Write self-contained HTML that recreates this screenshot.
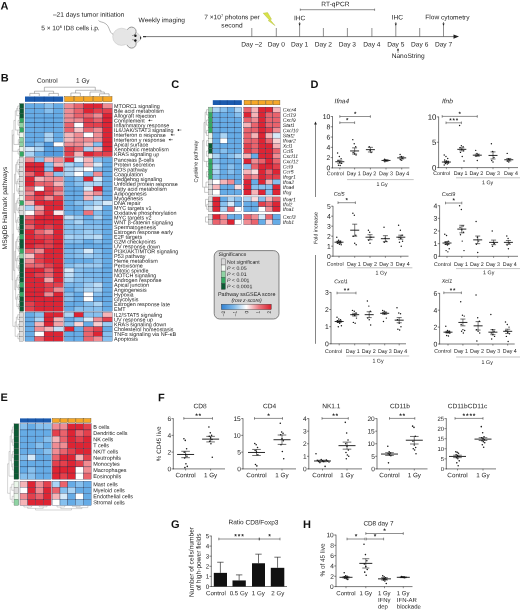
<!DOCTYPE html>
<html lang="en"><head><meta charset="utf-8"><title>Figure</title>
<style>
html,body{margin:0;padding:0;background:#fff;}
body{width:520px;height:611px;overflow:hidden;}
svg{display:block;font-family:"Liberation Sans", sans-serif;text-rendering:geometricPrecision;}
</style></head><body>
<svg width="520" height="611" viewBox="0 0 520 611">
<rect x="0" y="0" width="520" height="611" fill="#ffffff"/>
<text x="0.6" y="9.6" font-size="11" text-anchor="start" font-weight="bold" font-style="normal" fill="#111" transform="rotate(0.1 0.6 9.6)">A</text>
<text x="0.8" y="81.5" font-size="11" text-anchor="start" font-weight="bold" font-style="normal" fill="#111" transform="rotate(0.1 0.8 81.5)">B</text>
<text x="171.2" y="88.0" font-size="11" text-anchor="start" font-weight="bold" font-style="normal" fill="#111" transform="rotate(0.1 171.2 88.0)">C</text>
<text x="310.6" y="88.0" font-size="11" text-anchor="start" font-weight="bold" font-style="normal" fill="#111" transform="rotate(0.1 310.6 88.0)">D</text>
<text x="0.6" y="401" font-size="11" text-anchor="start" font-weight="bold" font-style="normal" fill="#111" transform="rotate(0.1 0.6 401)">E</text>
<text x="158" y="401.2" font-size="11" text-anchor="start" font-weight="bold" font-style="normal" fill="#111" transform="rotate(0.1 158 401.2)">F</text>
<text x="171" y="528.1" font-size="11" text-anchor="start" font-weight="bold" font-style="normal" fill="#111" transform="rotate(0.1 171 528.1)">G</text>
<text x="302.9" y="528.1" font-size="11" text-anchor="start" font-weight="bold" font-style="normal" fill="#111" transform="rotate(0.1 302.9 528.1)">H</text>
<text x="88.7" y="16.7" font-size="6.6" text-anchor="middle" font-weight="normal" font-style="normal" fill="#222" transform="rotate(0.1 88.7 16.7)">–21 days tumor initiation</text>
<text x="70.4" y="30.2" font-size="6.6" text-anchor="middle" fill="#222" transform="rotate(0.1 70.4 30.2)">5 × 10<tspan font-size="4" dy="-2.2">6</tspan><tspan dy="2.2"> ID8 cells i.p.</tspan></text>
<text x="161.8" y="22.2" font-size="6.6" text-anchor="middle" font-weight="normal" font-style="normal" fill="#222" transform="rotate(0.1 161.8 22.2)">Weekly imaging</text>
<text x="232" y="19.3" font-size="6.6" text-anchor="middle" fill="#222" transform="rotate(0.1 232 19.3)">7 ×10<tspan font-size="4" dy="-2.2">7</tspan><tspan dy="2.2"> photons per</tspan></text>
<text x="232" y="27.5" font-size="6.6" text-anchor="middle" font-weight="normal" font-style="normal" fill="#222" transform="rotate(0.1 232 27.5)">second</text>
<path d="M113.5 34.5 C109 33 110 27 106 24 C103 21.5 100 22.5 98.5 20.5" fill="none" stroke="#666" stroke-width="0.5"/>
<ellipse cx="121.6" cy="36.8" rx="8.9" ry="8.6" fill="#e5e5e5" stroke="#b5b5b5" stroke-width="0.4"/>
<path d="M127 29.8 Q137.5 30.2 141.6 37.9 Q137.5 45.4 127 45.6 Z" fill="#e5e5e5" stroke="#b0b0b0" stroke-width="0.4"/>
<ellipse cx="131.6" cy="31.4" rx="4.5" ry="4.3" fill="#e9e9e9" stroke="#8a8a8a" stroke-width="0.9"/>
<ellipse cx="131.6" cy="43.8" rx="4.5" ry="4.3" fill="#e9e9e9" stroke="#8a8a8a" stroke-width="0.9"/>
<ellipse cx="127.5" cy="37.4" rx="5" ry="7.6" fill="#e5e5e5"/>
<circle cx="135.40" cy="35.70" r="1.2" fill="#111"/>
<circle cx="135.40" cy="40.50" r="1.2" fill="#111"/>
<path d="M140.0 36.1 Q142.4 37.9 140.0 39.7 Z" fill="#333"/>
<line x1="143.00" y1="36.60" x2="146.00" y2="36.60" stroke="#222" stroke-width="1.2"/>
<line x1="143.00" y1="36.60" x2="455.00" y2="36.60" stroke="#444" stroke-width="0.7"/>
<path d="M453.5 34.5 L459 36.6 L453.5 38.7 Z" fill="#222"/>
<line x1="251.80" y1="36.60" x2="251.80" y2="28.00" stroke="#444" stroke-width="0.6"/>
<text x="251.8" y="46.6" font-size="6.6" text-anchor="middle" font-weight="normal" font-style="normal" fill="#222" transform="rotate(0.1 251.8 46.6)">Day –2</text>
<line x1="276.30" y1="36.60" x2="276.30" y2="28.00" stroke="#444" stroke-width="0.6"/>
<text x="276.3" y="46.6" font-size="6.6" text-anchor="middle" font-weight="normal" font-style="normal" fill="#222" transform="rotate(0.1 276.3 46.6)">Day 0</text>
<line x1="299.60" y1="36.60" x2="299.60" y2="22.00" stroke="#444" stroke-width="0.6"/>
<text x="299.6" y="46.6" font-size="6.6" text-anchor="middle" font-weight="normal" font-style="normal" fill="#222" transform="rotate(0.1 299.6 46.6)">Day 1</text>
<path d="M298.5 23.6 L300.70000000000005 23.6 L299.6 25.8 Z" fill="#222"/>
<line x1="323.40" y1="36.60" x2="323.40" y2="28.00" stroke="#444" stroke-width="0.6"/>
<text x="323.4" y="46.6" font-size="6.6" text-anchor="middle" font-weight="normal" font-style="normal" fill="#222" transform="rotate(0.1 323.4 46.6)">Day 2</text>
<line x1="347.40" y1="36.60" x2="347.40" y2="28.00" stroke="#444" stroke-width="0.6"/>
<text x="347.4" y="46.6" font-size="6.6" text-anchor="middle" font-weight="normal" font-style="normal" fill="#222" transform="rotate(0.1 347.4 46.6)">Day 3</text>
<line x1="371.90" y1="36.60" x2="371.90" y2="28.00" stroke="#444" stroke-width="0.6"/>
<text x="371.9" y="46.6" font-size="6.6" text-anchor="middle" font-weight="normal" font-style="normal" fill="#222" transform="rotate(0.1 371.9 46.6)">Day 4</text>
<line x1="395.80" y1="36.60" x2="395.80" y2="22.00" stroke="#444" stroke-width="0.6"/>
<text x="395.8" y="46.6" font-size="6.6" text-anchor="middle" font-weight="normal" font-style="normal" fill="#222" transform="rotate(0.1 395.8 46.6)">Day 5</text>
<path d="M394.7 23.6 L396.90000000000003 23.6 L395.8 25.8 Z" fill="#222"/>
<line x1="419.70" y1="36.60" x2="419.70" y2="28.00" stroke="#444" stroke-width="0.6"/>
<text x="419.7" y="46.6" font-size="6.6" text-anchor="middle" font-weight="normal" font-style="normal" fill="#222" transform="rotate(0.1 419.7 46.6)">Day 6</text>
<line x1="443.50" y1="36.60" x2="443.50" y2="22.00" stroke="#444" stroke-width="0.6"/>
<text x="443.5" y="46.6" font-size="6.6" text-anchor="middle" font-weight="normal" font-style="normal" fill="#222" transform="rotate(0.1 443.5 46.6)">Day 7</text>
<path d="M442.4 23.6 L444.6 23.6 L443.5 25.8 Z" fill="#222"/>
<text x="299.6" y="20.2" font-size="6.6" text-anchor="middle" font-weight="normal" font-style="normal" fill="#222" transform="rotate(0.1 299.6 20.2)">IHC</text>
<text x="397.3" y="19.4" font-size="6.6" text-anchor="middle" font-weight="normal" font-style="normal" fill="#222" transform="rotate(0.1 397.3 19.4)">IHC</text>
<text x="447.4" y="19.4" font-size="6.6" text-anchor="middle" font-weight="normal" font-style="normal" fill="#222" transform="rotate(0.1 447.4 19.4)">Flow cytometry</text>
<text x="335.4" y="6.2" font-size="6.6" text-anchor="middle" font-weight="normal" font-style="normal" fill="#222" transform="rotate(0.1 335.4 6.2)">RT-qPCR</text>
<line x1="300.30" y1="9.70" x2="374.60" y2="9.70" stroke="#444" stroke-width="0.6"/>
<line x1="300.30" y1="8.60" x2="300.30" y2="10.80" stroke="#444" stroke-width="0.6"/>
<line x1="374.60" y1="8.60" x2="374.60" y2="10.80" stroke="#444" stroke-width="0.6"/>
<line x1="398.00" y1="53.00" x2="398.00" y2="49.00" stroke="#333" stroke-width="0.5"/>
<path d="M396.9 50.4 L399.1 50.4 L398 48.2 Z" fill="#222"/>
<text x="408.2" y="58" font-size="6.6" text-anchor="middle" font-weight="normal" font-style="normal" fill="#222" transform="rotate(0.1 408.2 58)">NanoString</text>
<path d="M263.2 13.2 L267.6 12.6 L271.5 19.2 L270 19.6 L275 25.6 L268.2 20.6 L269.6 20.2 Z" fill="#d9e24a" stroke="#a9b52a" stroke-width="0.4"/>
<rect x="25.00" y="96.50" width="38.20" height="5.30" fill="#1b5aae"/>
<line x1="34.55" y1="96.50" x2="34.55" y2="101.80" stroke="#0e3a7a" stroke-width="0.4"/>
<line x1="44.10" y1="96.50" x2="44.10" y2="101.80" stroke="#0e3a7a" stroke-width="0.4"/>
<line x1="53.65" y1="96.50" x2="53.65" y2="101.80" stroke="#0e3a7a" stroke-width="0.4"/>
<rect x="64.75" y="96.70" width="9.05" height="4.90" fill="#f6a828" stroke="#7a5410" stroke-width="0.45"/>
<rect x="74.30" y="96.70" width="9.05" height="4.90" fill="#f6a828" stroke="#7a5410" stroke-width="0.45"/>
<rect x="83.85" y="96.70" width="9.05" height="4.90" fill="#f6a828" stroke="#7a5410" stroke-width="0.45"/>
<rect x="93.40" y="96.70" width="9.05" height="4.90" fill="#f6a828" stroke="#7a5410" stroke-width="0.45"/>
<rect x="102.95" y="96.70" width="9.05" height="4.90" fill="#f6a828" stroke="#7a5410" stroke-width="0.45"/>
<rect x="19.70" y="103.60" width="4.10" height="4.81" fill="#0c5a34" stroke="#444" stroke-width="0.26"/>
<rect x="25.00" y="103.60" width="9.55" height="4.81" fill="#66ace6" stroke="#0d1a3a" stroke-width="0.26"/>
<rect x="34.55" y="103.60" width="9.55" height="4.81" fill="#66ace6" stroke="#0d1a3a" stroke-width="0.26"/>
<rect x="44.10" y="103.60" width="9.55" height="4.81" fill="#86c0ee" stroke="#0d1a3a" stroke-width="0.26"/>
<rect x="53.65" y="103.60" width="9.55" height="4.81" fill="#66ace6" stroke="#0d1a3a" stroke-width="0.26"/>
<rect x="64.50" y="103.60" width="9.55" height="4.81" fill="#f08c92" stroke="#0d1a3a" stroke-width="0.26"/>
<rect x="74.05" y="103.60" width="9.55" height="4.81" fill="#ea636c" stroke="#0d1a3a" stroke-width="0.26"/>
<rect x="83.60" y="103.60" width="9.55" height="4.81" fill="#de2433" stroke="#0d1a3a" stroke-width="0.26"/>
<rect x="93.15" y="103.60" width="9.55" height="4.81" fill="#de2433" stroke="#0d1a3a" stroke-width="0.26"/>
<rect x="102.70" y="103.60" width="9.55" height="4.81" fill="#f08c92" stroke="#0d1a3a" stroke-width="0.26"/>
<text x="114" y="107.967" font-size="5.45" text-anchor="start" font-weight="normal" font-style="normal" fill="#222" transform="rotate(0.1 114 107.967)">MTORC1 signaling</text>
<rect x="19.70" y="108.41" width="4.10" height="4.81" fill="#0c5a34" stroke="#444" stroke-width="0.26"/>
<rect x="25.00" y="108.41" width="9.55" height="4.81" fill="#66ace6" stroke="#0d1a3a" stroke-width="0.26"/>
<rect x="34.55" y="108.41" width="9.55" height="4.81" fill="#66ace6" stroke="#0d1a3a" stroke-width="0.26"/>
<rect x="44.10" y="108.41" width="9.55" height="4.81" fill="#86c0ee" stroke="#0d1a3a" stroke-width="0.26"/>
<rect x="53.65" y="108.41" width="9.55" height="4.81" fill="#66ace6" stroke="#0d1a3a" stroke-width="0.26"/>
<rect x="64.50" y="108.41" width="9.55" height="4.81" fill="#f08c92" stroke="#0d1a3a" stroke-width="0.26"/>
<rect x="74.05" y="108.41" width="9.55" height="4.81" fill="#ea636c" stroke="#0d1a3a" stroke-width="0.26"/>
<rect x="83.60" y="108.41" width="9.55" height="4.81" fill="#de2433" stroke="#0d1a3a" stroke-width="0.26"/>
<rect x="93.15" y="108.41" width="9.55" height="4.81" fill="#e4404c" stroke="#0d1a3a" stroke-width="0.26"/>
<rect x="102.70" y="108.41" width="9.55" height="4.81" fill="#e4404c" stroke="#0d1a3a" stroke-width="0.26"/>
<text x="114" y="112.777" font-size="5.45" text-anchor="start" font-weight="normal" font-style="normal" fill="#222" transform="rotate(0.1 114 112.777)">Bile acid metabolism</text>
<rect x="19.70" y="113.22" width="4.10" height="4.81" fill="#0c5a34" stroke="#444" stroke-width="0.26"/>
<rect x="25.00" y="113.22" width="9.55" height="4.81" fill="#66ace6" stroke="#0d1a3a" stroke-width="0.26"/>
<rect x="34.55" y="113.22" width="9.55" height="4.81" fill="#66ace6" stroke="#0d1a3a" stroke-width="0.26"/>
<rect x="44.10" y="113.22" width="9.55" height="4.81" fill="#66ace6" stroke="#0d1a3a" stroke-width="0.26"/>
<rect x="53.65" y="113.22" width="9.55" height="4.81" fill="#66ace6" stroke="#0d1a3a" stroke-width="0.26"/>
<rect x="64.50" y="113.22" width="9.55" height="4.81" fill="#f08c92" stroke="#0d1a3a" stroke-width="0.26"/>
<rect x="74.05" y="113.22" width="9.55" height="4.81" fill="#ea636c" stroke="#0d1a3a" stroke-width="0.26"/>
<rect x="83.60" y="113.22" width="9.55" height="4.81" fill="#ea636c" stroke="#0d1a3a" stroke-width="0.26"/>
<rect x="93.15" y="113.22" width="9.55" height="4.81" fill="#f08c92" stroke="#0d1a3a" stroke-width="0.26"/>
<rect x="102.70" y="113.22" width="9.55" height="4.81" fill="#de2433" stroke="#0d1a3a" stroke-width="0.26"/>
<text x="114" y="117.587" font-size="5.45" text-anchor="start" font-weight="normal" font-style="normal" fill="#222" transform="rotate(0.1 114 117.587)">Allograft rejection</text>
<rect x="19.70" y="118.03" width="4.10" height="4.81" fill="#35a862" stroke="#444" stroke-width="0.26"/>
<rect x="25.00" y="118.03" width="9.55" height="4.81" fill="#66ace6" stroke="#0d1a3a" stroke-width="0.26"/>
<rect x="34.55" y="118.03" width="9.55" height="4.81" fill="#66ace6" stroke="#0d1a3a" stroke-width="0.26"/>
<rect x="44.10" y="118.03" width="9.55" height="4.81" fill="#66ace6" stroke="#0d1a3a" stroke-width="0.26"/>
<rect x="53.65" y="118.03" width="9.55" height="4.81" fill="#66ace6" stroke="#0d1a3a" stroke-width="0.26"/>
<rect x="64.50" y="118.03" width="9.55" height="4.81" fill="#f08c92" stroke="#0d1a3a" stroke-width="0.26"/>
<rect x="74.05" y="118.03" width="9.55" height="4.81" fill="#f08c92" stroke="#0d1a3a" stroke-width="0.26"/>
<rect x="83.60" y="118.03" width="9.55" height="4.81" fill="#e4404c" stroke="#0d1a3a" stroke-width="0.26"/>
<rect x="93.15" y="118.03" width="9.55" height="4.81" fill="#ea636c" stroke="#0d1a3a" stroke-width="0.26"/>
<rect x="102.70" y="118.03" width="9.55" height="4.81" fill="#de2433" stroke="#0d1a3a" stroke-width="0.26"/>
<text x="114" y="122.397" font-size="5.45" text-anchor="start" font-weight="normal" font-style="normal" fill="#222" transform="rotate(0.1 114 122.397)">Complement</text>
<rect x="19.70" y="122.84" width="4.10" height="4.81" fill="#8fd3a3" stroke="#444" stroke-width="0.26"/>
<rect x="25.00" y="122.84" width="9.55" height="4.81" fill="#66ace6" stroke="#0d1a3a" stroke-width="0.26"/>
<rect x="34.55" y="122.84" width="9.55" height="4.81" fill="#66ace6" stroke="#0d1a3a" stroke-width="0.26"/>
<rect x="44.10" y="122.84" width="9.55" height="4.81" fill="#66ace6" stroke="#0d1a3a" stroke-width="0.26"/>
<rect x="53.65" y="122.84" width="9.55" height="4.81" fill="#66ace6" stroke="#0d1a3a" stroke-width="0.26"/>
<rect x="64.50" y="122.84" width="9.55" height="4.81" fill="#ea636c" stroke="#0d1a3a" stroke-width="0.26"/>
<rect x="74.05" y="122.84" width="9.55" height="4.81" fill="#ffffff" stroke="#0d1a3a" stroke-width="0.26"/>
<rect x="83.60" y="122.84" width="9.55" height="4.81" fill="#e4404c" stroke="#0d1a3a" stroke-width="0.26"/>
<rect x="93.15" y="122.84" width="9.55" height="4.81" fill="#e4404c" stroke="#0d1a3a" stroke-width="0.26"/>
<rect x="102.70" y="122.84" width="9.55" height="4.81" fill="#de2433" stroke="#0d1a3a" stroke-width="0.26"/>
<text x="114" y="127.207" font-size="5.45" text-anchor="start" font-weight="normal" font-style="normal" fill="#222" transform="rotate(0.1 114 127.207)">Inflammatory response</text>
<rect x="19.70" y="127.65" width="4.10" height="4.81" fill="#35a862" stroke="#444" stroke-width="0.26"/>
<rect x="25.00" y="127.65" width="9.55" height="4.81" fill="#66ace6" stroke="#0d1a3a" stroke-width="0.26"/>
<rect x="34.55" y="127.65" width="9.55" height="4.81" fill="#66ace6" stroke="#0d1a3a" stroke-width="0.26"/>
<rect x="44.10" y="127.65" width="9.55" height="4.81" fill="#66ace6" stroke="#0d1a3a" stroke-width="0.26"/>
<rect x="53.65" y="127.65" width="9.55" height="4.81" fill="#66ace6" stroke="#0d1a3a" stroke-width="0.26"/>
<rect x="64.50" y="127.65" width="9.55" height="4.81" fill="#ea636c" stroke="#0d1a3a" stroke-width="0.26"/>
<rect x="74.05" y="127.65" width="9.55" height="4.81" fill="#f8c4c6" stroke="#0d1a3a" stroke-width="0.26"/>
<rect x="83.60" y="127.65" width="9.55" height="4.81" fill="#ea636c" stroke="#0d1a3a" stroke-width="0.26"/>
<rect x="93.15" y="127.65" width="9.55" height="4.81" fill="#f08c92" stroke="#0d1a3a" stroke-width="0.26"/>
<rect x="102.70" y="127.65" width="9.55" height="4.81" fill="#de2433" stroke="#0d1a3a" stroke-width="0.26"/>
<text x="114" y="132.01699999999997" font-size="5.45" text-anchor="start" font-weight="normal" font-style="normal" fill="#222" transform="rotate(0.1 114 132.01699999999997)">IL6/JAK/STAT3 signaling</text>
<rect x="19.70" y="132.46" width="4.10" height="4.81" fill="#eaf6ea" stroke="#444" stroke-width="0.26"/>
<rect x="25.00" y="132.46" width="9.55" height="4.81" fill="#66ace6" stroke="#0d1a3a" stroke-width="0.26"/>
<rect x="34.55" y="132.46" width="9.55" height="4.81" fill="#66ace6" stroke="#0d1a3a" stroke-width="0.26"/>
<rect x="44.10" y="132.46" width="9.55" height="4.81" fill="#aad4f4" stroke="#0d1a3a" stroke-width="0.26"/>
<rect x="53.65" y="132.46" width="9.55" height="4.81" fill="#66ace6" stroke="#0d1a3a" stroke-width="0.26"/>
<rect x="64.50" y="132.46" width="9.55" height="4.81" fill="#f6b4b7" stroke="#0d1a3a" stroke-width="0.26"/>
<rect x="74.05" y="132.46" width="9.55" height="4.81" fill="#f08c92" stroke="#0d1a3a" stroke-width="0.26"/>
<rect x="83.60" y="132.46" width="9.55" height="4.81" fill="#ffffff" stroke="#0d1a3a" stroke-width="0.26"/>
<rect x="93.15" y="132.46" width="9.55" height="4.81" fill="#f08c92" stroke="#0d1a3a" stroke-width="0.26"/>
<rect x="102.70" y="132.46" width="9.55" height="4.81" fill="#de2433" stroke="#0d1a3a" stroke-width="0.26"/>
<text x="114" y="136.82699999999997" font-size="5.45" text-anchor="start" font-weight="normal" font-style="normal" fill="#222" transform="rotate(0.1 114 136.82699999999997)">Interferon α response</text>
<rect x="19.70" y="137.27" width="4.10" height="4.81" fill="#8fd3a3" stroke="#444" stroke-width="0.26"/>
<rect x="25.00" y="137.27" width="9.55" height="4.81" fill="#66ace6" stroke="#0d1a3a" stroke-width="0.26"/>
<rect x="34.55" y="137.27" width="9.55" height="4.81" fill="#66ace6" stroke="#0d1a3a" stroke-width="0.26"/>
<rect x="44.10" y="137.27" width="9.55" height="4.81" fill="#aad4f4" stroke="#0d1a3a" stroke-width="0.26"/>
<rect x="53.65" y="137.27" width="9.55" height="4.81" fill="#66ace6" stroke="#0d1a3a" stroke-width="0.26"/>
<rect x="64.50" y="137.27" width="9.55" height="4.81" fill="#f6b4b7" stroke="#0d1a3a" stroke-width="0.26"/>
<rect x="74.05" y="137.27" width="9.55" height="4.81" fill="#f08c92" stroke="#0d1a3a" stroke-width="0.26"/>
<rect x="83.60" y="137.27" width="9.55" height="4.81" fill="#f08c92" stroke="#0d1a3a" stroke-width="0.26"/>
<rect x="93.15" y="137.27" width="9.55" height="4.81" fill="#f08c92" stroke="#0d1a3a" stroke-width="0.26"/>
<rect x="102.70" y="137.27" width="9.55" height="4.81" fill="#de2433" stroke="#0d1a3a" stroke-width="0.26"/>
<text x="114" y="141.63699999999997" font-size="5.45" text-anchor="start" font-weight="normal" font-style="normal" fill="#222" transform="rotate(0.1 114 141.63699999999997)">Interferon γ response</text>
<rect x="19.70" y="142.08" width="4.10" height="4.81" fill="#8fd3a3" stroke="#444" stroke-width="0.26"/>
<rect x="25.00" y="142.08" width="9.55" height="4.81" fill="#66ace6" stroke="#0d1a3a" stroke-width="0.26"/>
<rect x="34.55" y="142.08" width="9.55" height="4.81" fill="#86c0ee" stroke="#0d1a3a" stroke-width="0.26"/>
<rect x="44.10" y="142.08" width="9.55" height="4.81" fill="#519bde" stroke="#0d1a3a" stroke-width="0.26"/>
<rect x="53.65" y="142.08" width="9.55" height="4.81" fill="#ffffff" stroke="#0d1a3a" stroke-width="0.26"/>
<rect x="64.50" y="142.08" width="9.55" height="4.81" fill="#f08c92" stroke="#0d1a3a" stroke-width="0.26"/>
<rect x="74.05" y="142.08" width="9.55" height="4.81" fill="#f08c92" stroke="#0d1a3a" stroke-width="0.26"/>
<rect x="83.60" y="142.08" width="9.55" height="4.81" fill="#f6b4b7" stroke="#0d1a3a" stroke-width="0.26"/>
<rect x="93.15" y="142.08" width="9.55" height="4.81" fill="#86c0ee" stroke="#0d1a3a" stroke-width="0.26"/>
<rect x="102.70" y="142.08" width="9.55" height="4.81" fill="#de2433" stroke="#0d1a3a" stroke-width="0.26"/>
<text x="114" y="146.44699999999997" font-size="5.45" text-anchor="start" font-weight="normal" font-style="normal" fill="#222" transform="rotate(0.1 114 146.44699999999997)">Apical surface</text>
<rect x="19.70" y="146.89" width="4.10" height="4.81" fill="#eaf6ea" stroke="#444" stroke-width="0.26"/>
<rect x="25.00" y="146.89" width="9.55" height="4.81" fill="#d6eaf9" stroke="#0d1a3a" stroke-width="0.26"/>
<rect x="34.55" y="146.89" width="9.55" height="4.81" fill="#aad4f4" stroke="#0d1a3a" stroke-width="0.26"/>
<rect x="44.10" y="146.89" width="9.55" height="4.81" fill="#59a2e1" stroke="#0d1a3a" stroke-width="0.26"/>
<rect x="53.65" y="146.89" width="9.55" height="4.81" fill="#59a2e1" stroke="#0d1a3a" stroke-width="0.26"/>
<rect x="64.50" y="146.89" width="9.55" height="4.81" fill="#e4404c" stroke="#0d1a3a" stroke-width="0.26"/>
<rect x="74.05" y="146.89" width="9.55" height="4.81" fill="#ea636c" stroke="#0d1a3a" stroke-width="0.26"/>
<rect x="83.60" y="146.89" width="9.55" height="4.81" fill="#aad4f4" stroke="#0d1a3a" stroke-width="0.26"/>
<rect x="93.15" y="146.89" width="9.55" height="4.81" fill="#f6b4b7" stroke="#0d1a3a" stroke-width="0.26"/>
<rect x="102.70" y="146.89" width="9.55" height="4.81" fill="#de2433" stroke="#0d1a3a" stroke-width="0.26"/>
<text x="114" y="151.25699999999998" font-size="5.45" text-anchor="start" font-weight="normal" font-style="normal" fill="#222" transform="rotate(0.1 114 151.25699999999998)">Xenobiotic metabolism</text>
<rect x="19.70" y="151.70" width="4.10" height="4.81" fill="#35a862" stroke="#444" stroke-width="0.26"/>
<rect x="25.00" y="151.70" width="9.55" height="4.81" fill="#aad4f4" stroke="#0d1a3a" stroke-width="0.26"/>
<rect x="34.55" y="151.70" width="9.55" height="4.81" fill="#66ace6" stroke="#0d1a3a" stroke-width="0.26"/>
<rect x="44.10" y="151.70" width="9.55" height="4.81" fill="#519bde" stroke="#0d1a3a" stroke-width="0.26"/>
<rect x="53.65" y="151.70" width="9.55" height="4.81" fill="#519bde" stroke="#0d1a3a" stroke-width="0.26"/>
<rect x="64.50" y="151.70" width="9.55" height="4.81" fill="#e4404c" stroke="#0d1a3a" stroke-width="0.26"/>
<rect x="74.05" y="151.70" width="9.55" height="4.81" fill="#f6b4b7" stroke="#0d1a3a" stroke-width="0.26"/>
<rect x="83.60" y="151.70" width="9.55" height="4.81" fill="#de2433" stroke="#0d1a3a" stroke-width="0.26"/>
<rect x="93.15" y="151.70" width="9.55" height="4.81" fill="#e4404c" stroke="#0d1a3a" stroke-width="0.26"/>
<rect x="102.70" y="151.70" width="9.55" height="4.81" fill="#e4404c" stroke="#0d1a3a" stroke-width="0.26"/>
<text x="114" y="156.06699999999998" font-size="5.45" text-anchor="start" font-weight="normal" font-style="normal" fill="#222" transform="rotate(0.1 114 156.06699999999998)">KRAS signaling up</text>
<rect x="19.70" y="157.40" width="4.10" height="4.81" fill="#dcdcdc" stroke="#444" stroke-width="0.26"/>
<rect x="25.00" y="157.40" width="9.55" height="4.81" fill="#f08c92" stroke="#0d1a3a" stroke-width="0.26"/>
<rect x="34.55" y="157.40" width="9.55" height="4.81" fill="#86c0ee" stroke="#0d1a3a" stroke-width="0.26"/>
<rect x="44.10" y="157.40" width="9.55" height="4.81" fill="#f6b4b7" stroke="#0d1a3a" stroke-width="0.26"/>
<rect x="53.65" y="157.40" width="9.55" height="4.81" fill="#f08c92" stroke="#0d1a3a" stroke-width="0.26"/>
<rect x="64.50" y="157.40" width="9.55" height="4.81" fill="#de2433" stroke="#0d1a3a" stroke-width="0.26"/>
<rect x="74.05" y="157.40" width="9.55" height="4.81" fill="#e6f2fb" stroke="#0d1a3a" stroke-width="0.26"/>
<rect x="83.60" y="157.40" width="9.55" height="4.81" fill="#f6b4b7" stroke="#0d1a3a" stroke-width="0.26"/>
<rect x="93.15" y="157.40" width="9.55" height="4.81" fill="#86c0ee" stroke="#0d1a3a" stroke-width="0.26"/>
<rect x="102.70" y="157.40" width="9.55" height="4.81" fill="#66ace6" stroke="#0d1a3a" stroke-width="0.26"/>
<text x="114" y="161.767" font-size="5.45" text-anchor="start" font-weight="normal" font-style="normal" fill="#222" transform="rotate(0.1 114 161.767)">Pancreas β-cells</text>
<rect x="19.70" y="162.21" width="4.10" height="4.81" fill="#dcdcdc" stroke="#444" stroke-width="0.26"/>
<rect x="25.00" y="162.21" width="9.55" height="4.81" fill="#de2433" stroke="#0d1a3a" stroke-width="0.26"/>
<rect x="34.55" y="162.21" width="9.55" height="4.81" fill="#de2433" stroke="#0d1a3a" stroke-width="0.26"/>
<rect x="44.10" y="162.21" width="9.55" height="4.81" fill="#86c0ee" stroke="#0d1a3a" stroke-width="0.26"/>
<rect x="53.65" y="162.21" width="9.55" height="4.81" fill="#f6b4b7" stroke="#0d1a3a" stroke-width="0.26"/>
<rect x="64.50" y="162.21" width="9.55" height="4.81" fill="#aad4f4" stroke="#0d1a3a" stroke-width="0.26"/>
<rect x="74.05" y="162.21" width="9.55" height="4.81" fill="#86c0ee" stroke="#0d1a3a" stroke-width="0.26"/>
<rect x="83.60" y="162.21" width="9.55" height="4.81" fill="#f6b4b7" stroke="#0d1a3a" stroke-width="0.26"/>
<rect x="93.15" y="162.21" width="9.55" height="4.81" fill="#d6eaf9" stroke="#0d1a3a" stroke-width="0.26"/>
<rect x="102.70" y="162.21" width="9.55" height="4.81" fill="#66ace6" stroke="#0d1a3a" stroke-width="0.26"/>
<text x="114" y="166.577" font-size="5.45" text-anchor="start" font-weight="normal" font-style="normal" fill="#222" transform="rotate(0.1 114 166.577)">Protein secretion</text>
<rect x="19.70" y="167.02" width="4.10" height="4.81" fill="#dcdcdc" stroke="#444" stroke-width="0.26"/>
<rect x="25.00" y="167.02" width="9.55" height="4.81" fill="#de2433" stroke="#0d1a3a" stroke-width="0.26"/>
<rect x="34.55" y="167.02" width="9.55" height="4.81" fill="#de2433" stroke="#0d1a3a" stroke-width="0.26"/>
<rect x="44.10" y="167.02" width="9.55" height="4.81" fill="#86c0ee" stroke="#0d1a3a" stroke-width="0.26"/>
<rect x="53.65" y="167.02" width="9.55" height="4.81" fill="#de2433" stroke="#0d1a3a" stroke-width="0.26"/>
<rect x="64.50" y="167.02" width="9.55" height="4.81" fill="#aad4f4" stroke="#0d1a3a" stroke-width="0.26"/>
<rect x="74.05" y="167.02" width="9.55" height="4.81" fill="#d6eaf9" stroke="#0d1a3a" stroke-width="0.26"/>
<rect x="83.60" y="167.02" width="9.55" height="4.81" fill="#ffffff" stroke="#0d1a3a" stroke-width="0.26"/>
<rect x="93.15" y="167.02" width="9.55" height="4.81" fill="#86c0ee" stroke="#0d1a3a" stroke-width="0.26"/>
<rect x="102.70" y="167.02" width="9.55" height="4.81" fill="#66ace6" stroke="#0d1a3a" stroke-width="0.26"/>
<text x="114" y="171.387" font-size="5.45" text-anchor="start" font-weight="normal" font-style="normal" fill="#222" transform="rotate(0.1 114 171.387)">ROS pathway</text>
<rect x="19.70" y="171.83" width="4.10" height="4.81" fill="#dcdcdc" stroke="#444" stroke-width="0.26"/>
<rect x="25.00" y="171.83" width="9.55" height="4.81" fill="#ea636c" stroke="#0d1a3a" stroke-width="0.26"/>
<rect x="34.55" y="171.83" width="9.55" height="4.81" fill="#de2433" stroke="#0d1a3a" stroke-width="0.26"/>
<rect x="44.10" y="171.83" width="9.55" height="4.81" fill="#f08c92" stroke="#0d1a3a" stroke-width="0.26"/>
<rect x="53.65" y="171.83" width="9.55" height="4.81" fill="#86c0ee" stroke="#0d1a3a" stroke-width="0.26"/>
<rect x="64.50" y="171.83" width="9.55" height="4.81" fill="#aad4f4" stroke="#0d1a3a" stroke-width="0.26"/>
<rect x="74.05" y="171.83" width="9.55" height="4.81" fill="#ffffff" stroke="#0d1a3a" stroke-width="0.26"/>
<rect x="83.60" y="171.83" width="9.55" height="4.81" fill="#86c0ee" stroke="#0d1a3a" stroke-width="0.26"/>
<rect x="93.15" y="171.83" width="9.55" height="4.81" fill="#f08c92" stroke="#0d1a3a" stroke-width="0.26"/>
<rect x="102.70" y="171.83" width="9.55" height="4.81" fill="#66ace6" stroke="#0d1a3a" stroke-width="0.26"/>
<text x="114" y="176.197" font-size="5.45" text-anchor="start" font-weight="normal" font-style="normal" fill="#222" transform="rotate(0.1 114 176.197)">Coagulation</text>
<rect x="19.70" y="176.64" width="4.10" height="4.81" fill="#dcdcdc" stroke="#444" stroke-width="0.26"/>
<rect x="25.00" y="176.64" width="9.55" height="4.81" fill="#de2433" stroke="#0d1a3a" stroke-width="0.26"/>
<rect x="34.55" y="176.64" width="9.55" height="4.81" fill="#f6b4b7" stroke="#0d1a3a" stroke-width="0.26"/>
<rect x="44.10" y="176.64" width="9.55" height="4.81" fill="#f08c92" stroke="#0d1a3a" stroke-width="0.26"/>
<rect x="53.65" y="176.64" width="9.55" height="4.81" fill="#f08c92" stroke="#0d1a3a" stroke-width="0.26"/>
<rect x="64.50" y="176.64" width="9.55" height="4.81" fill="#66ace6" stroke="#0d1a3a" stroke-width="0.26"/>
<rect x="74.05" y="176.64" width="9.55" height="4.81" fill="#86c0ee" stroke="#0d1a3a" stroke-width="0.26"/>
<rect x="83.60" y="176.64" width="9.55" height="4.81" fill="#de2433" stroke="#0d1a3a" stroke-width="0.26"/>
<rect x="93.15" y="176.64" width="9.55" height="4.81" fill="#d6eaf9" stroke="#0d1a3a" stroke-width="0.26"/>
<rect x="102.70" y="176.64" width="9.55" height="4.81" fill="#66ace6" stroke="#0d1a3a" stroke-width="0.26"/>
<text x="114" y="181.007" font-size="5.45" text-anchor="start" font-weight="normal" font-style="normal" fill="#222" transform="rotate(0.1 114 181.007)">Hedgehog signaling</text>
<rect x="19.70" y="181.45" width="4.10" height="4.81" fill="#dcdcdc" stroke="#444" stroke-width="0.26"/>
<rect x="25.00" y="181.45" width="9.55" height="4.81" fill="#de2433" stroke="#0d1a3a" stroke-width="0.26"/>
<rect x="34.55" y="181.45" width="9.55" height="4.81" fill="#ea636c" stroke="#0d1a3a" stroke-width="0.26"/>
<rect x="44.10" y="181.45" width="9.55" height="4.81" fill="#ea636c" stroke="#0d1a3a" stroke-width="0.26"/>
<rect x="53.65" y="181.45" width="9.55" height="4.81" fill="#f6b4b7" stroke="#0d1a3a" stroke-width="0.26"/>
<rect x="64.50" y="181.45" width="9.55" height="4.81" fill="#66ace6" stroke="#0d1a3a" stroke-width="0.26"/>
<rect x="74.05" y="181.45" width="9.55" height="4.81" fill="#86c0ee" stroke="#0d1a3a" stroke-width="0.26"/>
<rect x="83.60" y="181.45" width="9.55" height="4.81" fill="#aad4f4" stroke="#0d1a3a" stroke-width="0.26"/>
<rect x="93.15" y="181.45" width="9.55" height="4.81" fill="#aad4f4" stroke="#0d1a3a" stroke-width="0.26"/>
<rect x="102.70" y="181.45" width="9.55" height="4.81" fill="#66ace6" stroke="#0d1a3a" stroke-width="0.26"/>
<text x="114" y="185.81699999999998" font-size="5.45" text-anchor="start" font-weight="normal" font-style="normal" fill="#222" transform="rotate(0.1 114 185.81699999999998)">Unfolded protein response</text>
<rect x="19.70" y="186.26" width="4.10" height="4.81" fill="#eaf6ea" stroke="#444" stroke-width="0.26"/>
<rect x="25.00" y="186.26" width="9.55" height="4.81" fill="#ea636c" stroke="#0d1a3a" stroke-width="0.26"/>
<rect x="34.55" y="186.26" width="9.55" height="4.81" fill="#ffffff" stroke="#0d1a3a" stroke-width="0.26"/>
<rect x="44.10" y="186.26" width="9.55" height="4.81" fill="#e4404c" stroke="#0d1a3a" stroke-width="0.26"/>
<rect x="53.65" y="186.26" width="9.55" height="4.81" fill="#ea636c" stroke="#0d1a3a" stroke-width="0.26"/>
<rect x="64.50" y="186.26" width="9.55" height="4.81" fill="#66ace6" stroke="#0d1a3a" stroke-width="0.26"/>
<rect x="74.05" y="186.26" width="9.55" height="4.81" fill="#66ace6" stroke="#0d1a3a" stroke-width="0.26"/>
<rect x="83.60" y="186.26" width="9.55" height="4.81" fill="#d6eaf9" stroke="#0d1a3a" stroke-width="0.26"/>
<rect x="93.15" y="186.26" width="9.55" height="4.81" fill="#de2433" stroke="#0d1a3a" stroke-width="0.26"/>
<rect x="102.70" y="186.26" width="9.55" height="4.81" fill="#66ace6" stroke="#0d1a3a" stroke-width="0.26"/>
<text x="114" y="190.62699999999998" font-size="5.45" text-anchor="start" font-weight="normal" font-style="normal" fill="#222" transform="rotate(0.1 114 190.62699999999998)">Fatty acid metabolism</text>
<rect x="19.70" y="191.07" width="4.10" height="4.81" fill="#dcdcdc" stroke="#444" stroke-width="0.26"/>
<rect x="25.00" y="191.07" width="9.55" height="4.81" fill="#f08c92" stroke="#0d1a3a" stroke-width="0.26"/>
<rect x="34.55" y="191.07" width="9.55" height="4.81" fill="#de2433" stroke="#0d1a3a" stroke-width="0.26"/>
<rect x="44.10" y="191.07" width="9.55" height="4.81" fill="#e4404c" stroke="#0d1a3a" stroke-width="0.26"/>
<rect x="53.65" y="191.07" width="9.55" height="4.81" fill="#f08c92" stroke="#0d1a3a" stroke-width="0.26"/>
<rect x="64.50" y="191.07" width="9.55" height="4.81" fill="#66ace6" stroke="#0d1a3a" stroke-width="0.26"/>
<rect x="74.05" y="191.07" width="9.55" height="4.81" fill="#66ace6" stroke="#0d1a3a" stroke-width="0.26"/>
<rect x="83.60" y="191.07" width="9.55" height="4.81" fill="#f6b4b7" stroke="#0d1a3a" stroke-width="0.26"/>
<rect x="93.15" y="191.07" width="9.55" height="4.81" fill="#f08c92" stroke="#0d1a3a" stroke-width="0.26"/>
<rect x="102.70" y="191.07" width="9.55" height="4.81" fill="#66ace6" stroke="#0d1a3a" stroke-width="0.26"/>
<text x="114" y="195.43699999999998" font-size="5.45" text-anchor="start" font-weight="normal" font-style="normal" fill="#222" transform="rotate(0.1 114 195.43699999999998)">Adipogenesis</text>
<rect x="19.70" y="195.88" width="4.10" height="4.81" fill="#eaf6ea" stroke="#444" stroke-width="0.26"/>
<rect x="25.00" y="195.88" width="9.55" height="4.81" fill="#ea636c" stroke="#0d1a3a" stroke-width="0.26"/>
<rect x="34.55" y="195.88" width="9.55" height="4.81" fill="#e4404c" stroke="#0d1a3a" stroke-width="0.26"/>
<rect x="44.10" y="195.88" width="9.55" height="4.81" fill="#f08c92" stroke="#0d1a3a" stroke-width="0.26"/>
<rect x="53.65" y="195.88" width="9.55" height="4.81" fill="#e4404c" stroke="#0d1a3a" stroke-width="0.26"/>
<rect x="64.50" y="195.88" width="9.55" height="4.81" fill="#66ace6" stroke="#0d1a3a" stroke-width="0.26"/>
<rect x="74.05" y="195.88" width="9.55" height="4.81" fill="#66ace6" stroke="#0d1a3a" stroke-width="0.26"/>
<rect x="83.60" y="195.88" width="9.55" height="4.81" fill="#f6b4b7" stroke="#0d1a3a" stroke-width="0.26"/>
<rect x="93.15" y="195.88" width="9.55" height="4.81" fill="#aad4f4" stroke="#0d1a3a" stroke-width="0.26"/>
<rect x="102.70" y="195.88" width="9.55" height="4.81" fill="#66ace6" stroke="#0d1a3a" stroke-width="0.26"/>
<text x="114" y="200.24699999999999" font-size="5.45" text-anchor="start" font-weight="normal" font-style="normal" fill="#222" transform="rotate(0.1 114 200.24699999999999)">Myogenesis</text>
<rect x="19.70" y="200.69" width="4.10" height="4.81" fill="#35a862" stroke="#444" stroke-width="0.26"/>
<rect x="25.00" y="200.69" width="9.55" height="4.81" fill="#f6b4b7" stroke="#0d1a3a" stroke-width="0.26"/>
<rect x="34.55" y="200.69" width="9.55" height="4.81" fill="#de2433" stroke="#0d1a3a" stroke-width="0.26"/>
<rect x="44.10" y="200.69" width="9.55" height="4.81" fill="#de2433" stroke="#0d1a3a" stroke-width="0.26"/>
<rect x="53.65" y="200.69" width="9.55" height="4.81" fill="#de2433" stroke="#0d1a3a" stroke-width="0.26"/>
<rect x="64.50" y="200.69" width="9.55" height="4.81" fill="#66ace6" stroke="#0d1a3a" stroke-width="0.26"/>
<rect x="74.05" y="200.69" width="9.55" height="4.81" fill="#86c0ee" stroke="#0d1a3a" stroke-width="0.26"/>
<rect x="83.60" y="200.69" width="9.55" height="4.81" fill="#86c0ee" stroke="#0d1a3a" stroke-width="0.26"/>
<rect x="93.15" y="200.69" width="9.55" height="4.81" fill="#aad4f4" stroke="#0d1a3a" stroke-width="0.26"/>
<rect x="102.70" y="200.69" width="9.55" height="4.81" fill="#d6eaf9" stroke="#0d1a3a" stroke-width="0.26"/>
<text x="114" y="205.057" font-size="5.45" text-anchor="start" font-weight="normal" font-style="normal" fill="#222" transform="rotate(0.1 114 205.057)">DNA repair</text>
<rect x="19.70" y="205.50" width="4.10" height="4.81" fill="#dcdcdc" stroke="#444" stroke-width="0.26"/>
<rect x="25.00" y="205.50" width="9.55" height="4.81" fill="#aad4f4" stroke="#0d1a3a" stroke-width="0.26"/>
<rect x="34.55" y="205.50" width="9.55" height="4.81" fill="#f4a4a8" stroke="#0d1a3a" stroke-width="0.26"/>
<rect x="44.10" y="205.50" width="9.55" height="4.81" fill="#de2433" stroke="#0d1a3a" stroke-width="0.26"/>
<rect x="53.65" y="205.50" width="9.55" height="4.81" fill="#de2433" stroke="#0d1a3a" stroke-width="0.26"/>
<rect x="64.50" y="205.50" width="9.55" height="4.81" fill="#66ace6" stroke="#0d1a3a" stroke-width="0.26"/>
<rect x="74.05" y="205.50" width="9.55" height="4.81" fill="#66ace6" stroke="#0d1a3a" stroke-width="0.26"/>
<rect x="83.60" y="205.50" width="9.55" height="4.81" fill="#aad4f4" stroke="#0d1a3a" stroke-width="0.26"/>
<rect x="93.15" y="205.50" width="9.55" height="4.81" fill="#d6eaf9" stroke="#0d1a3a" stroke-width="0.26"/>
<rect x="102.70" y="205.50" width="9.55" height="4.81" fill="#66ace6" stroke="#0d1a3a" stroke-width="0.26"/>
<text x="114" y="209.867" font-size="5.45" text-anchor="start" font-weight="normal" font-style="normal" fill="#222" transform="rotate(0.1 114 209.867)">MYC targets v1</text>
<rect x="19.70" y="210.31" width="4.10" height="4.81" fill="#dcdcdc" stroke="#444" stroke-width="0.26"/>
<rect x="25.00" y="210.31" width="9.55" height="4.81" fill="#ffffff" stroke="#0d1a3a" stroke-width="0.26"/>
<rect x="34.55" y="210.31" width="9.55" height="4.81" fill="#ec737b" stroke="#0d1a3a" stroke-width="0.26"/>
<rect x="44.10" y="210.31" width="9.55" height="4.81" fill="#de2433" stroke="#0d1a3a" stroke-width="0.26"/>
<rect x="53.65" y="210.31" width="9.55" height="4.81" fill="#fdeaeb" stroke="#0d1a3a" stroke-width="0.26"/>
<rect x="64.50" y="210.31" width="9.55" height="4.81" fill="#66ace6" stroke="#0d1a3a" stroke-width="0.26"/>
<rect x="74.05" y="210.31" width="9.55" height="4.81" fill="#66ace6" stroke="#0d1a3a" stroke-width="0.26"/>
<rect x="83.60" y="210.31" width="9.55" height="4.81" fill="#ec737b" stroke="#0d1a3a" stroke-width="0.26"/>
<rect x="93.15" y="210.31" width="9.55" height="4.81" fill="#86c0ee" stroke="#0d1a3a" stroke-width="0.26"/>
<rect x="102.70" y="210.31" width="9.55" height="4.81" fill="#66ace6" stroke="#0d1a3a" stroke-width="0.26"/>
<text x="114" y="214.677" font-size="5.45" text-anchor="start" font-weight="normal" font-style="normal" fill="#222" transform="rotate(0.1 114 214.677)">Oxidative phosphorylation</text>
<rect x="19.70" y="215.12" width="4.10" height="4.81" fill="#0c5a34" stroke="#444" stroke-width="0.26"/>
<rect x="25.00" y="215.12" width="9.55" height="4.81" fill="#ea636c" stroke="#0d1a3a" stroke-width="0.26"/>
<rect x="34.55" y="215.12" width="9.55" height="4.81" fill="#de2433" stroke="#0d1a3a" stroke-width="0.26"/>
<rect x="44.10" y="215.12" width="9.55" height="4.81" fill="#de2433" stroke="#0d1a3a" stroke-width="0.26"/>
<rect x="53.65" y="215.12" width="9.55" height="4.81" fill="#de2433" stroke="#0d1a3a" stroke-width="0.26"/>
<rect x="64.50" y="215.12" width="9.55" height="4.81" fill="#c4e1f7" stroke="#0d1a3a" stroke-width="0.26"/>
<rect x="74.05" y="215.12" width="9.55" height="4.81" fill="#9cccf2" stroke="#0d1a3a" stroke-width="0.26"/>
<rect x="83.60" y="215.12" width="9.55" height="4.81" fill="#66ace6" stroke="#0d1a3a" stroke-width="0.26"/>
<rect x="93.15" y="215.12" width="9.55" height="4.81" fill="#aad4f4" stroke="#0d1a3a" stroke-width="0.26"/>
<rect x="102.70" y="215.12" width="9.55" height="4.81" fill="#66ace6" stroke="#0d1a3a" stroke-width="0.26"/>
<text x="114" y="219.487" font-size="5.45" text-anchor="start" font-weight="normal" font-style="normal" fill="#222" transform="rotate(0.1 114 219.487)">MYC targets v2</text>
<rect x="19.70" y="219.93" width="4.10" height="4.81" fill="#0c5a34" stroke="#444" stroke-width="0.26"/>
<rect x="25.00" y="219.93" width="9.55" height="4.81" fill="#e4404c" stroke="#0d1a3a" stroke-width="0.26"/>
<rect x="34.55" y="219.93" width="9.55" height="4.81" fill="#de2433" stroke="#0d1a3a" stroke-width="0.26"/>
<rect x="44.10" y="219.93" width="9.55" height="4.81" fill="#de2433" stroke="#0d1a3a" stroke-width="0.26"/>
<rect x="53.65" y="219.93" width="9.55" height="4.81" fill="#de2433" stroke="#0d1a3a" stroke-width="0.26"/>
<rect x="64.50" y="219.93" width="9.55" height="4.81" fill="#86c0ee" stroke="#0d1a3a" stroke-width="0.26"/>
<rect x="74.05" y="219.93" width="9.55" height="4.81" fill="#aad4f4" stroke="#0d1a3a" stroke-width="0.26"/>
<rect x="83.60" y="219.93" width="9.55" height="4.81" fill="#79b8eb" stroke="#0d1a3a" stroke-width="0.26"/>
<rect x="93.15" y="219.93" width="9.55" height="4.81" fill="#79b8eb" stroke="#0d1a3a" stroke-width="0.26"/>
<rect x="102.70" y="219.93" width="9.55" height="4.81" fill="#66ace6" stroke="#0d1a3a" stroke-width="0.26"/>
<text x="114" y="224.297" font-size="5.45" text-anchor="start" font-weight="normal" font-style="normal" fill="#222" transform="rotate(0.1 114 224.297)">WNT β-catenin signaling</text>
<rect x="19.70" y="224.74" width="4.10" height="4.81" fill="#0c5a34" stroke="#444" stroke-width="0.26"/>
<rect x="25.00" y="224.74" width="9.55" height="4.81" fill="#ea636c" stroke="#0d1a3a" stroke-width="0.26"/>
<rect x="34.55" y="224.74" width="9.55" height="4.81" fill="#de2433" stroke="#0d1a3a" stroke-width="0.26"/>
<rect x="44.10" y="224.74" width="9.55" height="4.81" fill="#e4404c" stroke="#0d1a3a" stroke-width="0.26"/>
<rect x="53.65" y="224.74" width="9.55" height="4.81" fill="#de2433" stroke="#0d1a3a" stroke-width="0.26"/>
<rect x="64.50" y="224.74" width="9.55" height="4.81" fill="#86c0ee" stroke="#0d1a3a" stroke-width="0.26"/>
<rect x="74.05" y="224.74" width="9.55" height="4.81" fill="#86c0ee" stroke="#0d1a3a" stroke-width="0.26"/>
<rect x="83.60" y="224.74" width="9.55" height="4.81" fill="#86c0ee" stroke="#0d1a3a" stroke-width="0.26"/>
<rect x="93.15" y="224.74" width="9.55" height="4.81" fill="#86c0ee" stroke="#0d1a3a" stroke-width="0.26"/>
<rect x="102.70" y="224.74" width="9.55" height="4.81" fill="#66ace6" stroke="#0d1a3a" stroke-width="0.26"/>
<text x="114" y="229.107" font-size="5.45" text-anchor="start" font-weight="normal" font-style="normal" fill="#222" transform="rotate(0.1 114 229.107)">Spermatogenesis</text>
<rect x="19.70" y="229.55" width="4.10" height="4.81" fill="#0c5a34" stroke="#444" stroke-width="0.26"/>
<rect x="25.00" y="229.55" width="9.55" height="4.81" fill="#de2433" stroke="#0d1a3a" stroke-width="0.26"/>
<rect x="34.55" y="229.55" width="9.55" height="4.81" fill="#ea636c" stroke="#0d1a3a" stroke-width="0.26"/>
<rect x="44.10" y="229.55" width="9.55" height="4.81" fill="#f08c92" stroke="#0d1a3a" stroke-width="0.26"/>
<rect x="53.65" y="229.55" width="9.55" height="4.81" fill="#de2433" stroke="#0d1a3a" stroke-width="0.26"/>
<rect x="64.50" y="229.55" width="9.55" height="4.81" fill="#86c0ee" stroke="#0d1a3a" stroke-width="0.26"/>
<rect x="74.05" y="229.55" width="9.55" height="4.81" fill="#86c0ee" stroke="#0d1a3a" stroke-width="0.26"/>
<rect x="83.60" y="229.55" width="9.55" height="4.81" fill="#9cccf2" stroke="#0d1a3a" stroke-width="0.26"/>
<rect x="93.15" y="229.55" width="9.55" height="4.81" fill="#86c0ee" stroke="#0d1a3a" stroke-width="0.26"/>
<rect x="102.70" y="229.55" width="9.55" height="4.81" fill="#66ace6" stroke="#0d1a3a" stroke-width="0.26"/>
<text x="114" y="233.917" font-size="5.45" text-anchor="start" font-weight="normal" font-style="normal" fill="#222" transform="rotate(0.1 114 233.917)">Estrogen response early</text>
<rect x="19.70" y="234.36" width="4.10" height="4.81" fill="#35a862" stroke="#444" stroke-width="0.26"/>
<rect x="25.00" y="234.36" width="9.55" height="4.81" fill="#de2433" stroke="#0d1a3a" stroke-width="0.26"/>
<rect x="34.55" y="234.36" width="9.55" height="4.81" fill="#e4404c" stroke="#0d1a3a" stroke-width="0.26"/>
<rect x="44.10" y="234.36" width="9.55" height="4.81" fill="#e4404c" stroke="#0d1a3a" stroke-width="0.26"/>
<rect x="53.65" y="234.36" width="9.55" height="4.81" fill="#de2433" stroke="#0d1a3a" stroke-width="0.26"/>
<rect x="64.50" y="234.36" width="9.55" height="4.81" fill="#aad4f4" stroke="#0d1a3a" stroke-width="0.26"/>
<rect x="74.05" y="234.36" width="9.55" height="4.81" fill="#9cccf2" stroke="#0d1a3a" stroke-width="0.26"/>
<rect x="83.60" y="234.36" width="9.55" height="4.81" fill="#aad4f4" stroke="#0d1a3a" stroke-width="0.26"/>
<rect x="93.15" y="234.36" width="9.55" height="4.81" fill="#bcddf6" stroke="#0d1a3a" stroke-width="0.26"/>
<rect x="102.70" y="234.36" width="9.55" height="4.81" fill="#66ace6" stroke="#0d1a3a" stroke-width="0.26"/>
<text x="114" y="238.727" font-size="5.45" text-anchor="start" font-weight="normal" font-style="normal" fill="#222" transform="rotate(0.1 114 238.727)">E2F targets</text>
<rect x="19.70" y="239.17" width="4.10" height="4.81" fill="#0c5a34" stroke="#444" stroke-width="0.26"/>
<rect x="25.00" y="239.17" width="9.55" height="4.81" fill="#de2433" stroke="#0d1a3a" stroke-width="0.26"/>
<rect x="34.55" y="239.17" width="9.55" height="4.81" fill="#de2433" stroke="#0d1a3a" stroke-width="0.26"/>
<rect x="44.10" y="239.17" width="9.55" height="4.81" fill="#e4404c" stroke="#0d1a3a" stroke-width="0.26"/>
<rect x="53.65" y="239.17" width="9.55" height="4.81" fill="#de2433" stroke="#0d1a3a" stroke-width="0.26"/>
<rect x="64.50" y="239.17" width="9.55" height="4.81" fill="#86c0ee" stroke="#0d1a3a" stroke-width="0.26"/>
<rect x="74.05" y="239.17" width="9.55" height="4.81" fill="#86c0ee" stroke="#0d1a3a" stroke-width="0.26"/>
<rect x="83.60" y="239.17" width="9.55" height="4.81" fill="#66ace6" stroke="#0d1a3a" stroke-width="0.26"/>
<rect x="93.15" y="239.17" width="9.55" height="4.81" fill="#86c0ee" stroke="#0d1a3a" stroke-width="0.26"/>
<rect x="102.70" y="239.17" width="9.55" height="4.81" fill="#66ace6" stroke="#0d1a3a" stroke-width="0.26"/>
<text x="114" y="243.537" font-size="5.45" text-anchor="start" font-weight="normal" font-style="normal" fill="#222" transform="rotate(0.1 114 243.537)">G2M checkpoints</text>
<rect x="19.70" y="243.98" width="4.10" height="4.81" fill="#0c5a34" stroke="#444" stroke-width="0.26"/>
<rect x="25.00" y="243.98" width="9.55" height="4.81" fill="#de2433" stroke="#0d1a3a" stroke-width="0.26"/>
<rect x="34.55" y="243.98" width="9.55" height="4.81" fill="#e4404c" stroke="#0d1a3a" stroke-width="0.26"/>
<rect x="44.10" y="243.98" width="9.55" height="4.81" fill="#e4404c" stroke="#0d1a3a" stroke-width="0.26"/>
<rect x="53.65" y="243.98" width="9.55" height="4.81" fill="#de2433" stroke="#0d1a3a" stroke-width="0.26"/>
<rect x="64.50" y="243.98" width="9.55" height="4.81" fill="#66ace6" stroke="#0d1a3a" stroke-width="0.26"/>
<rect x="74.05" y="243.98" width="9.55" height="4.81" fill="#66ace6" stroke="#0d1a3a" stroke-width="0.26"/>
<rect x="83.60" y="243.98" width="9.55" height="4.81" fill="#66ace6" stroke="#0d1a3a" stroke-width="0.26"/>
<rect x="93.15" y="243.98" width="9.55" height="4.81" fill="#66ace6" stroke="#0d1a3a" stroke-width="0.26"/>
<rect x="102.70" y="243.98" width="9.55" height="4.81" fill="#66ace6" stroke="#0d1a3a" stroke-width="0.26"/>
<text x="114" y="248.347" font-size="5.45" text-anchor="start" font-weight="normal" font-style="normal" fill="#222" transform="rotate(0.1 114 248.347)">UV response down</text>
<rect x="19.70" y="248.79" width="4.10" height="4.81" fill="#35a862" stroke="#444" stroke-width="0.26"/>
<rect x="25.00" y="248.79" width="9.55" height="4.81" fill="#ea636c" stroke="#0d1a3a" stroke-width="0.26"/>
<rect x="34.55" y="248.79" width="9.55" height="4.81" fill="#f08c92" stroke="#0d1a3a" stroke-width="0.26"/>
<rect x="44.10" y="248.79" width="9.55" height="4.81" fill="#de2433" stroke="#0d1a3a" stroke-width="0.26"/>
<rect x="53.65" y="248.79" width="9.55" height="4.81" fill="#de2433" stroke="#0d1a3a" stroke-width="0.26"/>
<rect x="64.50" y="248.79" width="9.55" height="4.81" fill="#79b8eb" stroke="#0d1a3a" stroke-width="0.26"/>
<rect x="74.05" y="248.79" width="9.55" height="4.81" fill="#86c0ee" stroke="#0d1a3a" stroke-width="0.26"/>
<rect x="83.60" y="248.79" width="9.55" height="4.81" fill="#d6eaf9" stroke="#0d1a3a" stroke-width="0.26"/>
<rect x="93.15" y="248.79" width="9.55" height="4.81" fill="#86c0ee" stroke="#0d1a3a" stroke-width="0.26"/>
<rect x="102.70" y="248.79" width="9.55" height="4.81" fill="#66ace6" stroke="#0d1a3a" stroke-width="0.26"/>
<text x="114" y="253.15699999999998" font-size="5.45" text-anchor="start" font-weight="normal" font-style="normal" fill="#222" transform="rotate(0.1 114 253.15699999999998)">PI3K/AKT/MTOR signaling</text>
<rect x="19.70" y="253.60" width="4.10" height="4.81" fill="#8fd3a3" stroke="#444" stroke-width="0.26"/>
<rect x="25.00" y="253.60" width="9.55" height="4.81" fill="#f8c4c6" stroke="#0d1a3a" stroke-width="0.26"/>
<rect x="34.55" y="253.60" width="9.55" height="4.81" fill="#e4404c" stroke="#0d1a3a" stroke-width="0.26"/>
<rect x="44.10" y="253.60" width="9.55" height="4.81" fill="#de2433" stroke="#0d1a3a" stroke-width="0.26"/>
<rect x="53.65" y="253.60" width="9.55" height="4.81" fill="#de2433" stroke="#0d1a3a" stroke-width="0.26"/>
<rect x="64.50" y="253.60" width="9.55" height="4.81" fill="#79b8eb" stroke="#0d1a3a" stroke-width="0.26"/>
<rect x="74.05" y="253.60" width="9.55" height="4.81" fill="#86c0ee" stroke="#0d1a3a" stroke-width="0.26"/>
<rect x="83.60" y="253.60" width="9.55" height="4.81" fill="#9cccf2" stroke="#0d1a3a" stroke-width="0.26"/>
<rect x="93.15" y="253.60" width="9.55" height="4.81" fill="#86c0ee" stroke="#0d1a3a" stroke-width="0.26"/>
<rect x="102.70" y="253.60" width="9.55" height="4.81" fill="#66ace6" stroke="#0d1a3a" stroke-width="0.26"/>
<text x="114" y="257.967" font-size="5.45" text-anchor="start" font-weight="normal" font-style="normal" fill="#222" transform="rotate(0.1 114 257.967)">P53 pathway</text>
<rect x="19.70" y="258.41" width="4.10" height="4.81" fill="#0c5a34" stroke="#444" stroke-width="0.26"/>
<rect x="25.00" y="258.41" width="9.55" height="4.81" fill="#f08c92" stroke="#0d1a3a" stroke-width="0.26"/>
<rect x="34.55" y="258.41" width="9.55" height="4.81" fill="#e4404c" stroke="#0d1a3a" stroke-width="0.26"/>
<rect x="44.10" y="258.41" width="9.55" height="4.81" fill="#de2433" stroke="#0d1a3a" stroke-width="0.26"/>
<rect x="53.65" y="258.41" width="9.55" height="4.81" fill="#de2433" stroke="#0d1a3a" stroke-width="0.26"/>
<rect x="64.50" y="258.41" width="9.55" height="4.81" fill="#66ace6" stroke="#0d1a3a" stroke-width="0.26"/>
<rect x="74.05" y="258.41" width="9.55" height="4.81" fill="#66ace6" stroke="#0d1a3a" stroke-width="0.26"/>
<rect x="83.60" y="258.41" width="9.55" height="4.81" fill="#66ace6" stroke="#0d1a3a" stroke-width="0.26"/>
<rect x="93.15" y="258.41" width="9.55" height="4.81" fill="#86c0ee" stroke="#0d1a3a" stroke-width="0.26"/>
<rect x="102.70" y="258.41" width="9.55" height="4.81" fill="#66ace6" stroke="#0d1a3a" stroke-width="0.26"/>
<text x="114" y="262.77699999999993" font-size="5.45" text-anchor="start" font-weight="normal" font-style="normal" fill="#222" transform="rotate(0.1 114 262.77699999999993)">Heme metabolism</text>
<rect x="19.70" y="263.22" width="4.10" height="4.81" fill="#0c5a34" stroke="#444" stroke-width="0.26"/>
<rect x="25.00" y="263.22" width="9.55" height="4.81" fill="#ea636c" stroke="#0d1a3a" stroke-width="0.26"/>
<rect x="34.55" y="263.22" width="9.55" height="4.81" fill="#ea636c" stroke="#0d1a3a" stroke-width="0.26"/>
<rect x="44.10" y="263.22" width="9.55" height="4.81" fill="#e4404c" stroke="#0d1a3a" stroke-width="0.26"/>
<rect x="53.65" y="263.22" width="9.55" height="4.81" fill="#de2433" stroke="#0d1a3a" stroke-width="0.26"/>
<rect x="64.50" y="263.22" width="9.55" height="4.81" fill="#86c0ee" stroke="#0d1a3a" stroke-width="0.26"/>
<rect x="74.05" y="263.22" width="9.55" height="4.81" fill="#9cccf2" stroke="#0d1a3a" stroke-width="0.26"/>
<rect x="83.60" y="263.22" width="9.55" height="4.81" fill="#9cccf2" stroke="#0d1a3a" stroke-width="0.26"/>
<rect x="93.15" y="263.22" width="9.55" height="4.81" fill="#9cccf2" stroke="#0d1a3a" stroke-width="0.26"/>
<rect x="102.70" y="263.22" width="9.55" height="4.81" fill="#66ace6" stroke="#0d1a3a" stroke-width="0.26"/>
<text x="114" y="267.587" font-size="5.45" text-anchor="start" font-weight="normal" font-style="normal" fill="#222" transform="rotate(0.1 114 267.587)">Peroxisome</text>
<rect x="19.70" y="268.03" width="4.10" height="4.81" fill="#0c5a34" stroke="#444" stroke-width="0.26"/>
<rect x="25.00" y="268.03" width="9.55" height="4.81" fill="#de2433" stroke="#0d1a3a" stroke-width="0.26"/>
<rect x="34.55" y="268.03" width="9.55" height="4.81" fill="#de2433" stroke="#0d1a3a" stroke-width="0.26"/>
<rect x="44.10" y="268.03" width="9.55" height="4.81" fill="#ea636c" stroke="#0d1a3a" stroke-width="0.26"/>
<rect x="53.65" y="268.03" width="9.55" height="4.81" fill="#de2433" stroke="#0d1a3a" stroke-width="0.26"/>
<rect x="64.50" y="268.03" width="9.55" height="4.81" fill="#d6eaf9" stroke="#0d1a3a" stroke-width="0.26"/>
<rect x="74.05" y="268.03" width="9.55" height="4.81" fill="#86c0ee" stroke="#0d1a3a" stroke-width="0.26"/>
<rect x="83.60" y="268.03" width="9.55" height="4.81" fill="#79b8eb" stroke="#0d1a3a" stroke-width="0.26"/>
<rect x="93.15" y="268.03" width="9.55" height="4.81" fill="#79b8eb" stroke="#0d1a3a" stroke-width="0.26"/>
<rect x="102.70" y="268.03" width="9.55" height="4.81" fill="#66ace6" stroke="#0d1a3a" stroke-width="0.26"/>
<text x="114" y="272.39699999999993" font-size="5.45" text-anchor="start" font-weight="normal" font-style="normal" fill="#222" transform="rotate(0.1 114 272.39699999999993)">Mitotic spindle</text>
<rect x="19.70" y="272.84" width="4.10" height="4.81" fill="#0c5a34" stroke="#444" stroke-width="0.26"/>
<rect x="25.00" y="272.84" width="9.55" height="4.81" fill="#de2433" stroke="#0d1a3a" stroke-width="0.26"/>
<rect x="34.55" y="272.84" width="9.55" height="4.81" fill="#e4404c" stroke="#0d1a3a" stroke-width="0.26"/>
<rect x="44.10" y="272.84" width="9.55" height="4.81" fill="#ea636c" stroke="#0d1a3a" stroke-width="0.26"/>
<rect x="53.65" y="272.84" width="9.55" height="4.81" fill="#de2433" stroke="#0d1a3a" stroke-width="0.26"/>
<rect x="64.50" y="272.84" width="9.55" height="4.81" fill="#bcddf6" stroke="#0d1a3a" stroke-width="0.26"/>
<rect x="74.05" y="272.84" width="9.55" height="4.81" fill="#86c0ee" stroke="#0d1a3a" stroke-width="0.26"/>
<rect x="83.60" y="272.84" width="9.55" height="4.81" fill="#79b8eb" stroke="#0d1a3a" stroke-width="0.26"/>
<rect x="93.15" y="272.84" width="9.55" height="4.81" fill="#79b8eb" stroke="#0d1a3a" stroke-width="0.26"/>
<rect x="102.70" y="272.84" width="9.55" height="4.81" fill="#66ace6" stroke="#0d1a3a" stroke-width="0.26"/>
<text x="114" y="277.207" font-size="5.45" text-anchor="start" font-weight="normal" font-style="normal" fill="#222" transform="rotate(0.1 114 277.207)">NOTCH signaling</text>
<rect x="19.70" y="277.65" width="4.10" height="4.81" fill="#0c5a34" stroke="#444" stroke-width="0.26"/>
<rect x="25.00" y="277.65" width="9.55" height="4.81" fill="#de2433" stroke="#0d1a3a" stroke-width="0.26"/>
<rect x="34.55" y="277.65" width="9.55" height="4.81" fill="#de2433" stroke="#0d1a3a" stroke-width="0.26"/>
<rect x="44.10" y="277.65" width="9.55" height="4.81" fill="#f4a4a8" stroke="#0d1a3a" stroke-width="0.26"/>
<rect x="53.65" y="277.65" width="9.55" height="4.81" fill="#de2433" stroke="#0d1a3a" stroke-width="0.26"/>
<rect x="64.50" y="277.65" width="9.55" height="4.81" fill="#aad4f4" stroke="#0d1a3a" stroke-width="0.26"/>
<rect x="74.05" y="277.65" width="9.55" height="4.81" fill="#86c0ee" stroke="#0d1a3a" stroke-width="0.26"/>
<rect x="83.60" y="277.65" width="9.55" height="4.81" fill="#86c0ee" stroke="#0d1a3a" stroke-width="0.26"/>
<rect x="93.15" y="277.65" width="9.55" height="4.81" fill="#79b8eb" stroke="#0d1a3a" stroke-width="0.26"/>
<rect x="102.70" y="277.65" width="9.55" height="4.81" fill="#66ace6" stroke="#0d1a3a" stroke-width="0.26"/>
<text x="114" y="282.01699999999994" font-size="5.45" text-anchor="start" font-weight="normal" font-style="normal" fill="#222" transform="rotate(0.1 114 282.01699999999994)">Androgen response</text>
<rect x="19.70" y="282.46" width="4.10" height="4.81" fill="#35a862" stroke="#444" stroke-width="0.26"/>
<rect x="25.00" y="282.46" width="9.55" height="4.81" fill="#de2433" stroke="#0d1a3a" stroke-width="0.26"/>
<rect x="34.55" y="282.46" width="9.55" height="4.81" fill="#de2433" stroke="#0d1a3a" stroke-width="0.26"/>
<rect x="44.10" y="282.46" width="9.55" height="4.81" fill="#e4404c" stroke="#0d1a3a" stroke-width="0.26"/>
<rect x="53.65" y="282.46" width="9.55" height="4.81" fill="#e4404c" stroke="#0d1a3a" stroke-width="0.26"/>
<rect x="64.50" y="282.46" width="9.55" height="4.81" fill="#79b8eb" stroke="#0d1a3a" stroke-width="0.26"/>
<rect x="74.05" y="282.46" width="9.55" height="4.81" fill="#79b8eb" stroke="#0d1a3a" stroke-width="0.26"/>
<rect x="83.60" y="282.46" width="9.55" height="4.81" fill="#9cccf2" stroke="#0d1a3a" stroke-width="0.26"/>
<rect x="93.15" y="282.46" width="9.55" height="4.81" fill="#bcddf6" stroke="#0d1a3a" stroke-width="0.26"/>
<rect x="102.70" y="282.46" width="9.55" height="4.81" fill="#66ace6" stroke="#0d1a3a" stroke-width="0.26"/>
<text x="114" y="286.82699999999994" font-size="5.45" text-anchor="start" font-weight="normal" font-style="normal" fill="#222" transform="rotate(0.1 114 286.82699999999994)">Apical junction</text>
<rect x="19.70" y="287.27" width="4.10" height="4.81" fill="#0c5a34" stroke="#444" stroke-width="0.26"/>
<rect x="25.00" y="287.27" width="9.55" height="4.81" fill="#de2433" stroke="#0d1a3a" stroke-width="0.26"/>
<rect x="34.55" y="287.27" width="9.55" height="4.81" fill="#de2433" stroke="#0d1a3a" stroke-width="0.26"/>
<rect x="44.10" y="287.27" width="9.55" height="4.81" fill="#e4404c" stroke="#0d1a3a" stroke-width="0.26"/>
<rect x="53.65" y="287.27" width="9.55" height="4.81" fill="#f08c92" stroke="#0d1a3a" stroke-width="0.26"/>
<rect x="64.50" y="287.27" width="9.55" height="4.81" fill="#66ace6" stroke="#0d1a3a" stroke-width="0.26"/>
<rect x="74.05" y="287.27" width="9.55" height="4.81" fill="#86c0ee" stroke="#0d1a3a" stroke-width="0.26"/>
<rect x="83.60" y="287.27" width="9.55" height="4.81" fill="#aad4f4" stroke="#0d1a3a" stroke-width="0.26"/>
<rect x="93.15" y="287.27" width="9.55" height="4.81" fill="#aad4f4" stroke="#0d1a3a" stroke-width="0.26"/>
<rect x="102.70" y="287.27" width="9.55" height="4.81" fill="#66ace6" stroke="#0d1a3a" stroke-width="0.26"/>
<text x="114" y="291.63699999999994" font-size="5.45" text-anchor="start" font-weight="normal" font-style="normal" fill="#222" transform="rotate(0.1 114 291.63699999999994)">Angiogenesis</text>
<rect x="19.70" y="292.08" width="4.10" height="4.81" fill="#35a862" stroke="#444" stroke-width="0.26"/>
<rect x="25.00" y="292.08" width="9.55" height="4.81" fill="#de2433" stroke="#0d1a3a" stroke-width="0.26"/>
<rect x="34.55" y="292.08" width="9.55" height="4.81" fill="#de2433" stroke="#0d1a3a" stroke-width="0.26"/>
<rect x="44.10" y="292.08" width="9.55" height="4.81" fill="#f08c92" stroke="#0d1a3a" stroke-width="0.26"/>
<rect x="53.65" y="292.08" width="9.55" height="4.81" fill="#de2433" stroke="#0d1a3a" stroke-width="0.26"/>
<rect x="64.50" y="292.08" width="9.55" height="4.81" fill="#86c0ee" stroke="#0d1a3a" stroke-width="0.26"/>
<rect x="74.05" y="292.08" width="9.55" height="4.81" fill="#66ace6" stroke="#0d1a3a" stroke-width="0.26"/>
<rect x="83.60" y="292.08" width="9.55" height="4.81" fill="#ffffff" stroke="#0d1a3a" stroke-width="0.26"/>
<rect x="93.15" y="292.08" width="9.55" height="4.81" fill="#86c0ee" stroke="#0d1a3a" stroke-width="0.26"/>
<rect x="102.70" y="292.08" width="9.55" height="4.81" fill="#66ace6" stroke="#0d1a3a" stroke-width="0.26"/>
<text x="114" y="296.44699999999995" font-size="5.45" text-anchor="start" font-weight="normal" font-style="normal" fill="#222" transform="rotate(0.1 114 296.44699999999995)">Hypoxia</text>
<rect x="19.70" y="296.89" width="4.10" height="4.81" fill="#0c5a34" stroke="#444" stroke-width="0.26"/>
<rect x="25.00" y="296.89" width="9.55" height="4.81" fill="#de2433" stroke="#0d1a3a" stroke-width="0.26"/>
<rect x="34.55" y="296.89" width="9.55" height="4.81" fill="#de2433" stroke="#0d1a3a" stroke-width="0.26"/>
<rect x="44.10" y="296.89" width="9.55" height="4.81" fill="#de2433" stroke="#0d1a3a" stroke-width="0.26"/>
<rect x="53.65" y="296.89" width="9.55" height="4.81" fill="#de2433" stroke="#0d1a3a" stroke-width="0.26"/>
<rect x="64.50" y="296.89" width="9.55" height="4.81" fill="#86c0ee" stroke="#0d1a3a" stroke-width="0.26"/>
<rect x="74.05" y="296.89" width="9.55" height="4.81" fill="#66ace6" stroke="#0d1a3a" stroke-width="0.26"/>
<rect x="83.60" y="296.89" width="9.55" height="4.81" fill="#ffffff" stroke="#0d1a3a" stroke-width="0.26"/>
<rect x="93.15" y="296.89" width="9.55" height="4.81" fill="#66ace6" stroke="#0d1a3a" stroke-width="0.26"/>
<rect x="102.70" y="296.89" width="9.55" height="4.81" fill="#66ace6" stroke="#0d1a3a" stroke-width="0.26"/>
<text x="114" y="301.25699999999995" font-size="5.45" text-anchor="start" font-weight="normal" font-style="normal" fill="#222" transform="rotate(0.1 114 301.25699999999995)">Glycolysis</text>
<rect x="19.70" y="301.70" width="4.10" height="4.81" fill="#0c5a34" stroke="#444" stroke-width="0.26"/>
<rect x="25.00" y="301.70" width="9.55" height="4.81" fill="#e4404c" stroke="#0d1a3a" stroke-width="0.26"/>
<rect x="34.55" y="301.70" width="9.55" height="4.81" fill="#de2433" stroke="#0d1a3a" stroke-width="0.26"/>
<rect x="44.10" y="301.70" width="9.55" height="4.81" fill="#de2433" stroke="#0d1a3a" stroke-width="0.26"/>
<rect x="53.65" y="301.70" width="9.55" height="4.81" fill="#de2433" stroke="#0d1a3a" stroke-width="0.26"/>
<rect x="64.50" y="301.70" width="9.55" height="4.81" fill="#66ace6" stroke="#0d1a3a" stroke-width="0.26"/>
<rect x="74.05" y="301.70" width="9.55" height="4.81" fill="#66ace6" stroke="#0d1a3a" stroke-width="0.26"/>
<rect x="83.60" y="301.70" width="9.55" height="4.81" fill="#86c0ee" stroke="#0d1a3a" stroke-width="0.26"/>
<rect x="93.15" y="301.70" width="9.55" height="4.81" fill="#aad4f4" stroke="#0d1a3a" stroke-width="0.26"/>
<rect x="102.70" y="301.70" width="9.55" height="4.81" fill="#66ace6" stroke="#0d1a3a" stroke-width="0.26"/>
<text x="114" y="306.06699999999995" font-size="5.45" text-anchor="start" font-weight="normal" font-style="normal" fill="#222" transform="rotate(0.1 114 306.06699999999995)">Estrogen response late</text>
<rect x="19.70" y="306.51" width="4.10" height="4.81" fill="#0c5a34" stroke="#444" stroke-width="0.26"/>
<rect x="25.00" y="306.51" width="9.55" height="4.81" fill="#e4404c" stroke="#0d1a3a" stroke-width="0.26"/>
<rect x="34.55" y="306.51" width="9.55" height="4.81" fill="#de2433" stroke="#0d1a3a" stroke-width="0.26"/>
<rect x="44.10" y="306.51" width="9.55" height="4.81" fill="#de2433" stroke="#0d1a3a" stroke-width="0.26"/>
<rect x="53.65" y="306.51" width="9.55" height="4.81" fill="#de2433" stroke="#0d1a3a" stroke-width="0.26"/>
<rect x="64.50" y="306.51" width="9.55" height="4.81" fill="#66ace6" stroke="#0d1a3a" stroke-width="0.26"/>
<rect x="74.05" y="306.51" width="9.55" height="4.81" fill="#86c0ee" stroke="#0d1a3a" stroke-width="0.26"/>
<rect x="83.60" y="306.51" width="9.55" height="4.81" fill="#86c0ee" stroke="#0d1a3a" stroke-width="0.26"/>
<rect x="93.15" y="306.51" width="9.55" height="4.81" fill="#86c0ee" stroke="#0d1a3a" stroke-width="0.26"/>
<rect x="102.70" y="306.51" width="9.55" height="4.81" fill="#66ace6" stroke="#0d1a3a" stroke-width="0.26"/>
<text x="114" y="310.87699999999995" font-size="5.45" text-anchor="start" font-weight="normal" font-style="normal" fill="#222" transform="rotate(0.1 114 310.87699999999995)">EMT</text>
<rect x="19.70" y="312.30" width="4.10" height="4.81" fill="#dcdcdc" stroke="#444" stroke-width="0.26"/>
<rect x="25.00" y="312.30" width="9.55" height="4.81" fill="#66ace6" stroke="#0d1a3a" stroke-width="0.26"/>
<rect x="34.55" y="312.30" width="9.55" height="4.81" fill="#86c0ee" stroke="#0d1a3a" stroke-width="0.26"/>
<rect x="44.10" y="312.30" width="9.55" height="4.81" fill="#de2433" stroke="#0d1a3a" stroke-width="0.26"/>
<rect x="53.65" y="312.30" width="9.55" height="4.81" fill="#de2433" stroke="#0d1a3a" stroke-width="0.26"/>
<rect x="64.50" y="312.30" width="9.55" height="4.81" fill="#aad4f4" stroke="#0d1a3a" stroke-width="0.26"/>
<rect x="74.05" y="312.30" width="9.55" height="4.81" fill="#de2433" stroke="#0d1a3a" stroke-width="0.26"/>
<rect x="83.60" y="312.30" width="9.55" height="4.81" fill="#86c0ee" stroke="#0d1a3a" stroke-width="0.26"/>
<rect x="93.15" y="312.30" width="9.55" height="4.81" fill="#86c0ee" stroke="#0d1a3a" stroke-width="0.26"/>
<rect x="102.70" y="312.30" width="9.55" height="4.81" fill="#f6b4b7" stroke="#0d1a3a" stroke-width="0.26"/>
<text x="114" y="316.667" font-size="5.45" text-anchor="start" font-weight="normal" font-style="normal" fill="#222" transform="rotate(0.1 114 316.667)">IL2/STAT5 signaling</text>
<rect x="19.70" y="317.11" width="4.10" height="4.81" fill="#dcdcdc" stroke="#444" stroke-width="0.26"/>
<rect x="25.00" y="317.11" width="9.55" height="4.81" fill="#66ace6" stroke="#0d1a3a" stroke-width="0.26"/>
<rect x="34.55" y="317.11" width="9.55" height="4.81" fill="#aad4f4" stroke="#0d1a3a" stroke-width="0.26"/>
<rect x="44.10" y="317.11" width="9.55" height="4.81" fill="#de2433" stroke="#0d1a3a" stroke-width="0.26"/>
<rect x="53.65" y="317.11" width="9.55" height="4.81" fill="#f6b4b7" stroke="#0d1a3a" stroke-width="0.26"/>
<rect x="64.50" y="317.11" width="9.55" height="4.81" fill="#66ace6" stroke="#0d1a3a" stroke-width="0.26"/>
<rect x="74.05" y="317.11" width="9.55" height="4.81" fill="#86c0ee" stroke="#0d1a3a" stroke-width="0.26"/>
<rect x="83.60" y="317.11" width="9.55" height="4.81" fill="#d6eaf9" stroke="#0d1a3a" stroke-width="0.26"/>
<rect x="93.15" y="317.11" width="9.55" height="4.81" fill="#f08c92" stroke="#0d1a3a" stroke-width="0.26"/>
<rect x="102.70" y="317.11" width="9.55" height="4.81" fill="#e4404c" stroke="#0d1a3a" stroke-width="0.26"/>
<text x="114" y="321.477" font-size="5.45" text-anchor="start" font-weight="normal" font-style="normal" fill="#222" transform="rotate(0.1 114 321.477)">UV response up</text>
<rect x="19.70" y="321.92" width="4.10" height="4.81" fill="#dcdcdc" stroke="#444" stroke-width="0.26"/>
<rect x="25.00" y="321.92" width="9.55" height="4.81" fill="#66ace6" stroke="#0d1a3a" stroke-width="0.26"/>
<rect x="34.55" y="321.92" width="9.55" height="4.81" fill="#f6b4b7" stroke="#0d1a3a" stroke-width="0.26"/>
<rect x="44.10" y="321.92" width="9.55" height="4.81" fill="#de2433" stroke="#0d1a3a" stroke-width="0.26"/>
<rect x="53.65" y="321.92" width="9.55" height="4.81" fill="#f4a4a8" stroke="#0d1a3a" stroke-width="0.26"/>
<rect x="64.50" y="321.92" width="9.55" height="4.81" fill="#86c0ee" stroke="#0d1a3a" stroke-width="0.26"/>
<rect x="74.05" y="321.92" width="9.55" height="4.81" fill="#fad4d5" stroke="#0d1a3a" stroke-width="0.26"/>
<rect x="83.60" y="321.92" width="9.55" height="4.81" fill="#66ace6" stroke="#0d1a3a" stroke-width="0.26"/>
<rect x="93.15" y="321.92" width="9.55" height="4.81" fill="#f9ccce" stroke="#0d1a3a" stroke-width="0.26"/>
<rect x="102.70" y="321.92" width="9.55" height="4.81" fill="#9cccf2" stroke="#0d1a3a" stroke-width="0.26"/>
<text x="114" y="326.287" font-size="5.45" text-anchor="start" font-weight="normal" font-style="normal" fill="#222" transform="rotate(0.1 114 326.287)">KRAS signaling down</text>
<rect x="19.70" y="326.73" width="4.10" height="4.81" fill="#dcdcdc" stroke="#444" stroke-width="0.26"/>
<rect x="25.00" y="326.73" width="9.55" height="4.81" fill="#66ace6" stroke="#0d1a3a" stroke-width="0.26"/>
<rect x="34.55" y="326.73" width="9.55" height="4.81" fill="#f08c92" stroke="#0d1a3a" stroke-width="0.26"/>
<rect x="44.10" y="326.73" width="9.55" height="4.81" fill="#f6b4b7" stroke="#0d1a3a" stroke-width="0.26"/>
<rect x="53.65" y="326.73" width="9.55" height="4.81" fill="#c4e1f7" stroke="#0d1a3a" stroke-width="0.26"/>
<rect x="64.50" y="326.73" width="9.55" height="4.81" fill="#de2433" stroke="#0d1a3a" stroke-width="0.26"/>
<rect x="74.05" y="326.73" width="9.55" height="4.81" fill="#66ace6" stroke="#0d1a3a" stroke-width="0.26"/>
<rect x="83.60" y="326.73" width="9.55" height="4.81" fill="#ea636c" stroke="#0d1a3a" stroke-width="0.26"/>
<rect x="93.15" y="326.73" width="9.55" height="4.81" fill="#e4404c" stroke="#0d1a3a" stroke-width="0.26"/>
<rect x="102.70" y="326.73" width="9.55" height="4.81" fill="#66ace6" stroke="#0d1a3a" stroke-width="0.26"/>
<text x="114" y="331.097" font-size="5.45" text-anchor="start" font-weight="normal" font-style="normal" fill="#222" transform="rotate(0.1 114 331.097)">Cholesterol homeostasis</text>
<rect x="19.70" y="331.54" width="4.10" height="4.81" fill="#dcdcdc" stroke="#444" stroke-width="0.26"/>
<rect x="25.00" y="331.54" width="9.55" height="4.81" fill="#66ace6" stroke="#0d1a3a" stroke-width="0.26"/>
<rect x="34.55" y="331.54" width="9.55" height="4.81" fill="#ffffff" stroke="#0d1a3a" stroke-width="0.26"/>
<rect x="44.10" y="331.54" width="9.55" height="4.81" fill="#de2433" stroke="#0d1a3a" stroke-width="0.26"/>
<rect x="53.65" y="331.54" width="9.55" height="4.81" fill="#de2433" stroke="#0d1a3a" stroke-width="0.26"/>
<rect x="64.50" y="331.54" width="9.55" height="4.81" fill="#66ace6" stroke="#0d1a3a" stroke-width="0.26"/>
<rect x="74.05" y="331.54" width="9.55" height="4.81" fill="#66ace6" stroke="#0d1a3a" stroke-width="0.26"/>
<rect x="83.60" y="331.54" width="9.55" height="4.81" fill="#ea636c" stroke="#0d1a3a" stroke-width="0.26"/>
<rect x="93.15" y="331.54" width="9.55" height="4.81" fill="#de2433" stroke="#0d1a3a" stroke-width="0.26"/>
<rect x="102.70" y="331.54" width="9.55" height="4.81" fill="#86c0ee" stroke="#0d1a3a" stroke-width="0.26"/>
<text x="114" y="335.907" font-size="5.45" text-anchor="start" font-weight="normal" font-style="normal" fill="#222" transform="rotate(0.1 114 335.907)">TNFα signaling via NF-κB</text>
<rect x="19.70" y="336.35" width="4.10" height="4.81" fill="#dcdcdc" stroke="#444" stroke-width="0.26"/>
<rect x="25.00" y="336.35" width="9.55" height="4.81" fill="#66ace6" stroke="#0d1a3a" stroke-width="0.26"/>
<rect x="34.55" y="336.35" width="9.55" height="4.81" fill="#ea636c" stroke="#0d1a3a" stroke-width="0.26"/>
<rect x="44.10" y="336.35" width="9.55" height="4.81" fill="#de2433" stroke="#0d1a3a" stroke-width="0.26"/>
<rect x="53.65" y="336.35" width="9.55" height="4.81" fill="#de2433" stroke="#0d1a3a" stroke-width="0.26"/>
<rect x="64.50" y="336.35" width="9.55" height="4.81" fill="#66ace6" stroke="#0d1a3a" stroke-width="0.26"/>
<rect x="74.05" y="336.35" width="9.55" height="4.81" fill="#66ace6" stroke="#0d1a3a" stroke-width="0.26"/>
<rect x="83.60" y="336.35" width="9.55" height="4.81" fill="#ea636c" stroke="#0d1a3a" stroke-width="0.26"/>
<rect x="93.15" y="336.35" width="9.55" height="4.81" fill="#f08c92" stroke="#0d1a3a" stroke-width="0.26"/>
<rect x="102.70" y="336.35" width="9.55" height="4.81" fill="#86c0ee" stroke="#0d1a3a" stroke-width="0.26"/>
<text x="114" y="340.717" font-size="5.45" text-anchor="start" font-weight="normal" font-style="normal" fill="#222" transform="rotate(0.1 114 340.717)">Apoptosis</text>
<text x="47.3" y="82.8" font-size="6.4" text-anchor="middle" font-weight="normal" font-style="normal" fill="#222" transform="rotate(0.1 47.3 82.8)">Control</text>
<text x="82.8" y="82.8" font-size="6.4" text-anchor="middle" font-weight="normal" font-style="normal" fill="#222" transform="rotate(0.1 82.8 82.8)">1 Gy</text>
<text x="7.0" y="208" font-size="6.7" text-anchor="middle" font-weight="normal" font-style="normal" fill="#222" transform="rotate(-90.1 7.0 208)">MSigDB Hallmark pathways</text>
<path d="M44.4 91.2 V87.2 H95.3 V90.3 M34.5 93.4 V91.2 H53.6 V93.4 M29.8 96 V93.4 H39.3 V96 M48.9 96 V93.4 H58.4 V96 M75.6 93 V90.3 H101 V92 M70.9 96 V93 H80.4 V96 M90 96 V92 H104.3 V93.8 M99.5 96 V93.8 H109.1 V96 " fill="none" stroke="#555" stroke-width="0.4"/>
<path d="M19.5 106.005 H17 V110.815 H19.5 M17 108.41 H15.5 V115.625 H19.5 M19.5 120.43499999999999 H17.5 V125.24499999999999 H19.5 M19.5 130.055 H17 V134.86499999999998 H19.5 M19.5 139.67499999999998 H17.8 V144.48499999999999 H19.5 M19.5 149.295 H17.5 V154.105 H19.5 M15.5 110.815 H13.5 V130.055 H17 M13.5 120.43499999999999 H11.5 V144.48499999999999 H17.8 M11.5 134.86499999999998 H9.8 V151.295 H17.5 M19.5 159.8 H17.2 V164.6 H19.5 M19.5 169.4 H17.8 V174.2 H19.5 M19.5 179.0 H17.2 V183.9 H19.5 M19.5 188.7 H17.8 V193.5 H19.5 M19.5 198.3 H17.2 V203.1 H19.5 M19.5 207.9 H17.8 V212.7 H19.5 M19.5 217.5 H17.2 V222.3 H19.5 M19.5 227.1 H17.8 V232.0 H19.5 M19.5 236.8 H17.2 V241.6 H19.5 M19.5 246.4 H17.8 V251.2 H19.5 M19.5 256.0 H17.2 V260.8 H19.5 M19.5 265.6 H17.8 V270.4 H19.5 M19.5 275.2 H17.2 V280.1 H19.5 M19.5 284.9 H17.8 V289.7 H19.5 M19.5 294.5 H17.2 V299.3 H19.5 M19.5 304.1 H17.8 V308.9 H19.5 M17.2 162.2 H15.6 V171.8 H17.8 M17.2 181.4 H15.6 V191.1 H17.8 M17.2 200.7 H15.6 V210.3 H17.8 M17.2 219.9 H15.6 V229.5 H17.8 M17.2 239.2 H15.6 V248.8 H17.8 M17.2 258.4 H15.6 V268.0 H17.8 M17.2 277.6 H15.6 V287.3 H17.8 M17.2 296.9 H15.6 V306.5 H17.8 M15.6 164.6 H14 V183.8 H15.6 M15.6 203.1 H14 V222.3 H15.6 M15.6 241.6 H14 V260.8 H15.6 M15.6 280.0 H14 V299.3 H15.6 M14 174.2 H12.4 V212.7 H14 M14 251.2 H12.8 V289.7 H14 M12.4 193.5 H11 V270.4 H12.8 M19.5 314.7 H17 V319.5 H19.5 M19.5 324.3 H17.5 V329.1 H19.5 M19.5 333.9 H17.3 V338.8 H19.5 M17 317.1 H15 V326.7 H17.5 M15 321.9 H13.3 V336.3 H17.3 M11 234 H10 V326.3 H13.3 M9.8 130 H9 V280 H10 " fill="none" stroke="#777" stroke-width="0.35" transform="translate(19.5 0) scale(0.7 1) translate(-19.5 0)" vector-effect="non-scaling-stroke"/>
<line x1="149.00" y1="120.43" x2="152.40" y2="120.43" stroke="#222" stroke-width="0.45"/>
<path d="M148.2 120.43499999999999 L150.0 119.335 L150.0 121.53499999999998 Z" fill="#222"/>
<line x1="178.00" y1="130.06" x2="181.40" y2="130.06" stroke="#222" stroke-width="0.45"/>
<path d="M177.2 130.055 L179.0 128.955 L179.0 131.155 Z" fill="#222"/>
<line x1="171.40" y1="134.86" x2="174.80" y2="134.86" stroke="#222" stroke-width="0.45"/>
<path d="M170.6 134.86499999999998 L172.4 133.765 L172.4 135.96499999999997 Z" fill="#222"/>
<line x1="169.40" y1="139.67" x2="172.80" y2="139.67" stroke="#222" stroke-width="0.45"/>
<path d="M168.6 139.67499999999998 L170.4 138.575 L170.4 140.77499999999998 Z" fill="#222"/>
<rect x="212.80" y="100.20" width="29.04" height="4.80" fill="#1b5aae"/>
<line x1="220.06" y1="100.20" x2="220.06" y2="105.00" stroke="#0e3a7a" stroke-width="0.4"/>
<line x1="227.32" y1="100.20" x2="227.32" y2="105.00" stroke="#0e3a7a" stroke-width="0.4"/>
<line x1="234.58" y1="100.20" x2="234.58" y2="105.00" stroke="#0e3a7a" stroke-width="0.4"/>
<rect x="244.09" y="100.40" width="6.76" height="4.40" fill="#f6a828" stroke="#7a5410" stroke-width="0.45"/>
<rect x="251.35" y="100.40" width="6.76" height="4.40" fill="#f6a828" stroke="#7a5410" stroke-width="0.45"/>
<rect x="258.61" y="100.40" width="6.76" height="4.40" fill="#f6a828" stroke="#7a5410" stroke-width="0.45"/>
<rect x="265.87" y="100.40" width="6.76" height="4.40" fill="#f6a828" stroke="#7a5410" stroke-width="0.45"/>
<rect x="273.13" y="100.40" width="6.76" height="4.40" fill="#f6a828" stroke="#7a5410" stroke-width="0.45"/>
<rect x="208.40" y="107.10" width="4.00" height="5.17" fill="#8fd3a3" stroke="#444" stroke-width="0.26"/>
<rect x="212.80" y="107.10" width="7.26" height="5.17" fill="#aad4f4" stroke="#0d1a3a" stroke-width="0.26"/>
<rect x="220.06" y="107.10" width="7.26" height="5.17" fill="#86c0ee" stroke="#0d1a3a" stroke-width="0.26"/>
<rect x="227.32" y="107.10" width="7.26" height="5.17" fill="#66ace6" stroke="#0d1a3a" stroke-width="0.26"/>
<rect x="234.58" y="107.10" width="7.26" height="5.17" fill="#aad4f4" stroke="#0d1a3a" stroke-width="0.26"/>
<rect x="243.84" y="107.10" width="7.26" height="5.17" fill="#ea636c" stroke="#0d1a3a" stroke-width="0.26"/>
<rect x="251.10" y="107.10" width="7.26" height="5.17" fill="#f6b4b7" stroke="#0d1a3a" stroke-width="0.26"/>
<rect x="258.36" y="107.10" width="7.26" height="5.17" fill="#de2433" stroke="#0d1a3a" stroke-width="0.26"/>
<rect x="265.62" y="107.10" width="7.26" height="5.17" fill="#de2433" stroke="#0d1a3a" stroke-width="0.26"/>
<rect x="272.88" y="107.10" width="7.26" height="5.17" fill="#f6b4b7" stroke="#0d1a3a" stroke-width="0.26"/>
<text x="282.8" y="111.52099999999999" font-size="5.1" text-anchor="start" font-weight="normal" font-style="italic" fill="#222" transform="rotate(0.1 282.8 111.52099999999999)">Cxcr4</text>
<rect x="208.40" y="112.27" width="4.00" height="5.17" fill="#35a862" stroke="#444" stroke-width="0.26"/>
<rect x="212.80" y="112.27" width="7.26" height="5.17" fill="#66ace6" stroke="#0d1a3a" stroke-width="0.26"/>
<rect x="220.06" y="112.27" width="7.26" height="5.17" fill="#66ace6" stroke="#0d1a3a" stroke-width="0.26"/>
<rect x="227.32" y="112.27" width="7.26" height="5.17" fill="#66ace6" stroke="#0d1a3a" stroke-width="0.26"/>
<rect x="234.58" y="112.27" width="7.26" height="5.17" fill="#86c0ee" stroke="#0d1a3a" stroke-width="0.26"/>
<rect x="243.84" y="112.27" width="7.26" height="5.17" fill="#de2433" stroke="#0d1a3a" stroke-width="0.26"/>
<rect x="251.10" y="112.27" width="7.26" height="5.17" fill="#f6b4b7" stroke="#0d1a3a" stroke-width="0.26"/>
<rect x="258.36" y="112.27" width="7.26" height="5.17" fill="#de2433" stroke="#0d1a3a" stroke-width="0.26"/>
<rect x="265.62" y="112.27" width="7.26" height="5.17" fill="#ea636c" stroke="#0d1a3a" stroke-width="0.26"/>
<rect x="272.88" y="112.27" width="7.26" height="5.17" fill="#ea636c" stroke="#0d1a3a" stroke-width="0.26"/>
<text x="282.8" y="116.69099999999999" font-size="5.1" text-anchor="start" font-weight="normal" font-style="italic" fill="#222" transform="rotate(0.1 282.8 116.69099999999999)">Ccl19</text>
<rect x="208.40" y="117.44" width="4.00" height="5.17" fill="#35a862" stroke="#444" stroke-width="0.26"/>
<rect x="212.80" y="117.44" width="7.26" height="5.17" fill="#66ace6" stroke="#0d1a3a" stroke-width="0.26"/>
<rect x="220.06" y="117.44" width="7.26" height="5.17" fill="#66ace6" stroke="#0d1a3a" stroke-width="0.26"/>
<rect x="227.32" y="117.44" width="7.26" height="5.17" fill="#66ace6" stroke="#0d1a3a" stroke-width="0.26"/>
<rect x="234.58" y="117.44" width="7.26" height="5.17" fill="#66ace6" stroke="#0d1a3a" stroke-width="0.26"/>
<rect x="243.84" y="117.44" width="7.26" height="5.17" fill="#ea636c" stroke="#0d1a3a" stroke-width="0.26"/>
<rect x="251.10" y="117.44" width="7.26" height="5.17" fill="#f08c92" stroke="#0d1a3a" stroke-width="0.26"/>
<rect x="258.36" y="117.44" width="7.26" height="5.17" fill="#de2433" stroke="#0d1a3a" stroke-width="0.26"/>
<rect x="265.62" y="117.44" width="7.26" height="5.17" fill="#ea636c" stroke="#0d1a3a" stroke-width="0.26"/>
<rect x="272.88" y="117.44" width="7.26" height="5.17" fill="#ea636c" stroke="#0d1a3a" stroke-width="0.26"/>
<text x="282.8" y="121.86099999999999" font-size="5.1" text-anchor="start" font-weight="normal" font-style="italic" fill="#222" transform="rotate(0.1 282.8 121.86099999999999)">Cxcl9</text>
<rect x="208.40" y="122.61" width="4.00" height="5.17" fill="#35a862" stroke="#444" stroke-width="0.26"/>
<rect x="212.80" y="122.61" width="7.26" height="5.17" fill="#66ace6" stroke="#0d1a3a" stroke-width="0.26"/>
<rect x="220.06" y="122.61" width="7.26" height="5.17" fill="#66ace6" stroke="#0d1a3a" stroke-width="0.26"/>
<rect x="227.32" y="122.61" width="7.26" height="5.17" fill="#66ace6" stroke="#0d1a3a" stroke-width="0.26"/>
<rect x="234.58" y="122.61" width="7.26" height="5.17" fill="#66ace6" stroke="#0d1a3a" stroke-width="0.26"/>
<rect x="243.84" y="122.61" width="7.26" height="5.17" fill="#f6b4b7" stroke="#0d1a3a" stroke-width="0.26"/>
<rect x="251.10" y="122.61" width="7.26" height="5.17" fill="#ea636c" stroke="#0d1a3a" stroke-width="0.26"/>
<rect x="258.36" y="122.61" width="7.26" height="5.17" fill="#de2433" stroke="#0d1a3a" stroke-width="0.26"/>
<rect x="265.62" y="122.61" width="7.26" height="5.17" fill="#ea636c" stroke="#0d1a3a" stroke-width="0.26"/>
<rect x="272.88" y="122.61" width="7.26" height="5.17" fill="#ea636c" stroke="#0d1a3a" stroke-width="0.26"/>
<text x="282.8" y="127.03099999999999" font-size="5.1" text-anchor="start" font-weight="normal" font-style="italic" fill="#222" transform="rotate(0.1 282.8 127.03099999999999)">Stat1</text>
<rect x="208.40" y="127.78" width="4.00" height="5.17" fill="#35a862" stroke="#444" stroke-width="0.26"/>
<rect x="212.80" y="127.78" width="7.26" height="5.17" fill="#66ace6" stroke="#0d1a3a" stroke-width="0.26"/>
<rect x="220.06" y="127.78" width="7.26" height="5.17" fill="#66ace6" stroke="#0d1a3a" stroke-width="0.26"/>
<rect x="227.32" y="127.78" width="7.26" height="5.17" fill="#66ace6" stroke="#0d1a3a" stroke-width="0.26"/>
<rect x="234.58" y="127.78" width="7.26" height="5.17" fill="#66ace6" stroke="#0d1a3a" stroke-width="0.26"/>
<rect x="243.84" y="127.78" width="7.26" height="5.17" fill="#ea636c" stroke="#0d1a3a" stroke-width="0.26"/>
<rect x="251.10" y="127.78" width="7.26" height="5.17" fill="#ea636c" stroke="#0d1a3a" stroke-width="0.26"/>
<rect x="258.36" y="127.78" width="7.26" height="5.17" fill="#de2433" stroke="#0d1a3a" stroke-width="0.26"/>
<rect x="265.62" y="127.78" width="7.26" height="5.17" fill="#e4404c" stroke="#0d1a3a" stroke-width="0.26"/>
<rect x="272.88" y="127.78" width="7.26" height="5.17" fill="#f08c92" stroke="#0d1a3a" stroke-width="0.26"/>
<text x="282.8" y="132.20100000000002" font-size="5.1" text-anchor="start" font-weight="normal" font-style="italic" fill="#222" transform="rotate(0.1 282.8 132.20100000000002)">Cxcl10</text>
<rect x="208.40" y="132.95" width="4.00" height="5.17" fill="#eaf6ea" stroke="#444" stroke-width="0.26"/>
<rect x="212.80" y="132.95" width="7.26" height="5.17" fill="#66ace6" stroke="#0d1a3a" stroke-width="0.26"/>
<rect x="220.06" y="132.95" width="7.26" height="5.17" fill="#aad4f4" stroke="#0d1a3a" stroke-width="0.26"/>
<rect x="227.32" y="132.95" width="7.26" height="5.17" fill="#66ace6" stroke="#0d1a3a" stroke-width="0.26"/>
<rect x="234.58" y="132.95" width="7.26" height="5.17" fill="#66ace6" stroke="#0d1a3a" stroke-width="0.26"/>
<rect x="243.84" y="132.95" width="7.26" height="5.17" fill="#ea636c" stroke="#0d1a3a" stroke-width="0.26"/>
<rect x="251.10" y="132.95" width="7.26" height="5.17" fill="#f6b4b7" stroke="#0d1a3a" stroke-width="0.26"/>
<rect x="258.36" y="132.95" width="7.26" height="5.17" fill="#de2433" stroke="#0d1a3a" stroke-width="0.26"/>
<rect x="265.62" y="132.95" width="7.26" height="5.17" fill="#f6b4b7" stroke="#0d1a3a" stroke-width="0.26"/>
<rect x="272.88" y="132.95" width="7.26" height="5.17" fill="#d6eaf9" stroke="#0d1a3a" stroke-width="0.26"/>
<text x="282.8" y="137.371" font-size="5.1" text-anchor="start" font-weight="normal" font-style="italic" fill="#222" transform="rotate(0.1 282.8 137.371)">Stat2</text>
<rect x="208.40" y="138.12" width="4.00" height="5.17" fill="#eaf6ea" stroke="#444" stroke-width="0.26"/>
<rect x="212.80" y="138.12" width="7.26" height="5.17" fill="#66ace6" stroke="#0d1a3a" stroke-width="0.26"/>
<rect x="220.06" y="138.12" width="7.26" height="5.17" fill="#ffffff" stroke="#0d1a3a" stroke-width="0.26"/>
<rect x="227.32" y="138.12" width="7.26" height="5.17" fill="#66ace6" stroke="#0d1a3a" stroke-width="0.26"/>
<rect x="234.58" y="138.12" width="7.26" height="5.17" fill="#66ace6" stroke="#0d1a3a" stroke-width="0.26"/>
<rect x="243.84" y="138.12" width="7.26" height="5.17" fill="#ea636c" stroke="#0d1a3a" stroke-width="0.26"/>
<rect x="251.10" y="138.12" width="7.26" height="5.17" fill="#ea636c" stroke="#0d1a3a" stroke-width="0.26"/>
<rect x="258.36" y="138.12" width="7.26" height="5.17" fill="#de2433" stroke="#0d1a3a" stroke-width="0.26"/>
<rect x="265.62" y="138.12" width="7.26" height="5.17" fill="#ea636c" stroke="#0d1a3a" stroke-width="0.26"/>
<rect x="272.88" y="138.12" width="7.26" height="5.17" fill="#fad4d5" stroke="#0d1a3a" stroke-width="0.26"/>
<text x="282.8" y="142.54100000000003" font-size="5.1" text-anchor="start" font-weight="normal" font-style="italic" fill="#222" transform="rotate(0.1 282.8 142.54100000000003)">Ifnar2</text>
<rect x="208.40" y="143.29" width="4.00" height="5.17" fill="#0c5a34" stroke="#444" stroke-width="0.26"/>
<rect x="212.80" y="143.29" width="7.26" height="5.17" fill="#66ace6" stroke="#0d1a3a" stroke-width="0.26"/>
<rect x="220.06" y="143.29" width="7.26" height="5.17" fill="#66ace6" stroke="#0d1a3a" stroke-width="0.26"/>
<rect x="227.32" y="143.29" width="7.26" height="5.17" fill="#66ace6" stroke="#0d1a3a" stroke-width="0.26"/>
<rect x="234.58" y="143.29" width="7.26" height="5.17" fill="#66ace6" stroke="#0d1a3a" stroke-width="0.26"/>
<rect x="243.84" y="143.29" width="7.26" height="5.17" fill="#e4404c" stroke="#0d1a3a" stroke-width="0.26"/>
<rect x="251.10" y="143.29" width="7.26" height="5.17" fill="#ea636c" stroke="#0d1a3a" stroke-width="0.26"/>
<rect x="258.36" y="143.29" width="7.26" height="5.17" fill="#de2433" stroke="#0d1a3a" stroke-width="0.26"/>
<rect x="265.62" y="143.29" width="7.26" height="5.17" fill="#de2433" stroke="#0d1a3a" stroke-width="0.26"/>
<rect x="272.88" y="143.29" width="7.26" height="5.17" fill="#f6b4b7" stroke="#0d1a3a" stroke-width="0.26"/>
<text x="282.8" y="147.711" font-size="5.1" text-anchor="start" font-weight="normal" font-style="italic" fill="#222" transform="rotate(0.1 282.8 147.711)">Xcl1</text>
<rect x="208.40" y="148.46" width="4.00" height="5.17" fill="#0c5a34" stroke="#444" stroke-width="0.26"/>
<rect x="212.80" y="148.46" width="7.26" height="5.17" fill="#66ace6" stroke="#0d1a3a" stroke-width="0.26"/>
<rect x="220.06" y="148.46" width="7.26" height="5.17" fill="#86c0ee" stroke="#0d1a3a" stroke-width="0.26"/>
<rect x="227.32" y="148.46" width="7.26" height="5.17" fill="#66ace6" stroke="#0d1a3a" stroke-width="0.26"/>
<rect x="234.58" y="148.46" width="7.26" height="5.17" fill="#66ace6" stroke="#0d1a3a" stroke-width="0.26"/>
<rect x="243.84" y="148.46" width="7.26" height="5.17" fill="#e4404c" stroke="#0d1a3a" stroke-width="0.26"/>
<rect x="251.10" y="148.46" width="7.26" height="5.17" fill="#ea636c" stroke="#0d1a3a" stroke-width="0.26"/>
<rect x="258.36" y="148.46" width="7.26" height="5.17" fill="#de2433" stroke="#0d1a3a" stroke-width="0.26"/>
<rect x="265.62" y="148.46" width="7.26" height="5.17" fill="#de2433" stroke="#0d1a3a" stroke-width="0.26"/>
<rect x="272.88" y="148.46" width="7.26" height="5.17" fill="#ea636c" stroke="#0d1a3a" stroke-width="0.26"/>
<text x="282.8" y="152.881" font-size="5.1" text-anchor="start" font-weight="normal" font-style="italic" fill="#222" transform="rotate(0.1 282.8 152.881)">Ccl5</text>
<rect x="208.40" y="153.63" width="4.00" height="5.17" fill="#eaf6ea" stroke="#444" stroke-width="0.26"/>
<rect x="212.80" y="153.63" width="7.26" height="5.17" fill="#aad4f4" stroke="#0d1a3a" stroke-width="0.26"/>
<rect x="220.06" y="153.63" width="7.26" height="5.17" fill="#66ace6" stroke="#0d1a3a" stroke-width="0.26"/>
<rect x="227.32" y="153.63" width="7.26" height="5.17" fill="#86c0ee" stroke="#0d1a3a" stroke-width="0.26"/>
<rect x="234.58" y="153.63" width="7.26" height="5.17" fill="#aad4f4" stroke="#0d1a3a" stroke-width="0.26"/>
<rect x="243.84" y="153.63" width="7.26" height="5.17" fill="#f6b4b7" stroke="#0d1a3a" stroke-width="0.26"/>
<rect x="251.10" y="153.63" width="7.26" height="5.17" fill="#66ace6" stroke="#0d1a3a" stroke-width="0.26"/>
<rect x="258.36" y="153.63" width="7.26" height="5.17" fill="#de2433" stroke="#0d1a3a" stroke-width="0.26"/>
<rect x="265.62" y="153.63" width="7.26" height="5.17" fill="#de2433" stroke="#0d1a3a" stroke-width="0.26"/>
<rect x="272.88" y="153.63" width="7.26" height="5.17" fill="#f08c92" stroke="#0d1a3a" stroke-width="0.26"/>
<text x="282.8" y="158.05100000000002" font-size="5.1" text-anchor="start" font-weight="normal" font-style="italic" fill="#222" transform="rotate(0.1 282.8 158.05100000000002)">Cxcl11</text>
<rect x="208.40" y="158.80" width="4.00" height="5.17" fill="#35a862" stroke="#444" stroke-width="0.26"/>
<rect x="212.80" y="158.80" width="7.26" height="5.17" fill="#86c0ee" stroke="#0d1a3a" stroke-width="0.26"/>
<rect x="220.06" y="158.80" width="7.26" height="5.17" fill="#66ace6" stroke="#0d1a3a" stroke-width="0.26"/>
<rect x="227.32" y="158.80" width="7.26" height="5.17" fill="#66ace6" stroke="#0d1a3a" stroke-width="0.26"/>
<rect x="234.58" y="158.80" width="7.26" height="5.17" fill="#66ace6" stroke="#0d1a3a" stroke-width="0.26"/>
<rect x="243.84" y="158.80" width="7.26" height="5.17" fill="#de2433" stroke="#0d1a3a" stroke-width="0.26"/>
<rect x="251.10" y="158.80" width="7.26" height="5.17" fill="#f08c92" stroke="#0d1a3a" stroke-width="0.26"/>
<rect x="258.36" y="158.80" width="7.26" height="5.17" fill="#ea636c" stroke="#0d1a3a" stroke-width="0.26"/>
<rect x="265.62" y="158.80" width="7.26" height="5.17" fill="#de2433" stroke="#0d1a3a" stroke-width="0.26"/>
<rect x="272.88" y="158.80" width="7.26" height="5.17" fill="#ea636c" stroke="#0d1a3a" stroke-width="0.26"/>
<text x="282.8" y="163.22100000000003" font-size="5.1" text-anchor="start" font-weight="normal" font-style="italic" fill="#222" transform="rotate(0.1 282.8 163.22100000000003)">Cxcl12</text>
<rect x="208.40" y="163.97" width="4.00" height="5.17" fill="#35a862" stroke="#444" stroke-width="0.26"/>
<rect x="212.80" y="163.97" width="7.26" height="5.17" fill="#aad4f4" stroke="#0d1a3a" stroke-width="0.26"/>
<rect x="220.06" y="163.97" width="7.26" height="5.17" fill="#66ace6" stroke="#0d1a3a" stroke-width="0.26"/>
<rect x="227.32" y="163.97" width="7.26" height="5.17" fill="#86c0ee" stroke="#0d1a3a" stroke-width="0.26"/>
<rect x="234.58" y="163.97" width="7.26" height="5.17" fill="#66ace6" stroke="#0d1a3a" stroke-width="0.26"/>
<rect x="243.84" y="163.97" width="7.26" height="5.17" fill="#86c0ee" stroke="#0d1a3a" stroke-width="0.26"/>
<rect x="251.10" y="163.97" width="7.26" height="5.17" fill="#ea636c" stroke="#0d1a3a" stroke-width="0.26"/>
<rect x="258.36" y="163.97" width="7.26" height="5.17" fill="#de2433" stroke="#0d1a3a" stroke-width="0.26"/>
<rect x="265.62" y="163.97" width="7.26" height="5.17" fill="#de2433" stroke="#0d1a3a" stroke-width="0.26"/>
<rect x="272.88" y="163.97" width="7.26" height="5.17" fill="#e4404c" stroke="#0d1a3a" stroke-width="0.26"/>
<text x="282.8" y="168.39100000000002" font-size="5.1" text-anchor="start" font-weight="normal" font-style="italic" fill="#222" transform="rotate(0.1 282.8 168.39100000000002)">Ccl9</text>
<rect x="208.40" y="169.14" width="4.00" height="5.17" fill="#35a862" stroke="#444" stroke-width="0.26"/>
<rect x="212.80" y="169.14" width="7.26" height="5.17" fill="#aad4f4" stroke="#0d1a3a" stroke-width="0.26"/>
<rect x="220.06" y="169.14" width="7.26" height="5.17" fill="#66ace6" stroke="#0d1a3a" stroke-width="0.26"/>
<rect x="227.32" y="169.14" width="7.26" height="5.17" fill="#86c0ee" stroke="#0d1a3a" stroke-width="0.26"/>
<rect x="234.58" y="169.14" width="7.26" height="5.17" fill="#66ace6" stroke="#0d1a3a" stroke-width="0.26"/>
<rect x="243.84" y="169.14" width="7.26" height="5.17" fill="#f6b4b7" stroke="#0d1a3a" stroke-width="0.26"/>
<rect x="251.10" y="169.14" width="7.26" height="5.17" fill="#fbdcdd" stroke="#0d1a3a" stroke-width="0.26"/>
<rect x="258.36" y="169.14" width="7.26" height="5.17" fill="#de2433" stroke="#0d1a3a" stroke-width="0.26"/>
<rect x="265.62" y="169.14" width="7.26" height="5.17" fill="#ea636c" stroke="#0d1a3a" stroke-width="0.26"/>
<rect x="272.88" y="169.14" width="7.26" height="5.17" fill="#de2433" stroke="#0d1a3a" stroke-width="0.26"/>
<text x="282.8" y="173.561" font-size="5.1" text-anchor="start" font-weight="normal" font-style="italic" fill="#222" transform="rotate(0.1 282.8 173.561)">Ccr5</text>
<rect x="208.40" y="174.31" width="4.00" height="5.17" fill="#35a862" stroke="#444" stroke-width="0.26"/>
<rect x="212.80" y="174.31" width="7.26" height="5.17" fill="#86c0ee" stroke="#0d1a3a" stroke-width="0.26"/>
<rect x="220.06" y="174.31" width="7.26" height="5.17" fill="#66ace6" stroke="#0d1a3a" stroke-width="0.26"/>
<rect x="227.32" y="174.31" width="7.26" height="5.17" fill="#66ace6" stroke="#0d1a3a" stroke-width="0.26"/>
<rect x="234.58" y="174.31" width="7.26" height="5.17" fill="#66ace6" stroke="#0d1a3a" stroke-width="0.26"/>
<rect x="243.84" y="174.31" width="7.26" height="5.17" fill="#ea636c" stroke="#0d1a3a" stroke-width="0.26"/>
<rect x="251.10" y="174.31" width="7.26" height="5.17" fill="#f08c92" stroke="#0d1a3a" stroke-width="0.26"/>
<rect x="258.36" y="174.31" width="7.26" height="5.17" fill="#de2433" stroke="#0d1a3a" stroke-width="0.26"/>
<rect x="265.62" y="174.31" width="7.26" height="5.17" fill="#e4404c" stroke="#0d1a3a" stroke-width="0.26"/>
<rect x="272.88" y="174.31" width="7.26" height="5.17" fill="#e4404c" stroke="#0d1a3a" stroke-width="0.26"/>
<text x="282.8" y="178.73100000000002" font-size="5.1" text-anchor="start" font-weight="normal" font-style="italic" fill="#222" transform="rotate(0.1 282.8 178.73100000000002)">Ifngr1</text>
<rect x="208.40" y="179.48" width="4.00" height="5.17" fill="#dcdcdc" stroke="#444" stroke-width="0.26"/>
<rect x="212.80" y="179.48" width="7.26" height="5.17" fill="#ffffff" stroke="#0d1a3a" stroke-width="0.26"/>
<rect x="220.06" y="179.48" width="7.26" height="5.17" fill="#f6b4b7" stroke="#0d1a3a" stroke-width="0.26"/>
<rect x="227.32" y="179.48" width="7.26" height="5.17" fill="#f08c92" stroke="#0d1a3a" stroke-width="0.26"/>
<rect x="234.58" y="179.48" width="7.26" height="5.17" fill="#66ace6" stroke="#0d1a3a" stroke-width="0.26"/>
<rect x="243.84" y="179.48" width="7.26" height="5.17" fill="#de2433" stroke="#0d1a3a" stroke-width="0.26"/>
<rect x="251.10" y="179.48" width="7.26" height="5.17" fill="#66ace6" stroke="#0d1a3a" stroke-width="0.26"/>
<rect x="258.36" y="179.48" width="7.26" height="5.17" fill="#de2433" stroke="#0d1a3a" stroke-width="0.26"/>
<rect x="265.62" y="179.48" width="7.26" height="5.17" fill="#f6b4b7" stroke="#0d1a3a" stroke-width="0.26"/>
<rect x="272.88" y="179.48" width="7.26" height="5.17" fill="#86c0ee" stroke="#0d1a3a" stroke-width="0.26"/>
<text x="282.8" y="183.901" font-size="5.1" text-anchor="start" font-weight="normal" font-style="italic" fill="#222" transform="rotate(0.1 282.8 183.901)">Ifna2</text>
<rect x="208.40" y="184.65" width="4.00" height="5.17" fill="#dcdcdc" stroke="#444" stroke-width="0.26"/>
<rect x="212.80" y="184.65" width="7.26" height="5.17" fill="#f6b4b7" stroke="#0d1a3a" stroke-width="0.26"/>
<rect x="220.06" y="184.65" width="7.26" height="5.17" fill="#66ace6" stroke="#0d1a3a" stroke-width="0.26"/>
<rect x="227.32" y="184.65" width="7.26" height="5.17" fill="#66ace6" stroke="#0d1a3a" stroke-width="0.26"/>
<rect x="234.58" y="184.65" width="7.26" height="5.17" fill="#fbdcdd" stroke="#0d1a3a" stroke-width="0.26"/>
<rect x="243.84" y="184.65" width="7.26" height="5.17" fill="#de2433" stroke="#0d1a3a" stroke-width="0.26"/>
<rect x="251.10" y="184.65" width="7.26" height="5.17" fill="#86c0ee" stroke="#0d1a3a" stroke-width="0.26"/>
<rect x="258.36" y="184.65" width="7.26" height="5.17" fill="#86c0ee" stroke="#0d1a3a" stroke-width="0.26"/>
<rect x="265.62" y="184.65" width="7.26" height="5.17" fill="#86c0ee" stroke="#0d1a3a" stroke-width="0.26"/>
<rect x="272.88" y="184.65" width="7.26" height="5.17" fill="#de2433" stroke="#0d1a3a" stroke-width="0.26"/>
<text x="282.8" y="189.071" font-size="5.1" text-anchor="start" font-weight="normal" font-style="italic" fill="#222" transform="rotate(0.1 282.8 189.071)">Ifna4</text>
<rect x="208.40" y="189.82" width="4.00" height="5.17" fill="#dcdcdc" stroke="#444" stroke-width="0.26"/>
<rect x="212.80" y="189.82" width="7.26" height="5.17" fill="#ffffff" stroke="#0d1a3a" stroke-width="0.26"/>
<rect x="220.06" y="189.82" width="7.26" height="5.17" fill="#66ace6" stroke="#0d1a3a" stroke-width="0.26"/>
<rect x="227.32" y="189.82" width="7.26" height="5.17" fill="#66ace6" stroke="#0d1a3a" stroke-width="0.26"/>
<rect x="234.58" y="189.82" width="7.26" height="5.17" fill="#66ace6" stroke="#0d1a3a" stroke-width="0.26"/>
<rect x="243.84" y="189.82" width="7.26" height="5.17" fill="#de2433" stroke="#0d1a3a" stroke-width="0.26"/>
<rect x="251.10" y="189.82" width="7.26" height="5.17" fill="#f6b4b7" stroke="#0d1a3a" stroke-width="0.26"/>
<rect x="258.36" y="189.82" width="7.26" height="5.17" fill="#de2433" stroke="#0d1a3a" stroke-width="0.26"/>
<rect x="265.62" y="189.82" width="7.26" height="5.17" fill="#86c0ee" stroke="#0d1a3a" stroke-width="0.26"/>
<rect x="272.88" y="189.82" width="7.26" height="5.17" fill="#de2433" stroke="#0d1a3a" stroke-width="0.26"/>
<text x="282.8" y="194.241" font-size="5.1" text-anchor="start" font-weight="normal" font-style="italic" fill="#222" transform="rotate(0.1 282.8 194.241)">Ifng</text>
<rect x="208.40" y="196.90" width="4.00" height="4.95" fill="#dcdcdc" stroke="#444" stroke-width="0.26"/>
<rect x="212.80" y="196.90" width="7.26" height="4.95" fill="#de2433" stroke="#0d1a3a" stroke-width="0.26"/>
<rect x="220.06" y="196.90" width="7.26" height="4.95" fill="#66ace6" stroke="#0d1a3a" stroke-width="0.26"/>
<rect x="227.32" y="196.90" width="7.26" height="4.95" fill="#aad4f4" stroke="#0d1a3a" stroke-width="0.26"/>
<rect x="234.58" y="196.90" width="7.26" height="4.95" fill="#86c0ee" stroke="#0d1a3a" stroke-width="0.26"/>
<rect x="243.84" y="196.90" width="7.26" height="4.95" fill="#aad4f4" stroke="#0d1a3a" stroke-width="0.26"/>
<rect x="251.10" y="196.90" width="7.26" height="4.95" fill="#fbdcdd" stroke="#0d1a3a" stroke-width="0.26"/>
<rect x="258.36" y="196.90" width="7.26" height="4.95" fill="#86c0ee" stroke="#0d1a3a" stroke-width="0.26"/>
<rect x="265.62" y="196.90" width="7.26" height="4.95" fill="#f6b4b7" stroke="#0d1a3a" stroke-width="0.26"/>
<rect x="272.88" y="196.90" width="7.26" height="4.95" fill="#ea636c" stroke="#0d1a3a" stroke-width="0.26"/>
<text x="282.8" y="201.211" font-size="5.1" text-anchor="start" font-weight="normal" font-style="italic" fill="#222" transform="rotate(0.1 282.8 201.211)">Ifnar1</text>
<rect x="208.40" y="201.85" width="4.00" height="4.95" fill="#dcdcdc" stroke="#444" stroke-width="0.26"/>
<rect x="212.80" y="201.85" width="7.26" height="4.95" fill="#de2433" stroke="#0d1a3a" stroke-width="0.26"/>
<rect x="220.06" y="201.85" width="7.26" height="4.95" fill="#86c0ee" stroke="#0d1a3a" stroke-width="0.26"/>
<rect x="227.32" y="201.85" width="7.26" height="4.95" fill="#d6eaf9" stroke="#0d1a3a" stroke-width="0.26"/>
<rect x="234.58" y="201.85" width="7.26" height="4.95" fill="#66ace6" stroke="#0d1a3a" stroke-width="0.26"/>
<rect x="243.84" y="201.85" width="7.26" height="4.95" fill="#66ace6" stroke="#0d1a3a" stroke-width="0.26"/>
<rect x="251.10" y="201.85" width="7.26" height="4.95" fill="#66ace6" stroke="#0d1a3a" stroke-width="0.26"/>
<rect x="258.36" y="201.85" width="7.26" height="4.95" fill="#e4404c" stroke="#0d1a3a" stroke-width="0.26"/>
<rect x="265.62" y="201.85" width="7.26" height="4.95" fill="#ea636c" stroke="#0d1a3a" stroke-width="0.26"/>
<rect x="272.88" y="201.85" width="7.26" height="4.95" fill="#de2433" stroke="#0d1a3a" stroke-width="0.26"/>
<text x="282.8" y="206.161" font-size="5.1" text-anchor="start" font-weight="normal" font-style="italic" fill="#222" transform="rotate(0.1 282.8 206.161)">Ifnl2</text>
<rect x="208.40" y="206.80" width="4.00" height="4.95" fill="#dcdcdc" stroke="#444" stroke-width="0.26"/>
<rect x="212.80" y="206.80" width="7.26" height="4.95" fill="#de2433" stroke="#0d1a3a" stroke-width="0.26"/>
<rect x="220.06" y="206.80" width="7.26" height="4.95" fill="#aad4f4" stroke="#0d1a3a" stroke-width="0.26"/>
<rect x="227.32" y="206.80" width="7.26" height="4.95" fill="#ea636c" stroke="#0d1a3a" stroke-width="0.26"/>
<rect x="234.58" y="206.80" width="7.26" height="4.95" fill="#ffffff" stroke="#0d1a3a" stroke-width="0.26"/>
<rect x="243.84" y="206.80" width="7.26" height="4.95" fill="#66ace6" stroke="#0d1a3a" stroke-width="0.26"/>
<rect x="251.10" y="206.80" width="7.26" height="4.95" fill="#66ace6" stroke="#0d1a3a" stroke-width="0.26"/>
<rect x="258.36" y="206.80" width="7.26" height="4.95" fill="#ffffff" stroke="#0d1a3a" stroke-width="0.26"/>
<rect x="265.62" y="206.80" width="7.26" height="4.95" fill="#f08c92" stroke="#0d1a3a" stroke-width="0.26"/>
<rect x="272.88" y="206.80" width="7.26" height="4.95" fill="#de2433" stroke="#0d1a3a" stroke-width="0.26"/>
<text x="282.8" y="211.11100000000002" font-size="5.1" text-anchor="start" font-weight="normal" font-style="italic" fill="#222" transform="rotate(0.1 282.8 211.11100000000002)">Ifna1</text>
<rect x="208.40" y="214.30" width="4.00" height="5.20" fill="#dcdcdc" stroke="#444" stroke-width="0.26"/>
<rect x="212.80" y="214.30" width="7.26" height="5.20" fill="#de2433" stroke="#0d1a3a" stroke-width="0.26"/>
<rect x="220.06" y="214.30" width="7.26" height="5.20" fill="#f08c92" stroke="#0d1a3a" stroke-width="0.26"/>
<rect x="227.32" y="214.30" width="7.26" height="5.20" fill="#66ace6" stroke="#0d1a3a" stroke-width="0.26"/>
<rect x="234.58" y="214.30" width="7.26" height="5.20" fill="#66ace6" stroke="#0d1a3a" stroke-width="0.26"/>
<rect x="243.84" y="214.30" width="7.26" height="5.20" fill="#ea636c" stroke="#0d1a3a" stroke-width="0.26"/>
<rect x="251.10" y="214.30" width="7.26" height="5.20" fill="#f08c92" stroke="#0d1a3a" stroke-width="0.26"/>
<rect x="258.36" y="214.30" width="7.26" height="5.20" fill="#d6eaf9" stroke="#0d1a3a" stroke-width="0.26"/>
<rect x="265.62" y="214.30" width="7.26" height="5.20" fill="#ea636c" stroke="#0d1a3a" stroke-width="0.26"/>
<rect x="272.88" y="214.30" width="7.26" height="5.20" fill="#66ace6" stroke="#0d1a3a" stroke-width="0.26"/>
<text x="282.8" y="218.73600000000002" font-size="5.1" text-anchor="start" font-weight="normal" font-style="italic" fill="#222" transform="rotate(0.1 282.8 218.73600000000002)">Cxcl3</text>
<rect x="208.40" y="219.50" width="4.00" height="5.20" fill="#dcdcdc" stroke="#444" stroke-width="0.26"/>
<rect x="212.80" y="219.50" width="7.26" height="5.20" fill="#ea636c" stroke="#0d1a3a" stroke-width="0.26"/>
<rect x="220.06" y="219.50" width="7.26" height="5.20" fill="#f08c92" stroke="#0d1a3a" stroke-width="0.26"/>
<rect x="227.32" y="219.50" width="7.26" height="5.20" fill="#de2433" stroke="#0d1a3a" stroke-width="0.26"/>
<rect x="234.58" y="219.50" width="7.26" height="5.20" fill="#ffffff" stroke="#0d1a3a" stroke-width="0.26"/>
<rect x="243.84" y="219.50" width="7.26" height="5.20" fill="#f08c92" stroke="#0d1a3a" stroke-width="0.26"/>
<rect x="251.10" y="219.50" width="7.26" height="5.20" fill="#ea636c" stroke="#0d1a3a" stroke-width="0.26"/>
<rect x="258.36" y="219.50" width="7.26" height="5.20" fill="#66ace6" stroke="#0d1a3a" stroke-width="0.26"/>
<rect x="265.62" y="219.50" width="7.26" height="5.20" fill="#fbdcdd" stroke="#0d1a3a" stroke-width="0.26"/>
<rect x="272.88" y="219.50" width="7.26" height="5.20" fill="#66ace6" stroke="#0d1a3a" stroke-width="0.26"/>
<text x="282.8" y="223.936" font-size="5.1" text-anchor="start" font-weight="normal" font-style="italic" fill="#222" transform="rotate(0.1 282.8 223.936)">Ifnb1</text>
<text x="197.6" y="161.5" font-size="5.3" text-anchor="middle" font-weight="normal" font-style="normal" fill="#222" transform="rotate(-90.1 197.6 161.5)">Cytokine pathway</text>
<path d="M208.3 109.7 H206.6 V114.9 H208.3 M208.3 120.0 H206.6 V125.2 H208.3 M208.3 130.4 H206.6 V135.5 H208.3 M208.3 140.7 H206.6 V145.9 H208.3 M208.3 151.0 H206.6 V156.2 H208.3 M208.3 161.4 H206.6 V166.6 H208.3 M208.3 171.7 H206.6 V176.9 H208.3 M206.6 112.2 H205.2 V132.9 H206.6 M205.2 122.5 H204 V161.4 H206.6 M204 140.7 H202.6 V187.2 M208.3 182.1 H206 V187.2 H208.3 M206 187.2 H204.6 V192.4 H208.3 M204.6 187.2 H202.6 M208.3 199.4 H205.5 V206.3 H206.8 M208.3 204.3 H206.8 V209.3 H208.3 M208.3 216.9 H205.5 V222.1 H208.3 " fill="none" stroke="#666" stroke-width="0.35"/>
<rect x="214.2" y="250.6" width="64.8" height="68.4" rx="5.5" ry="5.5" fill="#d8d8d8" stroke="#555" stroke-width="0.7"/>
<defs><linearGradient id="zg" x1="0" x2="1" y1="0" y2="0"><stop offset="0" stop-color="#2f80d2"/><stop offset="0.25" stop-color="#7fbaea"/><stop offset="0.5" stop-color="#ffffff"/><stop offset="0.75" stop-color="#ec7a82"/><stop offset="1" stop-color="#d91f2d"/></linearGradient></defs>
<text x="218.6" y="256" font-size="5.15" text-anchor="start" font-weight="normal" font-style="normal" fill="#222" transform="rotate(0.1 218.6 256)">Significance</text>
<rect x="221.30" y="258.90" width="4.10" height="6.10" fill="#d9d9d9" stroke="#444" stroke-width="0.35"/>
<text x="227.1" y="263.79999999999995" font-size="5.2" text-anchor="start" font-weight="normal" font-style="normal" fill="#222" transform="rotate(0.1 227.1 263.79999999999995)">Not significant</text>
<rect x="221.30" y="265.00" width="4.10" height="6.10" fill="#f4fbf4" stroke="#444" stroke-width="0.35"/>
<text x="227.1" y="269.90" font-size="5.2" fill="#222" transform="rotate(0.1 227.1 269.90)"><tspan font-style="italic">P</tspan> &lt; 0.05</text>
<rect x="221.30" y="271.10" width="4.10" height="6.10" fill="#8fd3a3" stroke="#444" stroke-width="0.35"/>
<text x="227.1" y="276.00" font-size="5.2" fill="#222" transform="rotate(0.1 227.1 276.00)"><tspan font-style="italic">P</tspan> &lt; 0.01</text>
<rect x="221.30" y="277.20" width="4.10" height="6.10" fill="#35a862" stroke="#444" stroke-width="0.35"/>
<text x="227.1" y="282.10" font-size="5.2" fill="#222" transform="rotate(0.1 227.1 282.10)"><tspan font-style="italic">P</tspan> &lt; 0.001</text>
<rect x="221.30" y="283.30" width="4.10" height="6.10" fill="#0c5a34" stroke="#444" stroke-width="0.35"/>
<text x="227.1" y="288.20" font-size="5.2" fill="#222" transform="rotate(0.1 227.1 288.20)"><tspan font-style="italic">P</tspan> &lt; 0.0001</text>
<text x="246.7" y="296" font-size="5.45" text-anchor="middle" font-weight="normal" font-style="normal" fill="#222" transform="rotate(0.1 246.7 296)">Pathway ssGSEA score</text>
<text x="246.7" y="302" font-size="5.2" text-anchor="middle" font-weight="normal" font-style="italic" fill="#222" transform="rotate(0.1 246.7 302)">(row z-score)</text>
<rect x="221.3" y="304.2" width="49.9" height="5.4" fill="url(#zg)" stroke="#333" stroke-width="0.4"/>
<text x="225.1" y="310.8" font-size="4.8" text-anchor="end" font-weight="normal" font-style="normal" fill="#222" transform="rotate(-90.1 225.1 310.8)">–2</text>
<text x="236.5" y="310.8" font-size="4.8" text-anchor="end" font-weight="normal" font-style="normal" fill="#222" transform="rotate(-90.1 236.5 310.8)">–1</text>
<text x="248.29999999999998" y="310.8" font-size="4.8" text-anchor="end" font-weight="normal" font-style="normal" fill="#222" transform="rotate(-90.1 248.29999999999998 310.8)">0</text>
<text x="259.70000000000005" y="310.8" font-size="4.8" text-anchor="end" font-weight="normal" font-style="normal" fill="#222" transform="rotate(-90.1 259.70000000000005 310.8)">1</text>
<text x="270.8" y="310.8" font-size="4.8" text-anchor="end" font-weight="normal" font-style="normal" fill="#222" transform="rotate(-90.1 270.8 310.8)">2</text>
<line x1="315.50" y1="124.00" x2="315.50" y2="197.00" stroke="#333" stroke-width="0.6"/>
<path d="M314.1 124.6 L316.9 124.6 L315.5 121.6 Z" fill="#222"/>
<line x1="315.50" y1="255.00" x2="315.50" y2="343.80" stroke="#333" stroke-width="0.6"/>
<text x="317.4" y="228" font-size="5.3" text-anchor="middle" font-weight="normal" font-style="normal" fill="#222" transform="rotate(-90.1 317.4 228)">Fold increase</text>
<line x1="332.50" y1="116.20" x2="332.50" y2="168.20" stroke="#222" stroke-width="0.6"/>
<line x1="332.20" y1="167.90" x2="409.40" y2="167.90" stroke="#222" stroke-width="0.6"/>
<line x1="330.70" y1="167.90" x2="332.50" y2="167.90" stroke="#222" stroke-width="0.55"/>
<text x="330.3" y="170.348" font-size="6.8" text-anchor="end" font-weight="normal" font-style="normal" fill="#222" transform="rotate(0.1 330.3 170.348)">0</text>
<line x1="330.70" y1="157.62" x2="332.50" y2="157.62" stroke="#222" stroke-width="0.55"/>
<text x="330.3" y="160.068" font-size="6.8" text-anchor="end" font-weight="normal" font-style="normal" fill="#222" transform="rotate(0.1 330.3 160.068)">2</text>
<line x1="330.70" y1="147.34" x2="332.50" y2="147.34" stroke="#222" stroke-width="0.55"/>
<text x="330.3" y="149.788" font-size="6.8" text-anchor="end" font-weight="normal" font-style="normal" fill="#222" transform="rotate(0.1 330.3 149.788)">4</text>
<line x1="330.70" y1="137.06" x2="332.50" y2="137.06" stroke="#222" stroke-width="0.55"/>
<text x="330.3" y="139.508" font-size="6.8" text-anchor="end" font-weight="normal" font-style="normal" fill="#222" transform="rotate(0.1 330.3 139.508)">6</text>
<line x1="330.70" y1="126.78" x2="332.50" y2="126.78" stroke="#222" stroke-width="0.55"/>
<text x="330.3" y="129.228" font-size="6.8" text-anchor="end" font-weight="normal" font-style="normal" fill="#222" transform="rotate(0.1 330.3 129.228)">8</text>
<line x1="330.70" y1="116.50" x2="332.50" y2="116.50" stroke="#222" stroke-width="0.55"/>
<text x="330.3" y="118.948" font-size="6.8" text-anchor="end" font-weight="normal" font-style="normal" fill="#222" transform="rotate(0.1 330.3 118.948)">10</text>
<line x1="339.80" y1="167.90" x2="339.80" y2="169.50" stroke="#222" stroke-width="0.5"/>
<circle cx="337.60" cy="152.99" r="0.72" fill="#1a1a1a"/>
<circle cx="339.36" cy="156.59" r="0.72" fill="#1a1a1a"/>
<circle cx="341.12" cy="158.65" r="0.72" fill="#1a1a1a"/>
<circle cx="338.04" cy="160.70" r="0.72" fill="#1a1a1a"/>
<circle cx="339.80" cy="162.25" r="0.72" fill="#1a1a1a"/>
<circle cx="341.56" cy="163.27" r="0.72" fill="#1a1a1a"/>
<circle cx="338.48" cy="165.33" r="0.72" fill="#1a1a1a"/>
<circle cx="340.24" cy="165.59" r="0.72" fill="#1a1a1a"/>
<line x1="335.30" y1="161.73" x2="344.30" y2="161.73" stroke="#111" stroke-width="0.9"/>
<line x1="339.80" y1="163.27" x2="339.80" y2="160.19" stroke="#111" stroke-width="0.55"/>
<line x1="337.30" y1="160.19" x2="342.30" y2="160.19" stroke="#111" stroke-width="0.6"/>
<line x1="337.30" y1="163.27" x2="342.30" y2="163.27" stroke="#111" stroke-width="0.6"/>
<text x="335.4" y="175.2" font-size="5.3" text-anchor="middle" font-weight="normal" font-style="normal" fill="#222" transform="rotate(0.1 335.4 175.2)">Control</text>
<line x1="354.60" y1="167.90" x2="354.60" y2="169.50" stroke="#222" stroke-width="0.5"/>
<circle cx="352.78" cy="139.63" r="0.72" fill="#1a1a1a"/>
<circle cx="354.24" cy="143.74" r="0.72" fill="#1a1a1a"/>
<circle cx="355.69" cy="146.83" r="0.72" fill="#1a1a1a"/>
<circle cx="353.14" cy="152.48" r="0.72" fill="#1a1a1a"/>
<circle cx="354.60" cy="154.02" r="0.72" fill="#1a1a1a"/>
<circle cx="356.06" cy="155.05" r="0.72" fill="#1a1a1a"/>
<line x1="350.10" y1="150.94" x2="359.10" y2="150.94" stroke="#111" stroke-width="0.9"/>
<line x1="354.60" y1="154.02" x2="354.60" y2="147.85" stroke="#111" stroke-width="0.55"/>
<line x1="352.10" y1="147.85" x2="357.10" y2="147.85" stroke="#111" stroke-width="0.6"/>
<line x1="352.10" y1="154.02" x2="357.10" y2="154.02" stroke="#111" stroke-width="0.6"/>
<text x="353.7" y="175.2" font-size="5.3" text-anchor="middle" font-weight="normal" font-style="normal" fill="#222" transform="rotate(0.1 353.7 175.2)">Day 1</text>
<line x1="370.40" y1="167.90" x2="370.40" y2="169.50" stroke="#222" stroke-width="0.5"/>
<circle cx="369.24" cy="146.83" r="0.72" fill="#1a1a1a"/>
<circle cx="370.17" cy="150.42" r="0.72" fill="#1a1a1a"/>
<circle cx="371.10" cy="152.48" r="0.72" fill="#1a1a1a"/>
<line x1="365.90" y1="149.65" x2="374.90" y2="149.65" stroke="#111" stroke-width="0.9"/>
<line x1="370.40" y1="151.97" x2="370.40" y2="147.34" stroke="#111" stroke-width="0.55"/>
<line x1="367.90" y1="147.34" x2="372.90" y2="147.34" stroke="#111" stroke-width="0.6"/>
<line x1="367.90" y1="151.97" x2="372.90" y2="151.97" stroke="#111" stroke-width="0.6"/>
<text x="369.4" y="175.2" font-size="5.3" text-anchor="middle" font-weight="normal" font-style="normal" fill="#222" transform="rotate(0.1 369.4 175.2)">Day 2</text>
<line x1="386.00" y1="167.90" x2="386.00" y2="169.50" stroke="#222" stroke-width="0.5"/>
<circle cx="384.62" cy="159.16" r="0.72" fill="#1a1a1a"/>
<circle cx="385.72" cy="160.19" r="0.72" fill="#1a1a1a"/>
<circle cx="386.83" cy="160.70" r="0.72" fill="#1a1a1a"/>
<circle cx="384.90" cy="161.73" r="0.72" fill="#1a1a1a"/>
<line x1="381.50" y1="160.45" x2="390.50" y2="160.45" stroke="#111" stroke-width="0.9"/>
<line x1="386.00" y1="161.22" x2="386.00" y2="159.68" stroke="#111" stroke-width="0.55"/>
<line x1="383.50" y1="159.68" x2="388.50" y2="159.68" stroke="#111" stroke-width="0.6"/>
<line x1="383.50" y1="161.22" x2="388.50" y2="161.22" stroke="#111" stroke-width="0.6"/>
<text x="386" y="175.2" font-size="5.3" text-anchor="middle" font-weight="normal" font-style="normal" fill="#222" transform="rotate(0.1 386 175.2)">Day 3</text>
<line x1="401.70" y1="167.90" x2="401.70" y2="169.50" stroke="#222" stroke-width="0.5"/>
<circle cx="400.10" cy="154.54" r="0.72" fill="#1a1a1a"/>
<circle cx="401.38" cy="156.59" r="0.72" fill="#1a1a1a"/>
<circle cx="402.66" cy="158.13" r="0.72" fill="#1a1a1a"/>
<circle cx="400.42" cy="159.68" r="0.72" fill="#1a1a1a"/>
<circle cx="401.70" cy="160.19" r="0.72" fill="#1a1a1a"/>
<line x1="397.20" y1="157.88" x2="406.20" y2="157.88" stroke="#111" stroke-width="0.9"/>
<line x1="401.70" y1="159.01" x2="401.70" y2="156.75" stroke="#111" stroke-width="0.55"/>
<line x1="399.20" y1="156.75" x2="404.20" y2="156.75" stroke="#111" stroke-width="0.6"/>
<line x1="399.20" y1="159.01" x2="404.20" y2="159.01" stroke="#111" stroke-width="0.6"/>
<text x="402.4" y="175.2" font-size="5.3" text-anchor="middle" font-weight="normal" font-style="normal" fill="#222" transform="rotate(0.1 402.4 175.2)">Day 4</text>
<text x="334.6" y="103.2" font-size="6.5" text-anchor="start" font-weight="normal" font-style="italic" fill="#222" transform="rotate(0.1 334.6 103.2)">Ifna4</text>
<line x1="339.80" y1="116.50" x2="370.40" y2="116.50" stroke="#333" stroke-width="0.55"/>
<line x1="339.80" y1="115.20" x2="339.80" y2="117.80" stroke="#333" stroke-width="0.55"/>
<line x1="370.40" y1="115.20" x2="370.40" y2="117.80" stroke="#333" stroke-width="0.55"/>
<text x="355.5" y="116.1" font-size="6.2" text-anchor="middle" font-weight="bold" font-style="normal" fill="#222" transform="rotate(0.1 355.5 116.1)" letter-spacing="0.8">*</text>
<line x1="339.80" y1="122.70" x2="354.60" y2="122.70" stroke="#333" stroke-width="0.55"/>
<line x1="339.80" y1="121.40" x2="339.80" y2="124.00" stroke="#333" stroke-width="0.55"/>
<line x1="354.60" y1="121.40" x2="354.60" y2="124.00" stroke="#333" stroke-width="0.55"/>
<text x="347.6" y="122.3" font-size="6.2" text-anchor="middle" font-weight="bold" font-style="normal" fill="#222" transform="rotate(0.1 347.6 122.3)" letter-spacing="0.8">*</text>
<line x1="347.00" y1="179.60" x2="413.70" y2="179.60" stroke="#9a9a9a" stroke-width="0.6"/>
<text x="382" y="186" font-size="5.3" text-anchor="middle" font-weight="normal" font-style="normal" fill="#222" transform="rotate(0.1 382 186)">1 Gy</text>
<line x1="438.60" y1="116.60" x2="438.60" y2="167.90" stroke="#222" stroke-width="0.6"/>
<line x1="438.30" y1="167.60" x2="518.00" y2="167.60" stroke="#222" stroke-width="0.6"/>
<line x1="436.80" y1="167.60" x2="438.60" y2="167.60" stroke="#222" stroke-width="0.55"/>
<text x="436.40000000000003" y="170.408" font-size="7.8" text-anchor="end" font-weight="normal" font-style="normal" fill="#222" transform="rotate(0.1 436.40000000000003 170.408)">0</text>
<line x1="436.80" y1="142.25" x2="438.60" y2="142.25" stroke="#222" stroke-width="0.55"/>
<text x="436.40000000000003" y="145.058" font-size="7.8" text-anchor="end" font-weight="normal" font-style="normal" fill="#222" transform="rotate(0.1 436.40000000000003 145.058)">5</text>
<line x1="436.80" y1="116.90" x2="438.60" y2="116.90" stroke="#222" stroke-width="0.55"/>
<text x="436.40000000000003" y="119.708" font-size="7.8" text-anchor="end" font-weight="normal" font-style="normal" fill="#222" transform="rotate(0.1 436.40000000000003 119.708)">10</text>
<line x1="446.40" y1="167.60" x2="446.40" y2="169.20" stroke="#222" stroke-width="0.5"/>
<circle cx="444.20" cy="154.93" r="0.72" fill="#1a1a1a"/>
<circle cx="445.96" cy="156.45" r="0.72" fill="#1a1a1a"/>
<circle cx="447.72" cy="158.47" r="0.72" fill="#1a1a1a"/>
<circle cx="444.64" cy="160.00" r="0.72" fill="#1a1a1a"/>
<circle cx="446.40" cy="161.01" r="0.72" fill="#1a1a1a"/>
<circle cx="448.16" cy="161.52" r="0.72" fill="#1a1a1a"/>
<circle cx="445.08" cy="162.02" r="0.72" fill="#1a1a1a"/>
<circle cx="446.84" cy="162.53" r="0.72" fill="#1a1a1a"/>
<circle cx="448.60" cy="163.04" r="0.72" fill="#1a1a1a"/>
<circle cx="445.52" cy="163.54" r="0.72" fill="#1a1a1a"/>
<circle cx="447.28" cy="164.05" r="0.72" fill="#1a1a1a"/>
<circle cx="444.20" cy="165.06" r="0.72" fill="#1a1a1a"/>
<line x1="441.90" y1="162.02" x2="450.90" y2="162.02" stroke="#111" stroke-width="0.9"/>
<line x1="446.40" y1="162.78" x2="446.40" y2="161.26" stroke="#111" stroke-width="0.55"/>
<line x1="443.90" y1="161.26" x2="448.90" y2="161.26" stroke="#111" stroke-width="0.6"/>
<line x1="443.90" y1="162.78" x2="448.90" y2="162.78" stroke="#111" stroke-width="0.6"/>
<text x="441.7" y="175.0" font-size="5.3" text-anchor="middle" font-weight="normal" font-style="normal" fill="#222" transform="rotate(0.1 441.7 175.0)">Control</text>
<line x1="461.80" y1="167.60" x2="461.80" y2="169.20" stroke="#222" stroke-width="0.5"/>
<circle cx="459.60" cy="125.52" r="0.72" fill="#1a1a1a"/>
<circle cx="461.36" cy="145.80" r="0.72" fill="#1a1a1a"/>
<circle cx="463.12" cy="146.81" r="0.72" fill="#1a1a1a"/>
<circle cx="460.04" cy="147.83" r="0.72" fill="#1a1a1a"/>
<circle cx="461.80" cy="149.35" r="0.72" fill="#1a1a1a"/>
<circle cx="463.56" cy="150.87" r="0.72" fill="#1a1a1a"/>
<circle cx="460.48" cy="152.39" r="0.72" fill="#1a1a1a"/>
<circle cx="462.24" cy="156.45" r="0.72" fill="#1a1a1a"/>
<circle cx="464.00" cy="161.01" r="0.72" fill="#1a1a1a"/>
<line x1="457.30" y1="149.35" x2="466.30" y2="149.35" stroke="#111" stroke-width="0.9"/>
<line x1="461.80" y1="150.87" x2="461.80" y2="147.83" stroke="#111" stroke-width="0.55"/>
<line x1="459.30" y1="147.83" x2="464.30" y2="147.83" stroke="#111" stroke-width="0.6"/>
<line x1="459.30" y1="150.87" x2="464.30" y2="150.87" stroke="#111" stroke-width="0.6"/>
<text x="460.6" y="175.0" font-size="5.3" text-anchor="middle" font-weight="normal" font-style="normal" fill="#222" transform="rotate(0.1 460.6 175.0)">Day 1</text>
<line x1="477.30" y1="167.60" x2="477.30" y2="169.20" stroke="#222" stroke-width="0.5"/>
<circle cx="475.70" cy="150.36" r="0.72" fill="#1a1a1a"/>
<circle cx="476.98" cy="153.40" r="0.72" fill="#1a1a1a"/>
<circle cx="478.26" cy="154.93" r="0.72" fill="#1a1a1a"/>
<circle cx="476.02" cy="155.94" r="0.72" fill="#1a1a1a"/>
<circle cx="477.30" cy="160.50" r="0.72" fill="#1a1a1a"/>
<line x1="472.80" y1="155.18" x2="481.80" y2="155.18" stroke="#111" stroke-width="0.9"/>
<line x1="477.30" y1="156.19" x2="477.30" y2="154.16" stroke="#111" stroke-width="0.55"/>
<line x1="474.80" y1="154.16" x2="479.80" y2="154.16" stroke="#111" stroke-width="0.6"/>
<line x1="474.80" y1="156.19" x2="479.80" y2="156.19" stroke="#111" stroke-width="0.6"/>
<text x="476.4" y="175.0" font-size="5.3" text-anchor="middle" font-weight="normal" font-style="normal" fill="#222" transform="rotate(0.1 476.4 175.0)">Day 2</text>
<line x1="493.00" y1="167.60" x2="493.00" y2="169.20" stroke="#222" stroke-width="0.5"/>
<circle cx="491.40" cy="143.77" r="0.72" fill="#1a1a1a"/>
<circle cx="492.68" cy="151.38" r="0.72" fill="#1a1a1a"/>
<circle cx="493.96" cy="157.46" r="0.72" fill="#1a1a1a"/>
<circle cx="491.72" cy="160.50" r="0.72" fill="#1a1a1a"/>
<circle cx="493.00" cy="162.02" r="0.72" fill="#1a1a1a"/>
<line x1="488.50" y1="155.43" x2="497.50" y2="155.43" stroke="#111" stroke-width="0.9"/>
<line x1="493.00" y1="158.98" x2="493.00" y2="151.88" stroke="#111" stroke-width="0.55"/>
<line x1="490.50" y1="151.88" x2="495.50" y2="151.88" stroke="#111" stroke-width="0.6"/>
<line x1="490.50" y1="158.98" x2="495.50" y2="158.98" stroke="#111" stroke-width="0.6"/>
<text x="493" y="175.0" font-size="5.3" text-anchor="middle" font-weight="normal" font-style="normal" fill="#222" transform="rotate(0.1 493 175.0)">Day 3</text>
<line x1="508.80" y1="167.60" x2="508.80" y2="169.20" stroke="#222" stroke-width="0.5"/>
<circle cx="507.20" cy="153.40" r="0.72" fill="#1a1a1a"/>
<circle cx="508.48" cy="158.98" r="0.72" fill="#1a1a1a"/>
<circle cx="509.76" cy="160.00" r="0.72" fill="#1a1a1a"/>
<circle cx="507.52" cy="161.01" r="0.72" fill="#1a1a1a"/>
<circle cx="508.80" cy="162.02" r="0.72" fill="#1a1a1a"/>
<line x1="504.30" y1="159.74" x2="513.30" y2="159.74" stroke="#111" stroke-width="0.9"/>
<line x1="508.80" y1="161.01" x2="508.80" y2="158.47" stroke="#111" stroke-width="0.55"/>
<line x1="506.30" y1="158.47" x2="511.30" y2="158.47" stroke="#111" stroke-width="0.6"/>
<line x1="506.30" y1="161.01" x2="511.30" y2="161.01" stroke="#111" stroke-width="0.6"/>
<text x="511" y="175.0" font-size="5.3" text-anchor="middle" font-weight="normal" font-style="normal" fill="#222" transform="rotate(0.1 511 175.0)">Day 4</text>
<text x="442" y="103.3" font-size="6.5" text-anchor="start" font-weight="normal" font-style="italic" fill="#222" transform="rotate(0.1 442 103.3)">Ifnb</text>
<line x1="442.20" y1="116.40" x2="477.30" y2="116.40" stroke="#333" stroke-width="0.55"/>
<line x1="442.20" y1="115.10" x2="442.20" y2="117.70" stroke="#333" stroke-width="0.55"/>
<line x1="477.30" y1="115.10" x2="477.30" y2="117.70" stroke="#333" stroke-width="0.55"/>
<text x="460.15" y="116.0" font-size="6.2" text-anchor="middle" font-weight="bold" font-style="normal" fill="#222" transform="rotate(0.1 460.15 116.0)" letter-spacing="0.8">*</text>
<line x1="446.00" y1="122.80" x2="461.40" y2="122.80" stroke="#333" stroke-width="0.55"/>
<line x1="446.00" y1="121.50" x2="446.00" y2="124.10" stroke="#333" stroke-width="0.55"/>
<line x1="461.40" y1="121.50" x2="461.40" y2="124.10" stroke="#333" stroke-width="0.55"/>
<text x="454.09999999999997" y="122.39999999999999" font-size="6.2" text-anchor="middle" font-weight="bold" font-style="normal" fill="#222" transform="rotate(0.1 454.09999999999997 122.39999999999999)" letter-spacing="0.8">***</text>
<line x1="456.00" y1="177.80" x2="520.00" y2="177.80" stroke="#9a9a9a" stroke-width="0.6"/>
<text x="487.6" y="184.3" font-size="5.3" text-anchor="middle" font-weight="normal" font-style="normal" fill="#222" transform="rotate(0.1 487.6 184.3)">1 Gy</text>
<line x1="333.00" y1="205.90" x2="333.00" y2="256.50" stroke="#222" stroke-width="0.6"/>
<line x1="332.70" y1="256.20" x2="408.50" y2="256.20" stroke="#222" stroke-width="0.6"/>
<line x1="331.20" y1="256.20" x2="333.00" y2="256.20" stroke="#222" stroke-width="0.55"/>
<text x="330.8" y="258.64799999999997" font-size="6.8" text-anchor="end" font-weight="normal" font-style="normal" fill="#222" transform="rotate(0.1 330.8 258.64799999999997)">0</text>
<line x1="331.20" y1="246.20" x2="333.00" y2="246.20" stroke="#222" stroke-width="0.55"/>
<text x="330.8" y="248.648" font-size="6.8" text-anchor="end" font-weight="normal" font-style="normal" fill="#222" transform="rotate(0.1 330.8 248.648)">1</text>
<line x1="331.20" y1="236.20" x2="333.00" y2="236.20" stroke="#222" stroke-width="0.55"/>
<text x="330.8" y="238.648" font-size="6.8" text-anchor="end" font-weight="normal" font-style="normal" fill="#222" transform="rotate(0.1 330.8 238.648)">2</text>
<line x1="331.20" y1="226.20" x2="333.00" y2="226.20" stroke="#222" stroke-width="0.55"/>
<text x="330.8" y="228.648" font-size="6.8" text-anchor="end" font-weight="normal" font-style="normal" fill="#222" transform="rotate(0.1 330.8 228.648)">3</text>
<line x1="331.20" y1="216.20" x2="333.00" y2="216.20" stroke="#222" stroke-width="0.55"/>
<text x="330.8" y="218.648" font-size="6.8" text-anchor="end" font-weight="normal" font-style="normal" fill="#222" transform="rotate(0.1 330.8 218.648)">4</text>
<line x1="331.20" y1="206.20" x2="333.00" y2="206.20" stroke="#222" stroke-width="0.55"/>
<text x="330.8" y="208.648" font-size="6.8" text-anchor="end" font-weight="normal" font-style="normal" fill="#222" transform="rotate(0.1 330.8 208.648)">5</text>
<line x1="339.00" y1="256.20" x2="339.00" y2="257.80" stroke="#222" stroke-width="0.5"/>
<circle cx="336.80" cy="237.20" r="0.72" fill="#1a1a1a"/>
<circle cx="338.56" cy="240.20" r="0.72" fill="#1a1a1a"/>
<circle cx="340.32" cy="241.20" r="0.72" fill="#1a1a1a"/>
<circle cx="337.24" cy="241.70" r="0.72" fill="#1a1a1a"/>
<circle cx="339.00" cy="242.20" r="0.72" fill="#1a1a1a"/>
<circle cx="340.76" cy="242.70" r="0.72" fill="#1a1a1a"/>
<circle cx="337.68" cy="243.20" r="0.72" fill="#1a1a1a"/>
<circle cx="339.44" cy="244.20" r="0.72" fill="#1a1a1a"/>
<circle cx="341.20" cy="244.70" r="0.72" fill="#1a1a1a"/>
<line x1="334.50" y1="242.20" x2="343.50" y2="242.20" stroke="#111" stroke-width="0.9"/>
<line x1="339.00" y1="243.20" x2="339.00" y2="241.20" stroke="#111" stroke-width="0.55"/>
<line x1="336.50" y1="241.20" x2="341.50" y2="241.20" stroke="#111" stroke-width="0.6"/>
<line x1="336.50" y1="243.20" x2="341.50" y2="243.20" stroke="#111" stroke-width="0.6"/>
<text x="335.2" y="265.7" font-size="5.3" text-anchor="middle" font-weight="normal" font-style="normal" fill="#222" transform="rotate(0.1 335.2 265.7)">Control</text>
<line x1="354.70" y1="256.20" x2="354.70" y2="257.80" stroke="#222" stroke-width="0.5"/>
<circle cx="352.88" cy="213.20" r="0.72" fill="#1a1a1a"/>
<circle cx="354.34" cy="215.20" r="0.72" fill="#1a1a1a"/>
<circle cx="355.79" cy="235.20" r="0.72" fill="#1a1a1a"/>
<circle cx="353.24" cy="236.20" r="0.72" fill="#1a1a1a"/>
<circle cx="354.70" cy="243.20" r="0.72" fill="#1a1a1a"/>
<circle cx="356.16" cy="244.70" r="0.72" fill="#1a1a1a"/>
<line x1="350.20" y1="230.20" x2="359.20" y2="230.20" stroke="#111" stroke-width="0.9"/>
<line x1="354.70" y1="236.20" x2="354.70" y2="224.20" stroke="#111" stroke-width="0.55"/>
<line x1="352.20" y1="224.20" x2="357.20" y2="224.20" stroke="#111" stroke-width="0.6"/>
<line x1="352.20" y1="236.20" x2="357.20" y2="236.20" stroke="#111" stroke-width="0.6"/>
<text x="353.9" y="265.7" font-size="5.3" text-anchor="middle" font-weight="normal" font-style="normal" fill="#222" transform="rotate(0.1 353.9 265.7)">Day 1</text>
<line x1="370.00" y1="256.20" x2="370.00" y2="257.80" stroke="#222" stroke-width="0.5"/>
<circle cx="368.40" cy="230.20" r="0.72" fill="#1a1a1a"/>
<circle cx="369.68" cy="232.20" r="0.72" fill="#1a1a1a"/>
<circle cx="370.96" cy="237.20" r="0.72" fill="#1a1a1a"/>
<circle cx="368.72" cy="240.20" r="0.72" fill="#1a1a1a"/>
<circle cx="370.00" cy="243.20" r="0.72" fill="#1a1a1a"/>
<line x1="365.50" y1="237.20" x2="374.50" y2="237.20" stroke="#111" stroke-width="0.9"/>
<line x1="370.00" y1="239.70" x2="370.00" y2="234.70" stroke="#111" stroke-width="0.55"/>
<line x1="367.50" y1="234.70" x2="372.50" y2="234.70" stroke="#111" stroke-width="0.6"/>
<line x1="367.50" y1="239.70" x2="372.50" y2="239.70" stroke="#111" stroke-width="0.6"/>
<text x="370" y="265.7" font-size="5.3" text-anchor="middle" font-weight="normal" font-style="normal" fill="#222" transform="rotate(0.1 370 265.7)">Day 2</text>
<line x1="385.40" y1="256.20" x2="385.40" y2="257.80" stroke="#222" stroke-width="0.5"/>
<circle cx="384.02" cy="227.20" r="0.72" fill="#1a1a1a"/>
<circle cx="385.12" cy="238.20" r="0.72" fill="#1a1a1a"/>
<circle cx="386.23" cy="241.20" r="0.72" fill="#1a1a1a"/>
<circle cx="384.30" cy="242.20" r="0.72" fill="#1a1a1a"/>
<line x1="380.90" y1="238.70" x2="389.90" y2="238.70" stroke="#111" stroke-width="0.9"/>
<line x1="385.40" y1="241.70" x2="385.40" y2="235.70" stroke="#111" stroke-width="0.55"/>
<line x1="382.90" y1="235.70" x2="387.90" y2="235.70" stroke="#111" stroke-width="0.6"/>
<line x1="382.90" y1="241.70" x2="387.90" y2="241.70" stroke="#111" stroke-width="0.6"/>
<text x="386.2" y="265.7" font-size="5.3" text-anchor="middle" font-weight="normal" font-style="normal" fill="#222" transform="rotate(0.1 386.2 265.7)">Day 3</text>
<line x1="400.80" y1="256.20" x2="400.80" y2="257.80" stroke="#222" stroke-width="0.5"/>
<circle cx="398.60" cy="225.20" r="0.72" fill="#1a1a1a"/>
<circle cx="400.36" cy="230.20" r="0.72" fill="#1a1a1a"/>
<circle cx="402.12" cy="235.20" r="0.72" fill="#1a1a1a"/>
<circle cx="399.04" cy="237.20" r="0.72" fill="#1a1a1a"/>
<circle cx="400.80" cy="238.20" r="0.72" fill="#1a1a1a"/>
<circle cx="402.56" cy="241.20" r="0.72" fill="#1a1a1a"/>
<circle cx="399.48" cy="242.20" r="0.72" fill="#1a1a1a"/>
<circle cx="401.24" cy="246.20" r="0.72" fill="#1a1a1a"/>
<line x1="396.30" y1="237.20" x2="405.30" y2="237.20" stroke="#111" stroke-width="0.9"/>
<line x1="400.80" y1="239.20" x2="400.80" y2="235.20" stroke="#111" stroke-width="0.55"/>
<line x1="398.30" y1="235.20" x2="403.30" y2="235.20" stroke="#111" stroke-width="0.6"/>
<line x1="398.30" y1="239.20" x2="403.30" y2="239.20" stroke="#111" stroke-width="0.6"/>
<text x="402.7" y="265.7" font-size="5.3" text-anchor="middle" font-weight="normal" font-style="normal" fill="#222" transform="rotate(0.1 402.7 265.7)">Day 4</text>
<text x="333.7" y="195.8" font-size="5.4" text-anchor="start" font-weight="normal" font-style="italic" fill="#222" transform="rotate(0.1 333.7 195.8)">Ccl5</text>
<line x1="338.00" y1="202.70" x2="355.40" y2="202.70" stroke="#333" stroke-width="0.55"/>
<line x1="338.00" y1="201.40" x2="338.00" y2="204.00" stroke="#333" stroke-width="0.55"/>
<line x1="355.40" y1="201.40" x2="355.40" y2="204.00" stroke="#333" stroke-width="0.55"/>
<text x="347.09999999999997" y="202.29999999999998" font-size="6.2" text-anchor="middle" font-weight="bold" font-style="normal" fill="#222" transform="rotate(0.1 347.09999999999997 202.29999999999998)" letter-spacing="0.8">*</text>
<line x1="347.30" y1="267.80" x2="412.40" y2="267.80" stroke="#9a9a9a" stroke-width="0.6"/>
<text x="381.2" y="274.4" font-size="5.3" text-anchor="middle" font-weight="normal" font-style="normal" fill="#222" transform="rotate(0.1 381.2 274.4)">1 Gy</text>
<line x1="439.60" y1="205.40" x2="439.60" y2="256.60" stroke="#222" stroke-width="0.6"/>
<line x1="439.30" y1="256.30" x2="518.00" y2="256.30" stroke="#222" stroke-width="0.6"/>
<line x1="437.80" y1="256.30" x2="439.60" y2="256.30" stroke="#222" stroke-width="0.55"/>
<text x="437.40000000000003" y="258.748" font-size="6.8" text-anchor="end" font-weight="normal" font-style="normal" fill="#222" transform="rotate(0.1 437.40000000000003 258.748)">0</text>
<line x1="437.80" y1="243.65" x2="439.60" y2="243.65" stroke="#222" stroke-width="0.55"/>
<text x="437.40000000000003" y="246.098" font-size="6.8" text-anchor="end" font-weight="normal" font-style="normal" fill="#222" transform="rotate(0.1 437.40000000000003 246.098)">1</text>
<line x1="437.80" y1="231.00" x2="439.60" y2="231.00" stroke="#222" stroke-width="0.55"/>
<text x="437.40000000000003" y="233.448" font-size="6.8" text-anchor="end" font-weight="normal" font-style="normal" fill="#222" transform="rotate(0.1 437.40000000000003 233.448)">2</text>
<line x1="437.80" y1="218.35" x2="439.60" y2="218.35" stroke="#222" stroke-width="0.55"/>
<text x="437.40000000000003" y="220.798" font-size="6.8" text-anchor="end" font-weight="normal" font-style="normal" fill="#222" transform="rotate(0.1 437.40000000000003 220.798)">3</text>
<line x1="437.80" y1="205.70" x2="439.60" y2="205.70" stroke="#222" stroke-width="0.55"/>
<text x="437.40000000000003" y="208.148" font-size="6.8" text-anchor="end" font-weight="normal" font-style="normal" fill="#222" transform="rotate(0.1 437.40000000000003 208.148)">4</text>
<line x1="447.00" y1="256.30" x2="447.00" y2="257.90" stroke="#222" stroke-width="0.5"/>
<circle cx="444.80" cy="234.16" r="0.72" fill="#1a1a1a"/>
<circle cx="446.56" cy="235.43" r="0.72" fill="#1a1a1a"/>
<circle cx="448.32" cy="241.12" r="0.72" fill="#1a1a1a"/>
<circle cx="445.24" cy="242.38" r="0.72" fill="#1a1a1a"/>
<circle cx="447.00" cy="243.02" r="0.72" fill="#1a1a1a"/>
<circle cx="448.76" cy="243.65" r="0.72" fill="#1a1a1a"/>
<circle cx="445.68" cy="244.28" r="0.72" fill="#1a1a1a"/>
<circle cx="447.44" cy="244.92" r="0.72" fill="#1a1a1a"/>
<circle cx="449.20" cy="248.71" r="0.72" fill="#1a1a1a"/>
<circle cx="446.12" cy="250.61" r="0.72" fill="#1a1a1a"/>
<circle cx="447.88" cy="251.87" r="0.72" fill="#1a1a1a"/>
<line x1="442.50" y1="243.02" x2="451.50" y2="243.02" stroke="#111" stroke-width="0.9"/>
<line x1="447.00" y1="244.54" x2="447.00" y2="241.50" stroke="#111" stroke-width="0.55"/>
<line x1="444.50" y1="241.50" x2="449.50" y2="241.50" stroke="#111" stroke-width="0.6"/>
<line x1="444.50" y1="244.54" x2="449.50" y2="244.54" stroke="#111" stroke-width="0.6"/>
<text x="442.6" y="265.9" font-size="5.3" text-anchor="middle" font-weight="normal" font-style="normal" fill="#222" transform="rotate(0.1 442.6 265.9)">Control</text>
<line x1="461.80" y1="256.30" x2="461.80" y2="257.90" stroke="#222" stroke-width="0.5"/>
<circle cx="459.60" cy="205.70" r="0.72" fill="#1a1a1a"/>
<circle cx="461.36" cy="209.50" r="0.72" fill="#1a1a1a"/>
<circle cx="463.12" cy="225.94" r="0.72" fill="#1a1a1a"/>
<circle cx="460.04" cy="227.21" r="0.72" fill="#1a1a1a"/>
<circle cx="461.80" cy="229.74" r="0.72" fill="#1a1a1a"/>
<circle cx="463.56" cy="232.26" r="0.72" fill="#1a1a1a"/>
<circle cx="460.48" cy="234.80" r="0.72" fill="#1a1a1a"/>
<circle cx="462.24" cy="241.12" r="0.72" fill="#1a1a1a"/>
<circle cx="464.00" cy="250.61" r="0.72" fill="#1a1a1a"/>
<line x1="457.30" y1="229.10" x2="466.30" y2="229.10" stroke="#111" stroke-width="0.9"/>
<line x1="461.80" y1="232.90" x2="461.80" y2="225.31" stroke="#111" stroke-width="0.55"/>
<line x1="459.30" y1="225.31" x2="464.30" y2="225.31" stroke="#111" stroke-width="0.6"/>
<line x1="459.30" y1="232.90" x2="464.30" y2="232.90" stroke="#111" stroke-width="0.6"/>
<text x="461" y="265.9" font-size="5.3" text-anchor="middle" font-weight="normal" font-style="normal" fill="#222" transform="rotate(0.1 461 265.9)">Day 1</text>
<line x1="477.70" y1="256.30" x2="477.70" y2="257.90" stroke="#222" stroke-width="0.5"/>
<circle cx="476.10" cy="221.51" r="0.72" fill="#1a1a1a"/>
<circle cx="477.38" cy="237.32" r="0.72" fill="#1a1a1a"/>
<circle cx="478.66" cy="241.12" r="0.72" fill="#1a1a1a"/>
<circle cx="476.42" cy="244.28" r="0.72" fill="#1a1a1a"/>
<circle cx="477.70" cy="252.50" r="0.72" fill="#1a1a1a"/>
<line x1="473.20" y1="239.86" x2="482.20" y2="239.86" stroke="#111" stroke-width="0.9"/>
<line x1="477.70" y1="243.65" x2="477.70" y2="236.06" stroke="#111" stroke-width="0.55"/>
<line x1="475.20" y1="236.06" x2="480.20" y2="236.06" stroke="#111" stroke-width="0.6"/>
<line x1="475.20" y1="243.65" x2="480.20" y2="243.65" stroke="#111" stroke-width="0.6"/>
<text x="476.8" y="265.9" font-size="5.3" text-anchor="middle" font-weight="normal" font-style="normal" fill="#222" transform="rotate(0.1 476.8 265.9)">Day 2</text>
<line x1="493.60" y1="256.30" x2="493.60" y2="257.90" stroke="#222" stroke-width="0.5"/>
<circle cx="492.22" cy="231.00" r="0.72" fill="#1a1a1a"/>
<circle cx="493.32" cy="242.38" r="0.72" fill="#1a1a1a"/>
<circle cx="494.43" cy="243.65" r="0.72" fill="#1a1a1a"/>
<circle cx="492.50" cy="246.18" r="0.72" fill="#1a1a1a"/>
<line x1="489.10" y1="242.38" x2="498.10" y2="242.38" stroke="#111" stroke-width="0.9"/>
<line x1="493.60" y1="244.66" x2="493.60" y2="240.11" stroke="#111" stroke-width="0.55"/>
<line x1="491.10" y1="240.11" x2="496.10" y2="240.11" stroke="#111" stroke-width="0.6"/>
<line x1="491.10" y1="244.66" x2="496.10" y2="244.66" stroke="#111" stroke-width="0.6"/>
<text x="493" y="265.9" font-size="5.3" text-anchor="middle" font-weight="normal" font-style="normal" fill="#222" transform="rotate(0.1 493 265.9)">Day 3</text>
<line x1="508.40" y1="256.30" x2="508.40" y2="257.90" stroke="#222" stroke-width="0.5"/>
<circle cx="506.80" cy="236.06" r="0.72" fill="#1a1a1a"/>
<circle cx="508.08" cy="238.59" r="0.72" fill="#1a1a1a"/>
<circle cx="509.36" cy="243.02" r="0.72" fill="#1a1a1a"/>
<circle cx="507.12" cy="244.92" r="0.72" fill="#1a1a1a"/>
<circle cx="508.40" cy="248.71" r="0.72" fill="#1a1a1a"/>
<line x1="503.90" y1="242.38" x2="512.90" y2="242.38" stroke="#111" stroke-width="0.9"/>
<line x1="508.40" y1="244.28" x2="508.40" y2="240.49" stroke="#111" stroke-width="0.55"/>
<line x1="505.90" y1="240.49" x2="510.90" y2="240.49" stroke="#111" stroke-width="0.6"/>
<line x1="505.90" y1="244.28" x2="510.90" y2="244.28" stroke="#111" stroke-width="0.6"/>
<text x="509.8" y="265.9" font-size="5.3" text-anchor="middle" font-weight="normal" font-style="normal" fill="#222" transform="rotate(0.1 509.8 265.9)">Day 4</text>
<text x="441.7" y="196" font-size="5.4" text-anchor="start" font-weight="normal" font-style="italic" fill="#222" transform="rotate(0.1 441.7 196)">Cxcl9</text>
<line x1="445.50" y1="203.00" x2="461.80" y2="203.00" stroke="#333" stroke-width="0.55"/>
<line x1="445.50" y1="201.70" x2="445.50" y2="204.30" stroke="#333" stroke-width="0.55"/>
<line x1="461.80" y1="201.70" x2="461.80" y2="204.30" stroke="#333" stroke-width="0.55"/>
<text x="454.04999999999995" y="202.6" font-size="6.2" text-anchor="middle" font-weight="bold" font-style="normal" fill="#222" transform="rotate(0.1 454.04999999999995 202.6)" letter-spacing="0.8">*</text>
<line x1="456.00" y1="268.60" x2="520.00" y2="268.60" stroke="#9a9a9a" stroke-width="0.6"/>
<text x="488.7" y="274.3" font-size="5.3" text-anchor="middle" font-weight="normal" font-style="normal" fill="#222" transform="rotate(0.1 488.7 274.3)">1 Gy</text>
<line x1="331.00" y1="292.10" x2="331.00" y2="344.10" stroke="#222" stroke-width="0.6"/>
<line x1="330.70" y1="343.80" x2="406.00" y2="343.80" stroke="#222" stroke-width="0.6"/>
<line x1="329.20" y1="343.80" x2="331.00" y2="343.80" stroke="#222" stroke-width="0.55"/>
<text x="328.8" y="346.248" font-size="6.8" text-anchor="end" font-weight="normal" font-style="normal" fill="#222" transform="rotate(0.1 328.8 346.248)">0</text>
<line x1="329.20" y1="326.67" x2="331.00" y2="326.67" stroke="#222" stroke-width="0.55"/>
<text x="328.8" y="329.11466666666666" font-size="6.8" text-anchor="end" font-weight="normal" font-style="normal" fill="#222" transform="rotate(0.1 328.8 329.11466666666666)">1</text>
<line x1="329.20" y1="309.53" x2="331.00" y2="309.53" stroke="#222" stroke-width="0.55"/>
<text x="328.8" y="311.9813333333333" font-size="6.8" text-anchor="end" font-weight="normal" font-style="normal" fill="#222" transform="rotate(0.1 328.8 311.9813333333333)">2</text>
<line x1="329.20" y1="292.40" x2="331.00" y2="292.40" stroke="#222" stroke-width="0.55"/>
<text x="328.8" y="294.84799999999996" font-size="6.8" text-anchor="end" font-weight="normal" font-style="normal" fill="#222" transform="rotate(0.1 328.8 294.84799999999996)">3</text>
<line x1="339.20" y1="343.80" x2="339.20" y2="345.40" stroke="#222" stroke-width="0.5"/>
<circle cx="337.00" cy="317.24" r="0.72" fill="#1a1a1a"/>
<circle cx="338.76" cy="318.96" r="0.72" fill="#1a1a1a"/>
<circle cx="340.52" cy="319.81" r="0.72" fill="#1a1a1a"/>
<circle cx="337.44" cy="320.67" r="0.72" fill="#1a1a1a"/>
<circle cx="339.20" cy="321.53" r="0.72" fill="#1a1a1a"/>
<circle cx="340.96" cy="321.53" r="0.72" fill="#1a1a1a"/>
<circle cx="337.88" cy="322.38" r="0.72" fill="#1a1a1a"/>
<circle cx="339.64" cy="323.24" r="0.72" fill="#1a1a1a"/>
<circle cx="341.40" cy="325.81" r="0.72" fill="#1a1a1a"/>
<circle cx="338.32" cy="326.67" r="0.72" fill="#1a1a1a"/>
<line x1="334.70" y1="321.53" x2="343.70" y2="321.53" stroke="#111" stroke-width="0.9"/>
<line x1="339.20" y1="322.38" x2="339.20" y2="320.67" stroke="#111" stroke-width="0.55"/>
<line x1="336.70" y1="320.67" x2="341.70" y2="320.67" stroke="#111" stroke-width="0.6"/>
<line x1="336.70" y1="322.38" x2="341.70" y2="322.38" stroke="#111" stroke-width="0.6"/>
<text x="333.5" y="353.1" font-size="5.3" text-anchor="middle" font-weight="normal" font-style="normal" fill="#222" transform="rotate(0.1 333.5 353.1)">Control</text>
<line x1="354.70" y1="343.80" x2="354.70" y2="345.40" stroke="#222" stroke-width="0.5"/>
<circle cx="352.50" cy="310.39" r="0.72" fill="#1a1a1a"/>
<circle cx="354.26" cy="311.25" r="0.72" fill="#1a1a1a"/>
<circle cx="356.02" cy="312.96" r="0.72" fill="#1a1a1a"/>
<circle cx="352.94" cy="314.67" r="0.72" fill="#1a1a1a"/>
<circle cx="354.70" cy="315.53" r="0.72" fill="#1a1a1a"/>
<circle cx="356.46" cy="318.10" r="0.72" fill="#1a1a1a"/>
<circle cx="353.38" cy="322.38" r="0.72" fill="#1a1a1a"/>
<circle cx="355.14" cy="323.24" r="0.72" fill="#1a1a1a"/>
<line x1="350.20" y1="314.67" x2="359.20" y2="314.67" stroke="#111" stroke-width="0.9"/>
<line x1="354.70" y1="316.04" x2="354.70" y2="313.30" stroke="#111" stroke-width="0.55"/>
<line x1="352.20" y1="313.30" x2="357.20" y2="313.30" stroke="#111" stroke-width="0.6"/>
<line x1="352.20" y1="316.04" x2="357.20" y2="316.04" stroke="#111" stroke-width="0.6"/>
<text x="352.8" y="353.1" font-size="5.3" text-anchor="middle" font-weight="normal" font-style="normal" fill="#222" transform="rotate(0.1 352.8 353.1)">Day 1</text>
<line x1="369.20" y1="343.80" x2="369.20" y2="345.40" stroke="#222" stroke-width="0.5"/>
<circle cx="367.38" cy="300.97" r="0.72" fill="#1a1a1a"/>
<circle cx="368.84" cy="306.11" r="0.72" fill="#1a1a1a"/>
<circle cx="370.29" cy="311.25" r="0.72" fill="#1a1a1a"/>
<circle cx="367.74" cy="318.10" r="0.72" fill="#1a1a1a"/>
<circle cx="369.20" cy="319.81" r="0.72" fill="#1a1a1a"/>
<circle cx="370.66" cy="324.95" r="0.72" fill="#1a1a1a"/>
<line x1="364.70" y1="314.67" x2="373.70" y2="314.67" stroke="#111" stroke-width="0.9"/>
<line x1="369.20" y1="317.59" x2="369.20" y2="311.76" stroke="#111" stroke-width="0.55"/>
<line x1="366.70" y1="311.76" x2="371.70" y2="311.76" stroke="#111" stroke-width="0.6"/>
<line x1="366.70" y1="317.59" x2="371.70" y2="317.59" stroke="#111" stroke-width="0.6"/>
<text x="368.7" y="353.1" font-size="5.3" text-anchor="middle" font-weight="normal" font-style="normal" fill="#222" transform="rotate(0.1 368.7 353.1)">Day 2</text>
<line x1="384.70" y1="343.80" x2="384.70" y2="345.40" stroke="#222" stroke-width="0.5"/>
<circle cx="382.66" cy="310.39" r="0.72" fill="#1a1a1a"/>
<circle cx="384.29" cy="311.25" r="0.72" fill="#1a1a1a"/>
<circle cx="385.92" cy="312.10" r="0.72" fill="#1a1a1a"/>
<circle cx="383.07" cy="312.96" r="0.72" fill="#1a1a1a"/>
<circle cx="384.70" cy="313.82" r="0.72" fill="#1a1a1a"/>
<circle cx="386.33" cy="318.10" r="0.72" fill="#1a1a1a"/>
<circle cx="383.48" cy="321.53" r="0.72" fill="#1a1a1a"/>
<line x1="380.20" y1="313.30" x2="389.20" y2="313.30" stroke="#111" stroke-width="0.9"/>
<line x1="384.70" y1="314.33" x2="384.70" y2="312.27" stroke="#111" stroke-width="0.55"/>
<line x1="382.20" y1="312.27" x2="387.20" y2="312.27" stroke="#111" stroke-width="0.6"/>
<line x1="382.20" y1="314.33" x2="387.20" y2="314.33" stroke="#111" stroke-width="0.6"/>
<text x="384.8" y="353.1" font-size="5.3" text-anchor="middle" font-weight="normal" font-style="normal" fill="#222" transform="rotate(0.1 384.8 353.1)">Day 3</text>
<line x1="399.20" y1="343.80" x2="399.20" y2="345.40" stroke="#222" stroke-width="0.5"/>
<circle cx="397.00" cy="307.82" r="0.72" fill="#1a1a1a"/>
<circle cx="398.76" cy="312.96" r="0.72" fill="#1a1a1a"/>
<circle cx="400.52" cy="313.82" r="0.72" fill="#1a1a1a"/>
<circle cx="397.44" cy="319.81" r="0.72" fill="#1a1a1a"/>
<circle cx="399.20" cy="323.24" r="0.72" fill="#1a1a1a"/>
<circle cx="400.96" cy="326.67" r="0.72" fill="#1a1a1a"/>
<circle cx="397.88" cy="329.24" r="0.72" fill="#1a1a1a"/>
<circle cx="399.64" cy="330.09" r="0.72" fill="#1a1a1a"/>
<line x1="394.70" y1="320.16" x2="403.70" y2="320.16" stroke="#111" stroke-width="0.9"/>
<line x1="399.20" y1="322.73" x2="399.20" y2="317.59" stroke="#111" stroke-width="0.55"/>
<line x1="396.70" y1="317.59" x2="401.70" y2="317.59" stroke="#111" stroke-width="0.6"/>
<line x1="396.70" y1="322.73" x2="401.70" y2="322.73" stroke="#111" stroke-width="0.6"/>
<text x="400.4" y="353.1" font-size="5.3" text-anchor="middle" font-weight="normal" font-style="normal" fill="#222" transform="rotate(0.1 400.4 353.1)">Day 4</text>
<text x="334.2" y="283.2" font-size="5.4" text-anchor="start" font-weight="normal" font-style="italic" fill="#222" transform="rotate(0.1 334.2 283.2)">Cxcl1</text>
<line x1="337.00" y1="293.00" x2="356.00" y2="293.00" stroke="#333" stroke-width="0.55"/>
<line x1="337.00" y1="291.70" x2="337.00" y2="294.30" stroke="#333" stroke-width="0.55"/>
<line x1="356.00" y1="291.70" x2="356.00" y2="294.30" stroke="#333" stroke-width="0.55"/>
<text x="346.9" y="292.6" font-size="6.2" text-anchor="middle" font-weight="bold" font-style="normal" fill="#222" transform="rotate(0.1 346.9 292.6)" letter-spacing="0.8">**</text>
<line x1="346.20" y1="356.00" x2="409.20" y2="356.00" stroke="#9a9a9a" stroke-width="0.6"/>
<text x="378" y="362.4" font-size="5.3" text-anchor="middle" font-weight="normal" font-style="normal" fill="#222" transform="rotate(0.1 378 362.4)">1 Gy</text>
<line x1="439.60" y1="293.00" x2="439.60" y2="344.30" stroke="#222" stroke-width="0.6"/>
<line x1="439.30" y1="344.00" x2="514.70" y2="344.00" stroke="#222" stroke-width="0.6"/>
<line x1="437.80" y1="344.00" x2="439.60" y2="344.00" stroke="#222" stroke-width="0.55"/>
<text x="437.40000000000003" y="346.448" font-size="6.8" text-anchor="end" font-weight="normal" font-style="normal" fill="#222" transform="rotate(0.1 437.40000000000003 346.448)">0</text>
<line x1="437.80" y1="327.10" x2="439.60" y2="327.10" stroke="#222" stroke-width="0.55"/>
<text x="437.40000000000003" y="329.548" font-size="6.8" text-anchor="end" font-weight="normal" font-style="normal" fill="#222" transform="rotate(0.1 437.40000000000003 329.548)">2</text>
<line x1="437.80" y1="310.20" x2="439.60" y2="310.20" stroke="#222" stroke-width="0.55"/>
<text x="437.40000000000003" y="312.64799999999997" font-size="6.8" text-anchor="end" font-weight="normal" font-style="normal" fill="#222" transform="rotate(0.1 437.40000000000003 312.64799999999997)">4</text>
<line x1="437.80" y1="293.30" x2="439.60" y2="293.30" stroke="#222" stroke-width="0.55"/>
<text x="437.40000000000003" y="295.748" font-size="6.8" text-anchor="end" font-weight="normal" font-style="normal" fill="#222" transform="rotate(0.1 437.40000000000003 295.748)">6</text>
<line x1="448.00" y1="344.00" x2="448.00" y2="345.60" stroke="#222" stroke-width="0.5"/>
<circle cx="445.80" cy="326.25" r="0.72" fill="#1a1a1a"/>
<circle cx="447.56" cy="330.48" r="0.72" fill="#1a1a1a"/>
<circle cx="449.32" cy="331.32" r="0.72" fill="#1a1a1a"/>
<circle cx="446.24" cy="332.17" r="0.72" fill="#1a1a1a"/>
<circle cx="448.00" cy="332.59" r="0.72" fill="#1a1a1a"/>
<circle cx="449.76" cy="333.01" r="0.72" fill="#1a1a1a"/>
<circle cx="446.68" cy="335.55" r="0.72" fill="#1a1a1a"/>
<circle cx="448.44" cy="335.97" r="0.72" fill="#1a1a1a"/>
<line x1="443.50" y1="332.17" x2="452.50" y2="332.17" stroke="#111" stroke-width="0.9"/>
<line x1="448.00" y1="333.01" x2="448.00" y2="331.32" stroke="#111" stroke-width="0.55"/>
<line x1="445.50" y1="331.32" x2="450.50" y2="331.32" stroke="#111" stroke-width="0.6"/>
<line x1="445.50" y1="333.01" x2="450.50" y2="333.01" stroke="#111" stroke-width="0.6"/>
<text x="442.8" y="352.7" font-size="5.3" text-anchor="middle" font-weight="normal" font-style="normal" fill="#222" transform="rotate(0.1 442.8 352.7)">Control</text>
<line x1="462.90" y1="344.00" x2="462.90" y2="345.60" stroke="#222" stroke-width="0.5"/>
<circle cx="460.70" cy="301.75" r="0.72" fill="#1a1a1a"/>
<circle cx="462.46" cy="315.27" r="0.72" fill="#1a1a1a"/>
<circle cx="464.22" cy="316.12" r="0.72" fill="#1a1a1a"/>
<circle cx="461.14" cy="324.56" r="0.72" fill="#1a1a1a"/>
<circle cx="462.90" cy="329.63" r="0.72" fill="#1a1a1a"/>
<circle cx="464.66" cy="330.48" r="0.72" fill="#1a1a1a"/>
<circle cx="461.58" cy="331.32" r="0.72" fill="#1a1a1a"/>
<circle cx="463.34" cy="333.01" r="0.72" fill="#1a1a1a"/>
<line x1="458.40" y1="322.45" x2="467.40" y2="322.45" stroke="#111" stroke-width="0.9"/>
<line x1="462.90" y1="325.83" x2="462.90" y2="319.07" stroke="#111" stroke-width="0.55"/>
<line x1="460.40" y1="319.07" x2="465.40" y2="319.07" stroke="#111" stroke-width="0.6"/>
<line x1="460.40" y1="325.83" x2="465.40" y2="325.83" stroke="#111" stroke-width="0.6"/>
<text x="461" y="352.7" font-size="5.3" text-anchor="middle" font-weight="normal" font-style="normal" fill="#222" transform="rotate(0.1 461 352.7)">Day 1</text>
<line x1="478.10" y1="344.00" x2="478.10" y2="345.60" stroke="#222" stroke-width="0.5"/>
<circle cx="476.06" cy="294.99" r="0.72" fill="#1a1a1a"/>
<circle cx="477.69" cy="317.81" r="0.72" fill="#1a1a1a"/>
<circle cx="479.32" cy="321.19" r="0.72" fill="#1a1a1a"/>
<circle cx="476.47" cy="329.63" r="0.72" fill="#1a1a1a"/>
<circle cx="478.10" cy="331.32" r="0.72" fill="#1a1a1a"/>
<circle cx="479.73" cy="333.01" r="0.72" fill="#1a1a1a"/>
<circle cx="476.88" cy="341.04" r="0.72" fill="#1a1a1a"/>
<line x1="473.60" y1="325.83" x2="482.60" y2="325.83" stroke="#111" stroke-width="0.9"/>
<line x1="478.10" y1="330.06" x2="478.10" y2="321.61" stroke="#111" stroke-width="0.55"/>
<line x1="475.60" y1="321.61" x2="480.60" y2="321.61" stroke="#111" stroke-width="0.6"/>
<line x1="475.60" y1="330.06" x2="480.60" y2="330.06" stroke="#111" stroke-width="0.6"/>
<text x="477" y="352.7" font-size="5.3" text-anchor="middle" font-weight="normal" font-style="normal" fill="#222" transform="rotate(0.1 477 352.7)">Day 2</text>
<line x1="492.90" y1="344.00" x2="492.90" y2="345.60" stroke="#222" stroke-width="0.5"/>
<circle cx="490.86" cy="314.43" r="0.72" fill="#1a1a1a"/>
<circle cx="492.49" cy="329.63" r="0.72" fill="#1a1a1a"/>
<circle cx="494.12" cy="331.32" r="0.72" fill="#1a1a1a"/>
<circle cx="491.27" cy="333.01" r="0.72" fill="#1a1a1a"/>
<circle cx="492.90" cy="334.70" r="0.72" fill="#1a1a1a"/>
<circle cx="494.53" cy="336.39" r="0.72" fill="#1a1a1a"/>
<circle cx="491.68" cy="338.93" r="0.72" fill="#1a1a1a"/>
<line x1="488.40" y1="332.17" x2="497.40" y2="332.17" stroke="#111" stroke-width="0.9"/>
<line x1="492.90" y1="334.70" x2="492.90" y2="329.63" stroke="#111" stroke-width="0.55"/>
<line x1="490.40" y1="329.63" x2="495.40" y2="329.63" stroke="#111" stroke-width="0.6"/>
<line x1="490.40" y1="334.70" x2="495.40" y2="334.70" stroke="#111" stroke-width="0.6"/>
<text x="493.2" y="352.7" font-size="5.3" text-anchor="middle" font-weight="normal" font-style="normal" fill="#222" transform="rotate(0.1 493.2 352.7)">Day 3</text>
<line x1="507.70" y1="344.00" x2="507.70" y2="345.60" stroke="#222" stroke-width="0.5"/>
<circle cx="505.50" cy="322.03" r="0.72" fill="#1a1a1a"/>
<circle cx="507.26" cy="324.56" r="0.72" fill="#1a1a1a"/>
<circle cx="509.02" cy="327.10" r="0.72" fill="#1a1a1a"/>
<circle cx="505.94" cy="330.48" r="0.72" fill="#1a1a1a"/>
<circle cx="507.70" cy="332.17" r="0.72" fill="#1a1a1a"/>
<circle cx="509.46" cy="333.86" r="0.72" fill="#1a1a1a"/>
<circle cx="506.38" cy="336.39" r="0.72" fill="#1a1a1a"/>
<circle cx="508.14" cy="341.46" r="0.72" fill="#1a1a1a"/>
<line x1="503.20" y1="331.32" x2="512.20" y2="331.32" stroke="#111" stroke-width="0.9"/>
<line x1="507.70" y1="333.44" x2="507.70" y2="329.21" stroke="#111" stroke-width="0.55"/>
<line x1="505.20" y1="329.21" x2="510.20" y2="329.21" stroke="#111" stroke-width="0.6"/>
<line x1="505.20" y1="333.44" x2="510.20" y2="333.44" stroke="#111" stroke-width="0.6"/>
<text x="509.8" y="352.7" font-size="5.3" text-anchor="middle" font-weight="normal" font-style="normal" fill="#222" transform="rotate(0.1 509.8 352.7)">Day 4</text>
<text x="441.7" y="282.7" font-size="5.4" text-anchor="start" font-weight="normal" font-style="italic" fill="#222" transform="rotate(0.1 441.7 282.7)">Xcl1</text>
<line x1="443.80" y1="292.80" x2="461.40" y2="292.80" stroke="#333" stroke-width="0.55"/>
<line x1="443.80" y1="291.50" x2="443.80" y2="294.10" stroke="#333" stroke-width="0.55"/>
<line x1="461.40" y1="291.50" x2="461.40" y2="294.10" stroke="#333" stroke-width="0.55"/>
<text x="453.0" y="292.40000000000003" font-size="6.2" text-anchor="middle" font-weight="bold" font-style="normal" fill="#222" transform="rotate(0.1 453.0 292.40000000000003)" letter-spacing="0.8">**</text>
<line x1="456.10" y1="357.00" x2="520.00" y2="357.00" stroke="#9a9a9a" stroke-width="0.6"/>
<text x="487.2" y="364" font-size="5.3" text-anchor="middle" font-weight="normal" font-style="normal" fill="#222" transform="rotate(0.1 487.2 364)">1 Gy</text>
<rect x="20.00" y="418.40" width="31.20" height="4.20" fill="#1b5aae"/>
<line x1="27.80" y1="418.40" x2="27.80" y2="422.60" stroke="#0e3a7a" stroke-width="0.4"/>
<line x1="35.60" y1="418.40" x2="35.60" y2="422.60" stroke="#0e3a7a" stroke-width="0.4"/>
<line x1="43.40" y1="418.40" x2="43.40" y2="422.60" stroke="#0e3a7a" stroke-width="0.4"/>
<rect x="52.45" y="418.60" width="7.30" height="3.80" fill="#f6a828" stroke="#7a5410" stroke-width="0.45"/>
<rect x="60.25" y="418.60" width="7.30" height="3.80" fill="#f6a828" stroke="#7a5410" stroke-width="0.45"/>
<rect x="68.05" y="418.60" width="7.30" height="3.80" fill="#f6a828" stroke="#7a5410" stroke-width="0.45"/>
<rect x="75.85" y="418.60" width="7.30" height="3.80" fill="#f6a828" stroke="#7a5410" stroke-width="0.45"/>
<rect x="83.65" y="418.60" width="7.30" height="3.80" fill="#f6a828" stroke="#7a5410" stroke-width="0.45"/>
<rect x="14.00" y="423.80" width="4.80" height="6.16" fill="#0c5a34" stroke="#444" stroke-width="0.26"/>
<rect x="20.00" y="423.80" width="7.80" height="6.16" fill="#86c0ee" stroke="#0d1a3a" stroke-width="0.26"/>
<rect x="27.80" y="423.80" width="7.80" height="6.16" fill="#66ace6" stroke="#0d1a3a" stroke-width="0.26"/>
<rect x="35.60" y="423.80" width="7.80" height="6.16" fill="#86c0ee" stroke="#0d1a3a" stroke-width="0.26"/>
<rect x="43.40" y="423.80" width="7.80" height="6.16" fill="#86c0ee" stroke="#0d1a3a" stroke-width="0.26"/>
<rect x="52.20" y="423.80" width="7.80" height="6.16" fill="#f08c92" stroke="#0d1a3a" stroke-width="0.26"/>
<rect x="60.00" y="423.80" width="7.80" height="6.16" fill="#f08c92" stroke="#0d1a3a" stroke-width="0.26"/>
<rect x="67.80" y="423.80" width="7.80" height="6.16" fill="#de2433" stroke="#0d1a3a" stroke-width="0.26"/>
<rect x="75.60" y="423.80" width="7.80" height="6.16" fill="#de2433" stroke="#0d1a3a" stroke-width="0.26"/>
<rect x="83.40" y="423.80" width="7.80" height="6.16" fill="#e4404c" stroke="#0d1a3a" stroke-width="0.26"/>
<text x="93.2" y="428.86" font-size="5.5" text-anchor="start" font-weight="normal" font-style="normal" fill="#222" transform="rotate(0.1 93.2 428.86)">B cells</text>
<rect x="14.00" y="429.96" width="4.80" height="6.16" fill="#0c5a34" stroke="#444" stroke-width="0.26"/>
<rect x="20.00" y="429.96" width="7.80" height="6.16" fill="#66ace6" stroke="#0d1a3a" stroke-width="0.26"/>
<rect x="27.80" y="429.96" width="7.80" height="6.16" fill="#66ace6" stroke="#0d1a3a" stroke-width="0.26"/>
<rect x="35.60" y="429.96" width="7.80" height="6.16" fill="#66ace6" stroke="#0d1a3a" stroke-width="0.26"/>
<rect x="43.40" y="429.96" width="7.80" height="6.16" fill="#66ace6" stroke="#0d1a3a" stroke-width="0.26"/>
<rect x="52.20" y="429.96" width="7.80" height="6.16" fill="#e4404c" stroke="#0d1a3a" stroke-width="0.26"/>
<rect x="60.00" y="429.96" width="7.80" height="6.16" fill="#ea636c" stroke="#0d1a3a" stroke-width="0.26"/>
<rect x="67.80" y="429.96" width="7.80" height="6.16" fill="#de2433" stroke="#0d1a3a" stroke-width="0.26"/>
<rect x="75.60" y="429.96" width="7.80" height="6.16" fill="#ea636c" stroke="#0d1a3a" stroke-width="0.26"/>
<rect x="83.40" y="429.96" width="7.80" height="6.16" fill="#e4404c" stroke="#0d1a3a" stroke-width="0.26"/>
<text x="93.2" y="435.02000000000004" font-size="5.5" text-anchor="start" font-weight="normal" font-style="normal" fill="#222" transform="rotate(0.1 93.2 435.02000000000004)">Dendritic cells</text>
<rect x="14.00" y="436.12" width="4.80" height="6.16" fill="#0c5a34" stroke="#444" stroke-width="0.26"/>
<rect x="20.00" y="436.12" width="7.80" height="6.16" fill="#66ace6" stroke="#0d1a3a" stroke-width="0.26"/>
<rect x="27.80" y="436.12" width="7.80" height="6.16" fill="#66ace6" stroke="#0d1a3a" stroke-width="0.26"/>
<rect x="35.60" y="436.12" width="7.80" height="6.16" fill="#66ace6" stroke="#0d1a3a" stroke-width="0.26"/>
<rect x="43.40" y="436.12" width="7.80" height="6.16" fill="#86c0ee" stroke="#0d1a3a" stroke-width="0.26"/>
<rect x="52.20" y="436.12" width="7.80" height="6.16" fill="#f6b4b7" stroke="#0d1a3a" stroke-width="0.26"/>
<rect x="60.00" y="436.12" width="7.80" height="6.16" fill="#ea636c" stroke="#0d1a3a" stroke-width="0.26"/>
<rect x="67.80" y="436.12" width="7.80" height="6.16" fill="#de2433" stroke="#0d1a3a" stroke-width="0.26"/>
<rect x="75.60" y="436.12" width="7.80" height="6.16" fill="#e4404c" stroke="#0d1a3a" stroke-width="0.26"/>
<rect x="83.40" y="436.12" width="7.80" height="6.16" fill="#de2433" stroke="#0d1a3a" stroke-width="0.26"/>
<text x="93.2" y="441.18" font-size="5.5" text-anchor="start" font-weight="normal" font-style="normal" fill="#222" transform="rotate(0.1 93.2 441.18)">NK cells</text>
<rect x="14.00" y="442.28" width="4.80" height="6.16" fill="#0c5a34" stroke="#444" stroke-width="0.26"/>
<rect x="20.00" y="442.28" width="7.80" height="6.16" fill="#66ace6" stroke="#0d1a3a" stroke-width="0.26"/>
<rect x="27.80" y="442.28" width="7.80" height="6.16" fill="#66ace6" stroke="#0d1a3a" stroke-width="0.26"/>
<rect x="35.60" y="442.28" width="7.80" height="6.16" fill="#86c0ee" stroke="#0d1a3a" stroke-width="0.26"/>
<rect x="43.40" y="442.28" width="7.80" height="6.16" fill="#66ace6" stroke="#0d1a3a" stroke-width="0.26"/>
<rect x="52.20" y="442.28" width="7.80" height="6.16" fill="#f08c92" stroke="#0d1a3a" stroke-width="0.26"/>
<rect x="60.00" y="442.28" width="7.80" height="6.16" fill="#f08c92" stroke="#0d1a3a" stroke-width="0.26"/>
<rect x="67.80" y="442.28" width="7.80" height="6.16" fill="#de2433" stroke="#0d1a3a" stroke-width="0.26"/>
<rect x="75.60" y="442.28" width="7.80" height="6.16" fill="#de2433" stroke="#0d1a3a" stroke-width="0.26"/>
<rect x="83.40" y="442.28" width="7.80" height="6.16" fill="#de2433" stroke="#0d1a3a" stroke-width="0.26"/>
<text x="93.2" y="447.34000000000003" font-size="5.5" text-anchor="start" font-weight="normal" font-style="normal" fill="#222" transform="rotate(0.1 93.2 447.34000000000003)">T cells</text>
<rect x="14.00" y="448.44" width="4.80" height="6.16" fill="#0c5a34" stroke="#444" stroke-width="0.26"/>
<rect x="20.00" y="448.44" width="7.80" height="6.16" fill="#66ace6" stroke="#0d1a3a" stroke-width="0.26"/>
<rect x="27.80" y="448.44" width="7.80" height="6.16" fill="#66ace6" stroke="#0d1a3a" stroke-width="0.26"/>
<rect x="35.60" y="448.44" width="7.80" height="6.16" fill="#66ace6" stroke="#0d1a3a" stroke-width="0.26"/>
<rect x="43.40" y="448.44" width="7.80" height="6.16" fill="#86c0ee" stroke="#0d1a3a" stroke-width="0.26"/>
<rect x="52.20" y="448.44" width="7.80" height="6.16" fill="#f08c92" stroke="#0d1a3a" stroke-width="0.26"/>
<rect x="60.00" y="448.44" width="7.80" height="6.16" fill="#ea636c" stroke="#0d1a3a" stroke-width="0.26"/>
<rect x="67.80" y="448.44" width="7.80" height="6.16" fill="#e4404c" stroke="#0d1a3a" stroke-width="0.26"/>
<rect x="75.60" y="448.44" width="7.80" height="6.16" fill="#de2433" stroke="#0d1a3a" stroke-width="0.26"/>
<rect x="83.40" y="448.44" width="7.80" height="6.16" fill="#de2433" stroke="#0d1a3a" stroke-width="0.26"/>
<text x="93.2" y="453.5" font-size="5.5" text-anchor="start" font-weight="normal" font-style="normal" fill="#222" transform="rotate(0.1 93.2 453.5)">NK/T cells</text>
<rect x="14.00" y="454.60" width="4.80" height="6.16" fill="#0c5a34" stroke="#444" stroke-width="0.26"/>
<rect x="20.00" y="454.60" width="7.80" height="6.16" fill="#86c0ee" stroke="#0d1a3a" stroke-width="0.26"/>
<rect x="27.80" y="454.60" width="7.80" height="6.16" fill="#d6eaf9" stroke="#0d1a3a" stroke-width="0.26"/>
<rect x="35.60" y="454.60" width="7.80" height="6.16" fill="#66ace6" stroke="#0d1a3a" stroke-width="0.26"/>
<rect x="43.40" y="454.60" width="7.80" height="6.16" fill="#66ace6" stroke="#0d1a3a" stroke-width="0.26"/>
<rect x="52.20" y="454.60" width="7.80" height="6.16" fill="#ea636c" stroke="#0d1a3a" stroke-width="0.26"/>
<rect x="60.00" y="454.60" width="7.80" height="6.16" fill="#de2433" stroke="#0d1a3a" stroke-width="0.26"/>
<rect x="67.80" y="454.60" width="7.80" height="6.16" fill="#de2433" stroke="#0d1a3a" stroke-width="0.26"/>
<rect x="75.60" y="454.60" width="7.80" height="6.16" fill="#f6b4b7" stroke="#0d1a3a" stroke-width="0.26"/>
<rect x="83.40" y="454.60" width="7.80" height="6.16" fill="#e4404c" stroke="#0d1a3a" stroke-width="0.26"/>
<text x="93.2" y="459.66" font-size="5.5" text-anchor="start" font-weight="normal" font-style="normal" fill="#222" transform="rotate(0.1 93.2 459.66)">Neutrophils</text>
<rect x="14.00" y="460.76" width="4.80" height="6.16" fill="#0c5a34" stroke="#444" stroke-width="0.26"/>
<rect x="20.00" y="460.76" width="7.80" height="6.16" fill="#66ace6" stroke="#0d1a3a" stroke-width="0.26"/>
<rect x="27.80" y="460.76" width="7.80" height="6.16" fill="#66ace6" stroke="#0d1a3a" stroke-width="0.26"/>
<rect x="35.60" y="460.76" width="7.80" height="6.16" fill="#66ace6" stroke="#0d1a3a" stroke-width="0.26"/>
<rect x="43.40" y="460.76" width="7.80" height="6.16" fill="#66ace6" stroke="#0d1a3a" stroke-width="0.26"/>
<rect x="52.20" y="460.76" width="7.80" height="6.16" fill="#e4404c" stroke="#0d1a3a" stroke-width="0.26"/>
<rect x="60.00" y="460.76" width="7.80" height="6.16" fill="#e4404c" stroke="#0d1a3a" stroke-width="0.26"/>
<rect x="67.80" y="460.76" width="7.80" height="6.16" fill="#de2433" stroke="#0d1a3a" stroke-width="0.26"/>
<rect x="75.60" y="460.76" width="7.80" height="6.16" fill="#e4404c" stroke="#0d1a3a" stroke-width="0.26"/>
<rect x="83.40" y="460.76" width="7.80" height="6.16" fill="#f08c92" stroke="#0d1a3a" stroke-width="0.26"/>
<text x="93.2" y="465.82" font-size="5.5" text-anchor="start" font-weight="normal" font-style="normal" fill="#222" transform="rotate(0.1 93.2 465.82)">Monocytes</text>
<rect x="14.00" y="466.92" width="4.80" height="6.16" fill="#0c5a34" stroke="#444" stroke-width="0.26"/>
<rect x="20.00" y="466.92" width="7.80" height="6.16" fill="#66ace6" stroke="#0d1a3a" stroke-width="0.26"/>
<rect x="27.80" y="466.92" width="7.80" height="6.16" fill="#86c0ee" stroke="#0d1a3a" stroke-width="0.26"/>
<rect x="35.60" y="466.92" width="7.80" height="6.16" fill="#66ace6" stroke="#0d1a3a" stroke-width="0.26"/>
<rect x="43.40" y="466.92" width="7.80" height="6.16" fill="#66ace6" stroke="#0d1a3a" stroke-width="0.26"/>
<rect x="52.20" y="466.92" width="7.80" height="6.16" fill="#de2433" stroke="#0d1a3a" stroke-width="0.26"/>
<rect x="60.00" y="466.92" width="7.80" height="6.16" fill="#de2433" stroke="#0d1a3a" stroke-width="0.26"/>
<rect x="67.80" y="466.92" width="7.80" height="6.16" fill="#de2433" stroke="#0d1a3a" stroke-width="0.26"/>
<rect x="75.60" y="466.92" width="7.80" height="6.16" fill="#ffffff" stroke="#0d1a3a" stroke-width="0.26"/>
<rect x="83.40" y="466.92" width="7.80" height="6.16" fill="#f08c92" stroke="#0d1a3a" stroke-width="0.26"/>
<text x="93.2" y="471.98" font-size="5.5" text-anchor="start" font-weight="normal" font-style="normal" fill="#222" transform="rotate(0.1 93.2 471.98)">Macrophages</text>
<rect x="14.00" y="473.08" width="4.80" height="6.16" fill="#0c5a34" stroke="#444" stroke-width="0.26"/>
<rect x="20.00" y="473.08" width="7.80" height="6.16" fill="#86c0ee" stroke="#0d1a3a" stroke-width="0.26"/>
<rect x="27.80" y="473.08" width="7.80" height="6.16" fill="#86c0ee" stroke="#0d1a3a" stroke-width="0.26"/>
<rect x="35.60" y="473.08" width="7.80" height="6.16" fill="#66ace6" stroke="#0d1a3a" stroke-width="0.26"/>
<rect x="43.40" y="473.08" width="7.80" height="6.16" fill="#66ace6" stroke="#0d1a3a" stroke-width="0.26"/>
<rect x="52.20" y="473.08" width="7.80" height="6.16" fill="#de2433" stroke="#0d1a3a" stroke-width="0.26"/>
<rect x="60.00" y="473.08" width="7.80" height="6.16" fill="#e4404c" stroke="#0d1a3a" stroke-width="0.26"/>
<rect x="67.80" y="473.08" width="7.80" height="6.16" fill="#de2433" stroke="#0d1a3a" stroke-width="0.26"/>
<rect x="75.60" y="473.08" width="7.80" height="6.16" fill="#ffffff" stroke="#0d1a3a" stroke-width="0.26"/>
<rect x="83.40" y="473.08" width="7.80" height="6.16" fill="#ea636c" stroke="#0d1a3a" stroke-width="0.26"/>
<text x="93.2" y="478.14000000000004" font-size="5.5" text-anchor="start" font-weight="normal" font-style="normal" fill="#222" transform="rotate(0.1 93.2 478.14000000000004)">Eosinophils</text>
<rect x="14.00" y="481.20" width="4.80" height="6.05" fill="#eaf6ea" stroke="#444" stroke-width="0.26"/>
<rect x="20.00" y="481.20" width="7.80" height="6.05" fill="#f6b4b7" stroke="#0d1a3a" stroke-width="0.26"/>
<rect x="27.80" y="481.20" width="7.80" height="6.05" fill="#de2433" stroke="#0d1a3a" stroke-width="0.26"/>
<rect x="35.60" y="481.20" width="7.80" height="6.05" fill="#f08c92" stroke="#0d1a3a" stroke-width="0.26"/>
<rect x="43.40" y="481.20" width="7.80" height="6.05" fill="#e4404c" stroke="#0d1a3a" stroke-width="0.26"/>
<rect x="52.20" y="481.20" width="7.80" height="6.05" fill="#aad4f4" stroke="#0d1a3a" stroke-width="0.26"/>
<rect x="60.00" y="481.20" width="7.80" height="6.05" fill="#ea636c" stroke="#0d1a3a" stroke-width="0.26"/>
<rect x="67.80" y="481.20" width="7.80" height="6.05" fill="#66ace6" stroke="#0d1a3a" stroke-width="0.26"/>
<rect x="75.60" y="481.20" width="7.80" height="6.05" fill="#86c0ee" stroke="#0d1a3a" stroke-width="0.26"/>
<rect x="83.40" y="481.20" width="7.80" height="6.05" fill="#66ace6" stroke="#0d1a3a" stroke-width="0.26"/>
<text x="93.2" y="486.205" font-size="5.5" text-anchor="start" font-weight="normal" font-style="normal" fill="#222" transform="rotate(0.1 93.2 486.205)">Mast cells</text>
<rect x="14.00" y="487.25" width="4.80" height="6.05" fill="#dcdcdc" stroke="#444" stroke-width="0.26"/>
<rect x="20.00" y="487.25" width="7.80" height="6.05" fill="#ffffff" stroke="#0d1a3a" stroke-width="0.26"/>
<rect x="27.80" y="487.25" width="7.80" height="6.05" fill="#de2433" stroke="#0d1a3a" stroke-width="0.26"/>
<rect x="35.60" y="487.25" width="7.80" height="6.05" fill="#f08c92" stroke="#0d1a3a" stroke-width="0.26"/>
<rect x="43.40" y="487.25" width="7.80" height="6.05" fill="#de2433" stroke="#0d1a3a" stroke-width="0.26"/>
<rect x="52.20" y="487.25" width="7.80" height="6.05" fill="#ea636c" stroke="#0d1a3a" stroke-width="0.26"/>
<rect x="60.00" y="487.25" width="7.80" height="6.05" fill="#86c0ee" stroke="#0d1a3a" stroke-width="0.26"/>
<rect x="67.80" y="487.25" width="7.80" height="6.05" fill="#aad4f4" stroke="#0d1a3a" stroke-width="0.26"/>
<rect x="75.60" y="487.25" width="7.80" height="6.05" fill="#66ace6" stroke="#0d1a3a" stroke-width="0.26"/>
<rect x="83.40" y="487.25" width="7.80" height="6.05" fill="#66ace6" stroke="#0d1a3a" stroke-width="0.26"/>
<text x="93.2" y="492.255" font-size="5.5" text-anchor="start" font-weight="normal" font-style="normal" fill="#222" transform="rotate(0.1 93.2 492.255)">Myeloid cells</text>
<rect x="14.00" y="493.30" width="4.80" height="6.05" fill="#eaf6ea" stroke="#444" stroke-width="0.26"/>
<rect x="20.00" y="493.30" width="7.80" height="6.05" fill="#f08c92" stroke="#0d1a3a" stroke-width="0.26"/>
<rect x="27.80" y="493.30" width="7.80" height="6.05" fill="#e4404c" stroke="#0d1a3a" stroke-width="0.26"/>
<rect x="35.60" y="493.30" width="7.80" height="6.05" fill="#ea636c" stroke="#0d1a3a" stroke-width="0.26"/>
<rect x="43.40" y="493.30" width="7.80" height="6.05" fill="#de2433" stroke="#0d1a3a" stroke-width="0.26"/>
<rect x="52.20" y="493.30" width="7.80" height="6.05" fill="#f6b4b7" stroke="#0d1a3a" stroke-width="0.26"/>
<rect x="60.00" y="493.30" width="7.80" height="6.05" fill="#d6eaf9" stroke="#0d1a3a" stroke-width="0.26"/>
<rect x="67.80" y="493.30" width="7.80" height="6.05" fill="#66ace6" stroke="#0d1a3a" stroke-width="0.26"/>
<rect x="75.60" y="493.30" width="7.80" height="6.05" fill="#ffffff" stroke="#0d1a3a" stroke-width="0.26"/>
<rect x="83.40" y="493.30" width="7.80" height="6.05" fill="#66ace6" stroke="#0d1a3a" stroke-width="0.26"/>
<text x="93.2" y="498.305" font-size="5.5" text-anchor="start" font-weight="normal" font-style="normal" fill="#222" transform="rotate(0.1 93.2 498.305)">Endothelial cells</text>
<rect x="14.00" y="499.35" width="4.80" height="6.05" fill="#8fd3a3" stroke="#444" stroke-width="0.26"/>
<rect x="20.00" y="499.35" width="7.80" height="6.05" fill="#f6b4b7" stroke="#0d1a3a" stroke-width="0.26"/>
<rect x="27.80" y="499.35" width="7.80" height="6.05" fill="#de2433" stroke="#0d1a3a" stroke-width="0.26"/>
<rect x="35.60" y="499.35" width="7.80" height="6.05" fill="#de2433" stroke="#0d1a3a" stroke-width="0.26"/>
<rect x="43.40" y="499.35" width="7.80" height="6.05" fill="#de2433" stroke="#0d1a3a" stroke-width="0.26"/>
<rect x="52.20" y="499.35" width="7.80" height="6.05" fill="#ffffff" stroke="#0d1a3a" stroke-width="0.26"/>
<rect x="60.00" y="499.35" width="7.80" height="6.05" fill="#86c0ee" stroke="#0d1a3a" stroke-width="0.26"/>
<rect x="67.80" y="499.35" width="7.80" height="6.05" fill="#66ace6" stroke="#0d1a3a" stroke-width="0.26"/>
<rect x="75.60" y="499.35" width="7.80" height="6.05" fill="#86c0ee" stroke="#0d1a3a" stroke-width="0.26"/>
<rect x="83.40" y="499.35" width="7.80" height="6.05" fill="#66ace6" stroke="#0d1a3a" stroke-width="0.26"/>
<text x="93.2" y="504.35499999999996" font-size="5.5" text-anchor="start" font-weight="normal" font-style="normal" fill="#222" transform="rotate(0.1 93.2 504.35499999999996)">Stromal cells</text>
<path d="M13.9 426.9 H12.6 V433.0 H13.9 M13.9 439.2 H12.6 V445.4 H13.9 M13.9 451.5 H12.6 V457.7 H13.9 M13.9 463.8 H12.6 V470.0 H13.9 M12.6 429.9 H11.4 V442.2 H12.6 M12.6 454.5 H11.6 V466.8 H12.6 M11.4 436.0 H10.2 V460.7 H11.6 M10.2 451.5 H9 V476.2 H13.9 M13.9 484.2 H11.8 V490.3 H13.9 M13.9 496.3 H12.2 V502.4 H13.9 M11.8 487.2 H10.2 V499.3 H12.2 M9 463.8 H7.6 V493.3 H10.2 M23.9 505.6 V507 H31.6 V505.6 M39.3 505.6 V506.8 H47 V505.6 M27.7 507 V508.4 H43.2 V506.8 M57 505.6 V507 H64.7 V505.6 M72.5 505.6 V506.6 H80.2 V505.6 M76.3 506.6 V507.6 H87.9 V505.6 M60.8 507 V508.6 H82 V507.6 M35.5 508.4 V510 H71.5 V508.6 " fill="none" stroke="#888" stroke-width="0.35"/>
<text x="160.9" y="443.8" font-size="6.3" text-anchor="middle" font-weight="normal" font-style="normal" fill="#222" transform="rotate(-90.1 160.9 443.8)">% CD45 live</text>
<line x1="173.30" y1="418.30" x2="173.30" y2="469.20" stroke="#222" stroke-width="0.6"/>
<line x1="173.00" y1="468.90" x2="225.00" y2="468.90" stroke="#222" stroke-width="0.6"/>
<line x1="171.50" y1="468.90" x2="173.30" y2="468.90" stroke="#222" stroke-width="0.55"/>
<text x="171.10000000000002" y="471.27599999999995" font-size="6.6" text-anchor="end" font-weight="normal" font-style="normal" fill="#222" transform="rotate(0.1 171.10000000000002 471.27599999999995)">0</text>
<line x1="171.50" y1="452.13" x2="173.30" y2="452.13" stroke="#222" stroke-width="0.55"/>
<text x="171.10000000000002" y="454.5093333333333" font-size="6.6" text-anchor="end" font-weight="normal" font-style="normal" fill="#222" transform="rotate(0.1 171.10000000000002 454.5093333333333)">2</text>
<line x1="171.50" y1="435.37" x2="173.30" y2="435.37" stroke="#222" stroke-width="0.55"/>
<text x="171.10000000000002" y="437.74266666666665" font-size="6.6" text-anchor="end" font-weight="normal" font-style="normal" fill="#222" transform="rotate(0.1 171.10000000000002 437.74266666666665)">4</text>
<line x1="171.50" y1="418.60" x2="173.30" y2="418.60" stroke="#222" stroke-width="0.55"/>
<text x="171.10000000000002" y="420.976" font-size="6.6" text-anchor="end" font-weight="normal" font-style="normal" fill="#222" transform="rotate(0.1 171.10000000000002 420.976)">6</text>
<line x1="185.60" y1="468.90" x2="185.60" y2="470.50" stroke="#222" stroke-width="0.5"/>
<circle cx="183.90" cy="438.72" r="0.78" fill="#1a1a1a"/>
<circle cx="185.26" cy="440.40" r="0.78" fill="#1a1a1a"/>
<circle cx="186.62" cy="448.78" r="0.78" fill="#1a1a1a"/>
<circle cx="184.24" cy="452.13" r="0.78" fill="#1a1a1a"/>
<circle cx="185.60" cy="454.65" r="0.78" fill="#1a1a1a"/>
<circle cx="186.96" cy="456.32" r="0.78" fill="#1a1a1a"/>
<circle cx="184.58" cy="458.00" r="0.78" fill="#1a1a1a"/>
<circle cx="185.94" cy="463.87" r="0.78" fill="#1a1a1a"/>
<circle cx="187.30" cy="466.38" r="0.78" fill="#1a1a1a"/>
<circle cx="184.92" cy="467.64" r="0.78" fill="#1a1a1a"/>
<line x1="177.10" y1="454.48" x2="194.10" y2="454.48" stroke="#111" stroke-width="0.9"/>
<line x1="185.60" y1="457.67" x2="185.60" y2="451.30" stroke="#111" stroke-width="0.55"/>
<line x1="181.30" y1="451.30" x2="189.90" y2="451.30" stroke="#111" stroke-width="0.6"/>
<line x1="181.30" y1="457.67" x2="189.90" y2="457.67" stroke="#111" stroke-width="0.6"/>
<text x="185.6" y="477.3" font-size="6.3" text-anchor="middle" font-weight="normal" font-style="normal" fill="#222" transform="rotate(0.1 185.6 477.3)">Control</text>
<line x1="210.60" y1="468.90" x2="210.60" y2="470.50" stroke="#222" stroke-width="0.5"/>
<circle cx="208.90" cy="426.98" r="0.78" fill="#1a1a1a"/>
<circle cx="210.26" cy="432.85" r="0.78" fill="#1a1a1a"/>
<circle cx="211.62" cy="435.37" r="0.78" fill="#1a1a1a"/>
<circle cx="209.24" cy="436.20" r="0.78" fill="#1a1a1a"/>
<circle cx="210.60" cy="437.88" r="0.78" fill="#1a1a1a"/>
<circle cx="211.96" cy="439.56" r="0.78" fill="#1a1a1a"/>
<circle cx="209.58" cy="441.24" r="0.78" fill="#1a1a1a"/>
<circle cx="210.94" cy="443.75" r="0.78" fill="#1a1a1a"/>
<circle cx="212.30" cy="457.16" r="0.78" fill="#1a1a1a"/>
<line x1="202.10" y1="439.14" x2="219.10" y2="439.14" stroke="#111" stroke-width="0.9"/>
<line x1="210.60" y1="441.91" x2="210.60" y2="436.37" stroke="#111" stroke-width="0.55"/>
<line x1="206.30" y1="436.37" x2="214.90" y2="436.37" stroke="#111" stroke-width="0.6"/>
<line x1="206.30" y1="441.91" x2="214.90" y2="441.91" stroke="#111" stroke-width="0.6"/>
<text x="210.6" y="477.3" font-size="6.3" text-anchor="middle" font-weight="normal" font-style="normal" fill="#222" transform="rotate(0.1 210.6 477.3)">1 Gy</text>
<text x="200" y="408.2" font-size="6.6" text-anchor="middle" font-weight="normal" font-style="normal" fill="#222" transform="rotate(0.1 200 408.2)">CD8</text>
<line x1="183.80" y1="418.40" x2="212.50" y2="418.40" stroke="#333" stroke-width="0.55"/>
<line x1="183.80" y1="417.10" x2="183.80" y2="419.70" stroke="#333" stroke-width="0.55"/>
<line x1="212.50" y1="417.10" x2="212.50" y2="419.70" stroke="#333" stroke-width="0.55"/>
<text x="198.55" y="418.0" font-size="6.7" text-anchor="middle" font-weight="bold" font-style="normal" fill="#222" transform="rotate(0.1 198.55 418.0)" letter-spacing="0.8">**</text>
<line x1="243.00" y1="418.30" x2="243.00" y2="469.20" stroke="#222" stroke-width="0.6"/>
<line x1="242.70" y1="468.90" x2="296.00" y2="468.90" stroke="#222" stroke-width="0.6"/>
<line x1="241.20" y1="468.90" x2="243.00" y2="468.90" stroke="#222" stroke-width="0.55"/>
<text x="240.8" y="471.27599999999995" font-size="6.6" text-anchor="end" font-weight="normal" font-style="normal" fill="#222" transform="rotate(0.1 240.8 471.27599999999995)">0</text>
<line x1="241.20" y1="452.13" x2="243.00" y2="452.13" stroke="#222" stroke-width="0.55"/>
<text x="240.8" y="454.5093333333333" font-size="6.6" text-anchor="end" font-weight="normal" font-style="normal" fill="#222" transform="rotate(0.1 240.8 454.5093333333333)">5</text>
<line x1="241.20" y1="435.37" x2="243.00" y2="435.37" stroke="#222" stroke-width="0.55"/>
<text x="240.8" y="437.74266666666665" font-size="6.6" text-anchor="end" font-weight="normal" font-style="normal" fill="#222" transform="rotate(0.1 240.8 437.74266666666665)">10</text>
<line x1="241.20" y1="418.60" x2="243.00" y2="418.60" stroke="#222" stroke-width="0.55"/>
<text x="240.8" y="420.976" font-size="6.6" text-anchor="end" font-weight="normal" font-style="normal" fill="#222" transform="rotate(0.1 240.8 420.976)">15</text>
<line x1="256.50" y1="468.90" x2="256.50" y2="470.50" stroke="#222" stroke-width="0.5"/>
<circle cx="254.80" cy="443.41" r="0.78" fill="#1a1a1a"/>
<circle cx="256.16" cy="444.76" r="0.78" fill="#1a1a1a"/>
<circle cx="257.52" cy="447.44" r="0.78" fill="#1a1a1a"/>
<circle cx="255.14" cy="450.46" r="0.78" fill="#1a1a1a"/>
<circle cx="256.50" cy="452.13" r="0.78" fill="#1a1a1a"/>
<circle cx="257.86" cy="454.82" r="0.78" fill="#1a1a1a"/>
<circle cx="255.48" cy="464.54" r="0.78" fill="#1a1a1a"/>
<circle cx="256.84" cy="465.88" r="0.78" fill="#1a1a1a"/>
<line x1="248.00" y1="452.47" x2="265.00" y2="452.47" stroke="#111" stroke-width="0.9"/>
<line x1="256.50" y1="455.49" x2="256.50" y2="449.45" stroke="#111" stroke-width="0.55"/>
<line x1="252.20" y1="449.45" x2="260.80" y2="449.45" stroke="#111" stroke-width="0.6"/>
<line x1="252.20" y1="455.49" x2="260.80" y2="455.49" stroke="#111" stroke-width="0.6"/>
<text x="256.5" y="477.3" font-size="6.3" text-anchor="middle" font-weight="normal" font-style="normal" fill="#222" transform="rotate(0.1 256.5 477.3)">Control</text>
<line x1="282.00" y1="468.90" x2="282.00" y2="470.50" stroke="#222" stroke-width="0.5"/>
<circle cx="280.30" cy="423.29" r="0.78" fill="#1a1a1a"/>
<circle cx="281.66" cy="432.01" r="0.78" fill="#1a1a1a"/>
<circle cx="283.02" cy="433.35" r="0.78" fill="#1a1a1a"/>
<circle cx="280.64" cy="434.70" r="0.78" fill="#1a1a1a"/>
<circle cx="282.00" cy="438.72" r="0.78" fill="#1a1a1a"/>
<circle cx="283.36" cy="440.73" r="0.78" fill="#1a1a1a"/>
<circle cx="280.98" cy="444.76" r="0.78" fill="#1a1a1a"/>
<circle cx="282.34" cy="451.46" r="0.78" fill="#1a1a1a"/>
<circle cx="283.70" cy="458.84" r="0.78" fill="#1a1a1a"/>
<line x1="273.50" y1="439.73" x2="290.50" y2="439.73" stroke="#111" stroke-width="0.9"/>
<line x1="282.00" y1="444.42" x2="282.00" y2="435.03" stroke="#111" stroke-width="0.55"/>
<line x1="277.70" y1="435.03" x2="286.30" y2="435.03" stroke="#111" stroke-width="0.6"/>
<line x1="277.70" y1="444.42" x2="286.30" y2="444.42" stroke="#111" stroke-width="0.6"/>
<text x="282" y="477.3" font-size="6.3" text-anchor="middle" font-weight="normal" font-style="normal" fill="#222" transform="rotate(0.1 282 477.3)">1 Gy</text>
<text x="269.5" y="408.2" font-size="6.6" text-anchor="middle" font-weight="normal" font-style="normal" fill="#222" transform="rotate(0.1 269.5 408.2)">CD4</text>
<line x1="254.50" y1="418.40" x2="282.50" y2="418.40" stroke="#333" stroke-width="0.55"/>
<line x1="254.50" y1="417.10" x2="254.50" y2="419.70" stroke="#333" stroke-width="0.55"/>
<line x1="282.50" y1="417.10" x2="282.50" y2="419.70" stroke="#333" stroke-width="0.55"/>
<text x="268.9" y="418.0" font-size="6.7" text-anchor="middle" font-weight="bold" font-style="normal" fill="#222" transform="rotate(0.1 268.9 418.0)" letter-spacing="0.8">*</text>
<line x1="308.80" y1="418.30" x2="308.80" y2="469.20" stroke="#222" stroke-width="0.6"/>
<line x1="308.50" y1="468.90" x2="362.00" y2="468.90" stroke="#222" stroke-width="0.6"/>
<line x1="307.00" y1="468.90" x2="308.80" y2="468.90" stroke="#222" stroke-width="0.55"/>
<text x="306.6" y="471.27599999999995" font-size="6.6" text-anchor="end" font-weight="normal" font-style="normal" fill="#222" transform="rotate(0.1 306.6 471.27599999999995)">0</text>
<line x1="307.00" y1="456.32" x2="308.80" y2="456.32" stroke="#222" stroke-width="0.55"/>
<text x="306.6" y="458.70099999999996" font-size="6.6" text-anchor="end" font-weight="normal" font-style="normal" fill="#222" transform="rotate(0.1 306.6 458.70099999999996)">1</text>
<line x1="307.00" y1="443.75" x2="308.80" y2="443.75" stroke="#222" stroke-width="0.55"/>
<text x="306.6" y="446.126" font-size="6.6" text-anchor="end" font-weight="normal" font-style="normal" fill="#222" transform="rotate(0.1 306.6 446.126)">2</text>
<line x1="307.00" y1="431.18" x2="308.80" y2="431.18" stroke="#222" stroke-width="0.55"/>
<text x="306.6" y="433.551" font-size="6.6" text-anchor="end" font-weight="normal" font-style="normal" fill="#222" transform="rotate(0.1 306.6 433.551)">3</text>
<line x1="307.00" y1="418.60" x2="308.80" y2="418.60" stroke="#222" stroke-width="0.55"/>
<text x="306.6" y="420.976" font-size="6.6" text-anchor="end" font-weight="normal" font-style="normal" fill="#222" transform="rotate(0.1 306.6 420.976)">4</text>
<line x1="322.50" y1="468.90" x2="322.50" y2="470.50" stroke="#222" stroke-width="0.5"/>
<circle cx="316.00" cy="453.81" r="0.78" fill="#1a1a1a"/>
<circle cx="321.20" cy="459.47" r="0.78" fill="#1a1a1a"/>
<circle cx="326.40" cy="460.10" r="0.78" fill="#1a1a1a"/>
<circle cx="317.30" cy="460.35" r="0.78" fill="#1a1a1a"/>
<circle cx="322.50" cy="460.73" r="0.78" fill="#1a1a1a"/>
<circle cx="327.70" cy="461.10" r="0.78" fill="#1a1a1a"/>
<circle cx="318.60" cy="461.35" r="0.78" fill="#1a1a1a"/>
<circle cx="323.80" cy="461.61" r="0.78" fill="#1a1a1a"/>
<circle cx="329.00" cy="461.98" r="0.78" fill="#1a1a1a"/>
<circle cx="319.90" cy="462.61" r="0.78" fill="#1a1a1a"/>
<circle cx="325.10" cy="466.38" r="0.78" fill="#1a1a1a"/>
<line x1="314.00" y1="460.98" x2="331.00" y2="460.98" stroke="#111" stroke-width="0.9"/>
<line x1="322.50" y1="461.73" x2="322.50" y2="460.22" stroke="#111" stroke-width="0.55"/>
<line x1="318.20" y1="460.22" x2="326.80" y2="460.22" stroke="#111" stroke-width="0.6"/>
<line x1="318.20" y1="461.73" x2="326.80" y2="461.73" stroke="#111" stroke-width="0.6"/>
<text x="322.5" y="477.3" font-size="6.3" text-anchor="middle" font-weight="normal" font-style="normal" fill="#222" transform="rotate(0.1 322.5 477.3)">Control</text>
<line x1="347.00" y1="468.90" x2="347.00" y2="470.50" stroke="#222" stroke-width="0.5"/>
<circle cx="345.30" cy="422.37" r="0.78" fill="#1a1a1a"/>
<circle cx="346.66" cy="433.06" r="0.78" fill="#1a1a1a"/>
<circle cx="348.02" cy="439.98" r="0.78" fill="#1a1a1a"/>
<circle cx="345.64" cy="443.75" r="0.78" fill="#1a1a1a"/>
<circle cx="347.00" cy="446.26" r="0.78" fill="#1a1a1a"/>
<circle cx="348.36" cy="450.04" r="0.78" fill="#1a1a1a"/>
<circle cx="345.98" cy="452.55" r="0.78" fill="#1a1a1a"/>
<circle cx="347.34" cy="455.07" r="0.78" fill="#1a1a1a"/>
<circle cx="348.70" cy="456.32" r="0.78" fill="#1a1a1a"/>
<circle cx="346.32" cy="458.84" r="0.78" fill="#1a1a1a"/>
<line x1="338.50" y1="445.64" x2="355.50" y2="445.64" stroke="#111" stroke-width="0.9"/>
<line x1="347.00" y1="449.16" x2="347.00" y2="442.12" stroke="#111" stroke-width="0.55"/>
<line x1="342.70" y1="442.12" x2="351.30" y2="442.12" stroke="#111" stroke-width="0.6"/>
<line x1="342.70" y1="449.16" x2="351.30" y2="449.16" stroke="#111" stroke-width="0.6"/>
<text x="347" y="477.3" font-size="6.3" text-anchor="middle" font-weight="normal" font-style="normal" fill="#222" transform="rotate(0.1 347 477.3)">1 Gy</text>
<text x="331.3" y="408.2" font-size="6.6" text-anchor="middle" font-weight="normal" font-style="normal" fill="#222" transform="rotate(0.1 331.3 408.2)">NK1.1</text>
<line x1="322.00" y1="418.40" x2="348.30" y2="418.40" stroke="#333" stroke-width="0.55"/>
<line x1="322.00" y1="417.10" x2="322.00" y2="419.70" stroke="#333" stroke-width="0.55"/>
<line x1="348.30" y1="417.10" x2="348.30" y2="419.70" stroke="#333" stroke-width="0.55"/>
<text x="335.54999999999995" y="418.0" font-size="6.7" text-anchor="middle" font-weight="bold" font-style="normal" fill="#222" transform="rotate(0.1 335.54999999999995 418.0)" letter-spacing="0.8">**</text>
<line x1="377.00" y1="418.30" x2="377.00" y2="469.20" stroke="#222" stroke-width="0.6"/>
<line x1="376.70" y1="468.90" x2="427.50" y2="468.90" stroke="#222" stroke-width="0.6"/>
<line x1="375.20" y1="468.90" x2="377.00" y2="468.90" stroke="#222" stroke-width="0.55"/>
<text x="374.8" y="471.27599999999995" font-size="6.6" text-anchor="end" font-weight="normal" font-style="normal" fill="#222" transform="rotate(0.1 374.8 471.27599999999995)">0</text>
<line x1="375.20" y1="456.32" x2="377.00" y2="456.32" stroke="#222" stroke-width="0.55"/>
<text x="374.8" y="458.70099999999996" font-size="6.6" text-anchor="end" font-weight="normal" font-style="normal" fill="#222" transform="rotate(0.1 374.8 458.70099999999996)">5</text>
<line x1="375.20" y1="443.75" x2="377.00" y2="443.75" stroke="#222" stroke-width="0.55"/>
<text x="374.8" y="446.126" font-size="6.6" text-anchor="end" font-weight="normal" font-style="normal" fill="#222" transform="rotate(0.1 374.8 446.126)">10</text>
<line x1="375.20" y1="431.18" x2="377.00" y2="431.18" stroke="#222" stroke-width="0.55"/>
<text x="374.8" y="433.551" font-size="6.6" text-anchor="end" font-weight="normal" font-style="normal" fill="#222" transform="rotate(0.1 374.8 433.551)">15</text>
<line x1="375.20" y1="418.60" x2="377.00" y2="418.60" stroke="#222" stroke-width="0.55"/>
<text x="374.8" y="420.976" font-size="6.6" text-anchor="end" font-weight="normal" font-style="normal" fill="#222" transform="rotate(0.1 374.8 420.976)">20</text>
<line x1="389.50" y1="468.90" x2="389.50" y2="470.50" stroke="#222" stroke-width="0.5"/>
<circle cx="387.80" cy="446.26" r="0.78" fill="#1a1a1a"/>
<circle cx="389.16" cy="451.80" r="0.78" fill="#1a1a1a"/>
<circle cx="390.52" cy="453.06" r="0.78" fill="#1a1a1a"/>
<circle cx="388.14" cy="453.81" r="0.78" fill="#1a1a1a"/>
<circle cx="389.50" cy="454.82" r="0.78" fill="#1a1a1a"/>
<circle cx="390.86" cy="455.82" r="0.78" fill="#1a1a1a"/>
<circle cx="388.48" cy="462.86" r="0.78" fill="#1a1a1a"/>
<line x1="381.00" y1="454.06" x2="398.00" y2="454.06" stroke="#111" stroke-width="0.9"/>
<line x1="389.50" y1="455.44" x2="389.50" y2="452.68" stroke="#111" stroke-width="0.55"/>
<line x1="385.20" y1="452.68" x2="393.80" y2="452.68" stroke="#111" stroke-width="0.6"/>
<line x1="385.20" y1="455.44" x2="393.80" y2="455.44" stroke="#111" stroke-width="0.6"/>
<text x="389.5" y="477.3" font-size="6.3" text-anchor="middle" font-weight="normal" font-style="normal" fill="#222" transform="rotate(0.1 389.5 477.3)">Control</text>
<line x1="414.30" y1="468.90" x2="414.30" y2="470.50" stroke="#222" stroke-width="0.5"/>
<circle cx="412.60" cy="426.14" r="0.78" fill="#1a1a1a"/>
<circle cx="413.96" cy="427.40" r="0.78" fill="#1a1a1a"/>
<circle cx="415.32" cy="436.20" r="0.78" fill="#1a1a1a"/>
<circle cx="412.94" cy="441.24" r="0.78" fill="#1a1a1a"/>
<circle cx="414.30" cy="445.01" r="0.78" fill="#1a1a1a"/>
<circle cx="415.66" cy="447.52" r="0.78" fill="#1a1a1a"/>
<circle cx="413.28" cy="448.78" r="0.78" fill="#1a1a1a"/>
<circle cx="414.64" cy="450.04" r="0.78" fill="#1a1a1a"/>
<circle cx="416.00" cy="453.81" r="0.78" fill="#1a1a1a"/>
<line x1="405.80" y1="440.23" x2="422.80" y2="440.23" stroke="#111" stroke-width="0.9"/>
<line x1="414.30" y1="444.00" x2="414.30" y2="436.46" stroke="#111" stroke-width="0.55"/>
<line x1="410.00" y1="436.46" x2="418.60" y2="436.46" stroke="#111" stroke-width="0.6"/>
<line x1="410.00" y1="444.00" x2="418.60" y2="444.00" stroke="#111" stroke-width="0.6"/>
<text x="414.3" y="477.3" font-size="6.3" text-anchor="middle" font-weight="normal" font-style="normal" fill="#222" transform="rotate(0.1 414.3 477.3)">1 Gy</text>
<text x="400" y="408.2" font-size="6.6" text-anchor="middle" font-weight="normal" font-style="normal" fill="#222" transform="rotate(0.1 400 408.2)">CD11b</text>
<line x1="389.50" y1="418.40" x2="414.80" y2="418.40" stroke="#333" stroke-width="0.55"/>
<line x1="389.50" y1="417.10" x2="389.50" y2="419.70" stroke="#333" stroke-width="0.55"/>
<line x1="414.80" y1="417.10" x2="414.80" y2="419.70" stroke="#333" stroke-width="0.55"/>
<text x="402.54999999999995" y="418.0" font-size="6.7" text-anchor="middle" font-weight="bold" font-style="normal" fill="#222" transform="rotate(0.1 402.54999999999995 418.0)" letter-spacing="0.8">**</text>
<line x1="446.30" y1="418.30" x2="446.30" y2="469.20" stroke="#222" stroke-width="0.6"/>
<line x1="446.00" y1="468.90" x2="496.00" y2="468.90" stroke="#222" stroke-width="0.6"/>
<line x1="444.50" y1="468.90" x2="446.30" y2="468.90" stroke="#222" stroke-width="0.55"/>
<text x="444.1" y="471.024" font-size="5.9" text-anchor="end" font-weight="normal" font-style="normal" fill="#222" transform="rotate(0.1 444.1 471.024)">0</text>
<line x1="444.50" y1="458.84" x2="446.30" y2="458.84" stroke="#222" stroke-width="0.55"/>
<text x="444.1" y="460.964" font-size="5.9" text-anchor="end" font-weight="normal" font-style="normal" fill="#222" transform="rotate(0.1 444.1 460.964)">5</text>
<line x1="444.50" y1="448.78" x2="446.30" y2="448.78" stroke="#222" stroke-width="0.55"/>
<text x="444.1" y="450.904" font-size="5.9" text-anchor="end" font-weight="normal" font-style="normal" fill="#222" transform="rotate(0.1 444.1 450.904)">10</text>
<line x1="444.50" y1="438.72" x2="446.30" y2="438.72" stroke="#222" stroke-width="0.55"/>
<text x="444.1" y="440.84400000000005" font-size="5.9" text-anchor="end" font-weight="normal" font-style="normal" fill="#222" transform="rotate(0.1 444.1 440.84400000000005)">15</text>
<line x1="444.50" y1="428.66" x2="446.30" y2="428.66" stroke="#222" stroke-width="0.55"/>
<text x="444.1" y="430.78400000000005" font-size="5.9" text-anchor="end" font-weight="normal" font-style="normal" fill="#222" transform="rotate(0.1 444.1 430.78400000000005)">20</text>
<line x1="444.50" y1="418.60" x2="446.30" y2="418.60" stroke="#222" stroke-width="0.55"/>
<text x="444.1" y="420.72400000000005" font-size="5.9" text-anchor="end" font-weight="normal" font-style="normal" fill="#222" transform="rotate(0.1 444.1 420.72400000000005)">25</text>
<line x1="457.50" y1="468.90" x2="457.50" y2="470.50" stroke="#222" stroke-width="0.5"/>
<circle cx="455.80" cy="451.80" r="0.78" fill="#1a1a1a"/>
<circle cx="457.16" cy="452.40" r="0.78" fill="#1a1a1a"/>
<circle cx="458.52" cy="453.21" r="0.78" fill="#1a1a1a"/>
<circle cx="456.14" cy="454.82" r="0.78" fill="#1a1a1a"/>
<circle cx="457.50" cy="455.62" r="0.78" fill="#1a1a1a"/>
<circle cx="458.86" cy="456.43" r="0.78" fill="#1a1a1a"/>
<circle cx="456.48" cy="457.83" r="0.78" fill="#1a1a1a"/>
<circle cx="457.84" cy="458.84" r="0.78" fill="#1a1a1a"/>
<circle cx="459.20" cy="460.85" r="0.78" fill="#1a1a1a"/>
<circle cx="456.82" cy="462.86" r="0.78" fill="#1a1a1a"/>
<circle cx="458.18" cy="465.68" r="0.78" fill="#1a1a1a"/>
<line x1="449.00" y1="456.43" x2="466.00" y2="456.43" stroke="#111" stroke-width="0.9"/>
<line x1="457.50" y1="457.63" x2="457.50" y2="455.22" stroke="#111" stroke-width="0.55"/>
<line x1="453.20" y1="455.22" x2="461.80" y2="455.22" stroke="#111" stroke-width="0.6"/>
<line x1="453.20" y1="457.63" x2="461.80" y2="457.63" stroke="#111" stroke-width="0.6"/>
<text x="457.5" y="477.3" font-size="6.3" text-anchor="middle" font-weight="normal" font-style="normal" fill="#222" transform="rotate(0.1 457.5 477.3)">Control</text>
<line x1="483.00" y1="468.90" x2="483.00" y2="470.50" stroke="#222" stroke-width="0.5"/>
<circle cx="481.30" cy="426.65" r="0.78" fill="#1a1a1a"/>
<circle cx="482.66" cy="432.68" r="0.78" fill="#1a1a1a"/>
<circle cx="484.02" cy="436.71" r="0.78" fill="#1a1a1a"/>
<circle cx="481.64" cy="437.71" r="0.78" fill="#1a1a1a"/>
<circle cx="483.00" cy="438.72" r="0.78" fill="#1a1a1a"/>
<circle cx="484.36" cy="439.73" r="0.78" fill="#1a1a1a"/>
<circle cx="481.98" cy="440.73" r="0.78" fill="#1a1a1a"/>
<circle cx="483.34" cy="441.74" r="0.78" fill="#1a1a1a"/>
<circle cx="484.70" cy="442.74" r="0.78" fill="#1a1a1a"/>
<circle cx="482.32" cy="444.76" r="0.78" fill="#1a1a1a"/>
<circle cx="483.68" cy="447.17" r="0.78" fill="#1a1a1a"/>
<line x1="474.50" y1="439.12" x2="491.50" y2="439.12" stroke="#111" stroke-width="0.9"/>
<line x1="483.00" y1="440.53" x2="483.00" y2="437.71" stroke="#111" stroke-width="0.55"/>
<line x1="478.70" y1="437.71" x2="487.30" y2="437.71" stroke="#111" stroke-width="0.6"/>
<line x1="478.70" y1="440.53" x2="487.30" y2="440.53" stroke="#111" stroke-width="0.6"/>
<text x="483" y="477.3" font-size="6.3" text-anchor="middle" font-weight="normal" font-style="normal" fill="#222" transform="rotate(0.1 483 477.3)">1 Gy</text>
<text x="467.5" y="408.2" font-size="6.6" text-anchor="middle" font-weight="normal" font-style="normal" fill="#222" transform="rotate(0.1 467.5 408.2)">CD11bCD11c</text>
<line x1="455.00" y1="418.40" x2="483.00" y2="418.40" stroke="#333" stroke-width="0.55"/>
<line x1="455.00" y1="417.10" x2="455.00" y2="419.70" stroke="#333" stroke-width="0.55"/>
<line x1="483.00" y1="417.10" x2="483.00" y2="419.70" stroke="#333" stroke-width="0.55"/>
<text x="469.4" y="418.0" font-size="6.7" text-anchor="middle" font-weight="bold" font-style="normal" fill="#222" transform="rotate(0.1 469.4 418.0)" letter-spacing="0.8">****</text>
<text x="253.5" y="524.4" font-size="6.5" text-anchor="middle" font-weight="normal" font-style="normal" fill="#222" transform="rotate(0.1 253.5 524.4)">Ratio CD8/Foxp3</text>
<text x="193.6" y="562" font-size="6.6" text-anchor="middle" font-weight="normal" font-style="normal" fill="#222" transform="rotate(-90.1 193.6 562)">Number of cells/number</text>
<text x="200.7" y="562" font-size="6.6" text-anchor="middle" font-weight="normal" font-style="normal" fill="#222" transform="rotate(-90.1 200.7 562)">of high-power fields</text>
<line x1="211.30" y1="535.70" x2="211.30" y2="586.80" stroke="#222" stroke-width="0.6"/>
<line x1="211.00" y1="586.50" x2="287.00" y2="586.50" stroke="#222" stroke-width="0.6"/>
<line x1="209.50" y1="586.50" x2="211.30" y2="586.50" stroke="#222" stroke-width="0.55"/>
<text x="209.3" y="588.7" font-size="6.2" text-anchor="end" font-weight="normal" font-style="normal" fill="#222" transform="rotate(0.1 209.3 588.7)">0</text>
<line x1="209.50" y1="576.40" x2="211.30" y2="576.40" stroke="#222" stroke-width="0.55"/>
<text x="209.3" y="578.6" font-size="6.2" text-anchor="end" font-weight="normal" font-style="normal" fill="#222" transform="rotate(0.1 209.3 578.6)">1</text>
<line x1="209.50" y1="566.30" x2="211.30" y2="566.30" stroke="#222" stroke-width="0.55"/>
<text x="209.3" y="568.5" font-size="6.2" text-anchor="end" font-weight="normal" font-style="normal" fill="#222" transform="rotate(0.1 209.3 568.5)">2</text>
<line x1="209.50" y1="556.20" x2="211.30" y2="556.20" stroke="#222" stroke-width="0.55"/>
<text x="209.3" y="558.4000000000001" font-size="6.2" text-anchor="end" font-weight="normal" font-style="normal" fill="#222" transform="rotate(0.1 209.3 558.4000000000001)">3</text>
<line x1="209.50" y1="546.10" x2="211.30" y2="546.10" stroke="#222" stroke-width="0.55"/>
<text x="209.3" y="548.3000000000001" font-size="6.2" text-anchor="end" font-weight="normal" font-style="normal" fill="#222" transform="rotate(0.1 209.3 548.3000000000001)">4</text>
<line x1="209.50" y1="536.00" x2="211.30" y2="536.00" stroke="#222" stroke-width="0.55"/>
<text x="209.3" y="538.2" font-size="6.2" text-anchor="end" font-weight="normal" font-style="normal" fill="#222" transform="rotate(0.1 209.3 538.2)">5</text>
<rect x="213.80" y="572.87" width="13.20" height="13.63" fill="#111"/>
<line x1="220.40" y1="572.87" x2="220.40" y2="562.26" stroke="#111" stroke-width="0.6"/>
<line x1="217.20" y1="562.26" x2="223.60" y2="562.26" stroke="#111" stroke-width="0.6"/>
<text x="215.9" y="595.3" font-size="6.2" text-anchor="middle" font-weight="normal" font-style="normal" fill="#222" transform="rotate(0.1 215.9 595.3)">Control</text>
<rect x="232.50" y="580.44" width="13.30" height="6.06" fill="#111"/>
<line x1="239.15" y1="580.44" x2="239.15" y2="574.88" stroke="#111" stroke-width="0.6"/>
<line x1="235.95" y1="574.88" x2="242.35" y2="574.88" stroke="#111" stroke-width="0.6"/>
<text x="238.8" y="595.3" font-size="6.2" text-anchor="middle" font-weight="normal" font-style="normal" fill="#222" transform="rotate(0.1 238.8 595.3)">0.5 Gy</text>
<rect x="252.00" y="563.27" width="13.00" height="23.23" fill="#111"/>
<line x1="258.50" y1="563.27" x2="258.50" y2="554.18" stroke="#111" stroke-width="0.6"/>
<line x1="255.30" y1="554.18" x2="261.70" y2="554.18" stroke="#111" stroke-width="0.6"/>
<text x="258.3" y="595.3" font-size="6.2" text-anchor="middle" font-weight="normal" font-style="normal" fill="#222" transform="rotate(0.1 258.3 595.3)">1 Gy</text>
<rect x="270.80" y="567.82" width="13.50" height="18.68" fill="#111"/>
<line x1="277.55" y1="567.82" x2="277.55" y2="557.21" stroke="#111" stroke-width="0.6"/>
<line x1="274.35" y1="557.21" x2="280.75" y2="557.21" stroke="#111" stroke-width="0.6"/>
<text x="277.9" y="595.3" font-size="6.2" text-anchor="middle" font-weight="normal" font-style="normal" fill="#222" transform="rotate(0.1 277.9 595.3)">2 Gy</text>
<line x1="218.80" y1="539.00" x2="259.30" y2="539.00" stroke="#333" stroke-width="0.55"/>
<line x1="218.80" y1="537.70" x2="218.80" y2="540.30" stroke="#333" stroke-width="0.55"/>
<line x1="259.30" y1="537.70" x2="259.30" y2="540.30" stroke="#333" stroke-width="0.55"/>
<text x="239.45000000000002" y="538.6" font-size="6.7" text-anchor="middle" font-weight="bold" font-style="normal" fill="#222" transform="rotate(0.1 239.45000000000002 538.6)" letter-spacing="0.8">***</text>
<line x1="259.30" y1="539.00" x2="280.00" y2="539.00" stroke="#333" stroke-width="0.55"/>
<line x1="259.30" y1="537.70" x2="259.30" y2="540.30" stroke="#333" stroke-width="0.55"/>
<line x1="280.00" y1="537.70" x2="280.00" y2="540.30" stroke="#333" stroke-width="0.55"/>
<text x="270.04999999999995" y="538.6" font-size="6.7" text-anchor="middle" font-weight="bold" font-style="normal" fill="#222" transform="rotate(0.1 270.04999999999995 538.6)" letter-spacing="0.8">*</text>
<text x="378.5" y="525.6" font-size="6.4" text-anchor="middle" font-weight="normal" font-style="normal" fill="#222" transform="rotate(0.1 378.5 525.6)">CD8 day 7</text>
<text x="324.7" y="560" font-size="6.4" text-anchor="middle" font-weight="normal" font-style="normal" fill="#222" transform="rotate(-90.1 324.7 560)">% of 45 live</text>
<line x1="336.00" y1="534.70" x2="336.00" y2="586.90" stroke="#222" stroke-width="0.6"/>
<line x1="335.70" y1="586.60" x2="412.50" y2="586.60" stroke="#222" stroke-width="0.6"/>
<line x1="334.20" y1="586.60" x2="336.00" y2="586.60" stroke="#222" stroke-width="0.55"/>
<text x="333.8" y="588.976" font-size="6.6" text-anchor="end" font-weight="normal" font-style="normal" fill="#222" transform="rotate(0.1 333.8 588.976)">0</text>
<line x1="334.20" y1="576.28" x2="336.00" y2="576.28" stroke="#222" stroke-width="0.55"/>
<text x="333.8" y="578.656" font-size="6.6" text-anchor="end" font-weight="normal" font-style="normal" fill="#222" transform="rotate(0.1 333.8 578.656)">2</text>
<line x1="334.20" y1="565.96" x2="336.00" y2="565.96" stroke="#222" stroke-width="0.55"/>
<text x="333.8" y="568.336" font-size="6.6" text-anchor="end" font-weight="normal" font-style="normal" fill="#222" transform="rotate(0.1 333.8 568.336)">4</text>
<line x1="334.20" y1="555.64" x2="336.00" y2="555.64" stroke="#222" stroke-width="0.55"/>
<text x="333.8" y="558.016" font-size="6.6" text-anchor="end" font-weight="normal" font-style="normal" fill="#222" transform="rotate(0.1 333.8 558.016)">6</text>
<line x1="334.20" y1="545.32" x2="336.00" y2="545.32" stroke="#222" stroke-width="0.55"/>
<text x="333.8" y="547.696" font-size="6.6" text-anchor="end" font-weight="normal" font-style="normal" fill="#222" transform="rotate(0.1 333.8 547.696)">8</text>
<line x1="334.20" y1="535.00" x2="336.00" y2="535.00" stroke="#222" stroke-width="0.55"/>
<text x="333.8" y="537.376" font-size="6.6" text-anchor="end" font-weight="normal" font-style="normal" fill="#222" transform="rotate(0.1 333.8 537.376)">10</text>
<line x1="346.00" y1="586.60" x2="346.00" y2="588.20" stroke="#222" stroke-width="0.5"/>
<circle cx="344.20" cy="572.67" r="0.78" fill="#1a1a1a"/>
<circle cx="345.64" cy="575.76" r="0.78" fill="#1a1a1a"/>
<circle cx="347.08" cy="576.28" r="0.78" fill="#1a1a1a"/>
<circle cx="344.56" cy="576.80" r="0.78" fill="#1a1a1a"/>
<circle cx="346.00" cy="577.31" r="0.78" fill="#1a1a1a"/>
<circle cx="347.44" cy="577.83" r="0.78" fill="#1a1a1a"/>
<circle cx="344.92" cy="578.34" r="0.78" fill="#1a1a1a"/>
<circle cx="346.36" cy="578.86" r="0.78" fill="#1a1a1a"/>
<circle cx="347.80" cy="579.38" r="0.78" fill="#1a1a1a"/>
<line x1="339.50" y1="577.31" x2="352.50" y2="577.31" stroke="#111" stroke-width="0.9"/>
<line x1="346.00" y1="577.93" x2="346.00" y2="576.69" stroke="#111" stroke-width="0.55"/>
<line x1="342.50" y1="576.69" x2="349.50" y2="576.69" stroke="#111" stroke-width="0.6"/>
<line x1="342.50" y1="577.93" x2="349.50" y2="577.93" stroke="#111" stroke-width="0.6"/>
<text x="346" y="595.2" font-size="6.0" text-anchor="middle" font-weight="normal" font-style="normal" fill="#222" transform="rotate(0.1 346 595.2)">Control</text>
<line x1="365.80" y1="586.60" x2="365.80" y2="588.20" stroke="#222" stroke-width="0.5"/>
<circle cx="364.00" cy="544.29" r="0.78" fill="#1a1a1a"/>
<circle cx="365.44" cy="554.61" r="0.78" fill="#1a1a1a"/>
<circle cx="366.88" cy="560.80" r="0.78" fill="#1a1a1a"/>
<circle cx="364.36" cy="563.90" r="0.78" fill="#1a1a1a"/>
<circle cx="365.80" cy="566.48" r="0.78" fill="#1a1a1a"/>
<circle cx="367.24" cy="569.57" r="0.78" fill="#1a1a1a"/>
<circle cx="364.72" cy="572.15" r="0.78" fill="#1a1a1a"/>
<circle cx="366.16" cy="575.25" r="0.78" fill="#1a1a1a"/>
<line x1="359.30" y1="563.38" x2="372.30" y2="563.38" stroke="#111" stroke-width="0.9"/>
<line x1="365.80" y1="568.02" x2="365.80" y2="558.74" stroke="#111" stroke-width="0.55"/>
<line x1="362.30" y1="558.74" x2="369.30" y2="558.74" stroke="#111" stroke-width="0.6"/>
<line x1="362.30" y1="568.02" x2="369.30" y2="568.02" stroke="#111" stroke-width="0.6"/>
<text x="365.8" y="595.2" font-size="6.0" text-anchor="middle" font-weight="normal" font-style="normal" fill="#222" transform="rotate(0.1 365.8 595.2)">1 Gy</text>
<line x1="384.50" y1="586.60" x2="384.50" y2="588.20" stroke="#222" stroke-width="0.5"/>
<circle cx="382.70" cy="575.76" r="0.78" fill="#1a1a1a"/>
<circle cx="384.14" cy="576.80" r="0.78" fill="#1a1a1a"/>
<circle cx="385.58" cy="577.83" r="0.78" fill="#1a1a1a"/>
<circle cx="383.06" cy="578.34" r="0.78" fill="#1a1a1a"/>
<circle cx="384.50" cy="578.86" r="0.78" fill="#1a1a1a"/>
<circle cx="385.94" cy="579.38" r="0.78" fill="#1a1a1a"/>
<circle cx="383.42" cy="579.89" r="0.78" fill="#1a1a1a"/>
<circle cx="384.86" cy="580.92" r="0.78" fill="#1a1a1a"/>
<circle cx="386.30" cy="583.50" r="0.78" fill="#1a1a1a"/>
<line x1="378.00" y1="578.86" x2="391.00" y2="578.86" stroke="#111" stroke-width="0.9"/>
<line x1="384.50" y1="579.89" x2="384.50" y2="577.83" stroke="#111" stroke-width="0.55"/>
<line x1="381.00" y1="577.83" x2="388.00" y2="577.83" stroke="#111" stroke-width="0.6"/>
<line x1="381.00" y1="579.89" x2="388.00" y2="579.89" stroke="#111" stroke-width="0.6"/>
<line x1="403.30" y1="586.60" x2="403.30" y2="588.20" stroke="#222" stroke-width="0.5"/>
<circle cx="401.50" cy="576.54" r="0.78" fill="#1a1a1a"/>
<circle cx="402.94" cy="576.80" r="0.78" fill="#1a1a1a"/>
<circle cx="404.38" cy="577.05" r="0.78" fill="#1a1a1a"/>
<circle cx="401.86" cy="577.31" r="0.78" fill="#1a1a1a"/>
<circle cx="403.30" cy="577.57" r="0.78" fill="#1a1a1a"/>
<circle cx="404.74" cy="577.83" r="0.78" fill="#1a1a1a"/>
<line x1="396.80" y1="577.31" x2="409.80" y2="577.31" stroke="#111" stroke-width="0.9"/>
<line x1="403.30" y1="577.62" x2="403.30" y2="577.00" stroke="#111" stroke-width="0.55"/>
<line x1="399.80" y1="577.00" x2="406.80" y2="577.00" stroke="#111" stroke-width="0.6"/>
<line x1="399.80" y1="577.62" x2="406.80" y2="577.62" stroke="#111" stroke-width="0.6"/>
<text x="377.9" y="595.2" font-size="6.0" text-anchor="start" font-weight="normal" font-style="normal" fill="#222" transform="rotate(0.1 377.9 595.2)">1 Gy</text>
<text x="377.9" y="601.9000000000001" font-size="6.0" text-anchor="start" font-weight="normal" font-style="normal" fill="#222" transform="rotate(0.1 377.9 601.9000000000001)">IFNγ</text>
<text x="377.9" y="608.6" font-size="6.0" text-anchor="start" font-weight="normal" font-style="normal" fill="#222" transform="rotate(0.1 377.9 608.6)">dep</text>
<text x="396.8" y="595.2" font-size="6.0" text-anchor="start" font-weight="normal" font-style="normal" fill="#222" transform="rotate(0.1 396.8 595.2)">1 Gy</text>
<text x="396.8" y="601.9000000000001" font-size="6.0" text-anchor="start" font-weight="normal" font-style="normal" fill="#222" transform="rotate(0.1 396.8 601.9000000000001)">IFN-AR</text>
<text x="396.8" y="608.6" font-size="6.0" text-anchor="start" font-weight="normal" font-style="normal" fill="#222" transform="rotate(0.1 396.8 608.6)">blockade</text>
<line x1="365.80" y1="533.50" x2="403.30" y2="533.50" stroke="#333" stroke-width="0.55"/>
<line x1="365.80" y1="532.20" x2="365.80" y2="534.80" stroke="#333" stroke-width="0.55"/>
<line x1="403.30" y1="532.20" x2="403.30" y2="534.80" stroke="#333" stroke-width="0.55"/>
<text x="384.95" y="533.1" font-size="6.7" text-anchor="middle" font-weight="bold" font-style="normal" fill="#222" transform="rotate(0.1 384.95 533.1)" letter-spacing="0.8">*</text>
<line x1="347.00" y1="539.00" x2="365.00" y2="539.00" stroke="#333" stroke-width="0.55"/>
<line x1="347.00" y1="537.70" x2="347.00" y2="540.30" stroke="#333" stroke-width="0.55"/>
<line x1="365.00" y1="537.70" x2="365.00" y2="540.30" stroke="#333" stroke-width="0.55"/>
<text x="356.4" y="538.6" font-size="6.7" text-anchor="middle" font-weight="bold" font-style="normal" fill="#222" transform="rotate(0.1 356.4 538.6)" letter-spacing="0.8">*</text>
<line x1="366.30" y1="539.00" x2="383.60" y2="539.00" stroke="#333" stroke-width="0.55"/>
<line x1="366.30" y1="537.70" x2="366.30" y2="540.30" stroke="#333" stroke-width="0.55"/>
<line x1="383.60" y1="537.70" x2="383.60" y2="540.30" stroke="#333" stroke-width="0.55"/>
<text x="375.35" y="538.6" font-size="6.7" text-anchor="middle" font-weight="bold" font-style="normal" fill="#222" transform="rotate(0.1 375.35 538.6)" letter-spacing="0.8">*</text>
</svg>
</body></html>
